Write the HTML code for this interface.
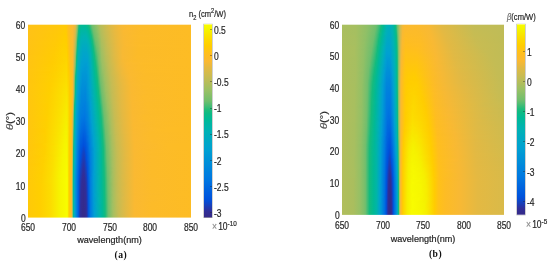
<!DOCTYPE html>
<html><head><meta charset="utf-8"><style>
html,body{margin:0;padding:0;background:#fff;width:550px;height:266px;overflow:hidden}
body{position:relative;font-family:"Liberation Sans",Arial,sans-serif;color:#262626;-webkit-text-stroke-width:0.2px}
.hm{position:absolute;overflow:hidden;transform-origin:0 0}
.hm i{position:absolute;left:0;width:100%;height:2px;display:block}
.cb{position:absolute;box-shadow:0 0 0 0.6px rgba(60,60,60,0.4)}
.t{position:absolute;font-size:10.1px;line-height:10.1px;white-space:nowrap;transform:scaleX(0.84);transform-origin:0 0}
.t.r{transform-origin:100% 0}
.t.c{transform-origin:50% 0}
.r{text-align:right}
.c{text-align:center}
.l{position:absolute;font-size:9.1px;line-height:9.1px;white-space:nowrap}
.tk{position:absolute;width:1.6px;height:1px;background:rgba(38,38,38,0.4)}
.yl{transform:translate(-50%,-50%) rotate(-90deg) scaleY(0.77);transform-origin:center;font-size:11.2px;line-height:11.2px}
.ct{position:absolute;font-size:8.6px;line-height:8.6px;white-space:nowrap;transform:scaleX(0.88);transform-origin:0 0}
.l sub,.l sup,.t sup,.ct sub,.ct sup{font-size:0.75em;line-height:0}
.x{color:#8a8a8a}
.cap{-webkit-text-stroke-width:0;position:absolute;font-family:"Liberation Serif","Times New Roman",serif;font-weight:bold;font-size:9.6px;line-height:10px;color:#111;letter-spacing:0.5px}
</style></head><body>
<div class="hm" style="left:28px;top:24px;width:163px;height:193px;transform:translateY(0.4px) scaleY(1)"><i style="top:0px;background:linear-gradient(90deg,#ffc217 0px,#ffc80b 31.5px,#ffca06 37.5px,#ffc70b 38.5px,#ffbe20 40.5px,#fab931 44.5px,#edb93c 46.5px,#e0ba45 47.5px,#b8bd59 48.5px,#88bf68 49.5px,#41bc76 50.5px,#0fbb83 51.5px,#04b991 53.5px,#03b992 57.5px,#14bb7d 60.5px,#63be70 63.5px,#73be6d 64.5px,#a5bf60 70.5px,#bcbd58 73.5px,#e7b941 85.5px,#f9b933 94.5px,#fcbb29 111.5px,#fdbc24 163px)"></i><i style="top:1px;background:linear-gradient(90deg,#ffc217 0px,#ffc70b 30.5px,#ffca06 37.5px,#ffc215 39.5px,#fdbc24 41.5px,#fab931 44.5px,#ecb93d 46.5px,#deba46 47.5px,#b4bd5b 48.5px,#83bf69 49.5px,#39bc77 50.5px,#0dba86 51.5px,#01b995 53.5px,#00b996 57.5px,#11bb81 60.5px,#27bc7a 61.5px,#5cbd71 63.5px,#70be6d 64.5px,#9ac064 69.5px,#b6bd5a 72.5px,#e4b942 84.5px,#f9b933 94.5px,#fcbb29 111.5px,#fdbc24 163px)"></i><i style="top:2px;background:linear-gradient(90deg,#ffc217 0px,#ffc80b 30.5px,#ffca05 37.5px,#ffc80a 38.5px,#ffbe1f 40.5px,#fab931 44.5px,#ebb93d 46.5px,#dcba47 47.5px,#b1be5c 48.5px,#7fbf6a 49.5px,#32bc78 50.5px,#0bba89 51.5px,#00b998 53.5px,#00b899 57.5px,#07ba8d 59.5px,#0eba84 60.5px,#1dbb7b 61.5px,#56bd72 63.5px,#6ebe6e 64.5px,#98c065 69.5px,#b5bd5a 72.5px,#e1b944 83.5px,#f9b933 94.5px,#fcbb29 111.5px,#fdbc24 163px)"></i><i style="top:3px;background:linear-gradient(90deg,#ffc217 0px,#ffc80b 30.5px,#ffcb04 37.5px,#ffc809 38.5px,#ffbe1f 40.5px,#fab931 44.5px,#eab93e 46.5px,#daba48 47.5px,#adbe5d 48.5px,#7bbf6b 49.5px,#2abc79 50.5px,#08ba8b 51.5px,#01b995 52.5px,#00b89c 54.5px,#00b89c 57.5px,#04b991 59.5px,#14bb7d 61.5px,#4fbd73 63.5px,#68be6f 64.5px,#7dbf6b 66.5px,#96c065 69.5px,#b4be5b 72.5px,#d6ba4a 80.5px,#f2b938 90.5px,#fbba2f 98.5px,#fdbc27 123.5px,#fdbc24 163px)"></i><i style="top:4px;background:linear-gradient(90deg,#ffc216 0px,#ffc80b 29.5px,#ffcb04 37.5px,#ffc908 38.5px,#ffbe1e 40.5px,#fab931 44.5px,#e8b93f 46.5px,#d7ba49 47.5px,#a9bf5f 48.5px,#77be6c 49.5px,#23bb7b 50.5px,#06ba8e 51.5px,#00b997 52.5px,#00b79f 54.5px,#00b79f 57.5px,#01b994 59.5px,#11bb81 61.5px,#63be70 64.5px,#73be6d 65.5px,#9fc062 70.5px,#b3be5b 72.5px,#d5ba4b 80.5px,#f2b938 90.5px,#fbba2f 98.5px,#fdbc27 120.5px,#fdbc24 163px)"></i><i style="top:5px;background:linear-gradient(90deg,#ffc216 0px,#ffc80a 30.5px,#ffcb03 37.5px,#ffc412 39.5px,#febd23 41.5px,#fab931 44.5px,#e7b940 46.5px,#d5ba4b 47.5px,#a6bf60 48.5px,#73be6d 49.5px,#1bbb7c 50.5px,#04b991 51.5px,#00b79f 53.5px,#00b6a1 57.5px,#00b998 59.5px,#0eba84 61.5px,#23bc7a 62.5px,#5dbd71 64.5px,#71be6d 65.5px,#92c066 69.5px,#b1be5c 72.5px,#c9bc52 77.5px,#ebb93d 87.5px,#fab931 96.5px,#fcbb28 115.5px,#fdbc24 163px)"></i><i style="top:6px;background:linear-gradient(90deg,#ffc216 0px,#ffc80a 29.5px,#ffcc02 37.5px,#ffca07 38.5px,#ffbf1d 40.5px,#fab931 44.5px,#e6b941 46.5px,#d3bb4c 47.5px,#a2bf61 48.5px,#6fbe6e 49.5px,#14bb7d 50.5px,#02b994 51.5px,#00b6a2 53.5px,#00b6a4 57.5px,#00b89b 59.5px,#03b993 60.5px,#0cba87 61.5px,#1bbb7c 62.5px,#57bd72 64.5px,#6fbe6e 65.5px,#91c066 69.5px,#b0be5c 72.5px,#c5bc54 76.5px,#e8b940 86.5px,#fab932 95.5px,#fcbb28 115.5px,#fdbc24 163px)"></i><i style="top:7px;background:linear-gradient(90deg,#ffc216 0px,#ffc909 30.5px,#ffcc02 37.5px,#ffca06 38.5px,#ffbf1c 40.5px,#fab931 44.5px,#e5b942 46.5px,#d0bb4d 47.5px,#9fc063 48.5px,#68be6f 49.5px,#12bb80 50.5px,#00b996 51.5px,#00b6a4 53.5px,#00b5a7 57.5px,#00b79e 59.5px,#00b996 60.5px,#14bb7e 62.5px,#51bd73 64.5px,#6bbe6e 65.5px,#9ac064 70.5px,#b6bd5a 73.5px,#e2b943 84.5px,#fab932 95.5px,#fcbb28 113.5px,#fdbc24 163px)"></i><i style="top:8px;background:linear-gradient(90deg,#ffc216 0px,#ffc809 29.5px,#ffcd01 37.5px,#ffca05 38.5px,#ffbf1b 40.5px,#fab930 44.5px,#f2b938 45.5px,#e3b943 46.5px,#cebb4f 47.5px,#9bc064 48.5px,#5fbd71 49.5px,#10bb83 50.5px,#00b898 51.5px,#00b5a7 53.5px,#00b4a9 57.5px,#00b7a1 59.5px,#00b899 60.5px,#11bb81 62.5px,#66be6f 65.5px,#74be6d 66.5px,#8dbf67 69.5px,#aebe5d 72.5px,#c3bc55 76.5px,#e7b940 86.5px,#f9b932 95.5px,#fcbb28 113.5px,#fdbc24 163px)"></i><i style="top:9px;background:linear-gradient(90deg,#ffc216 0px,#ffc908 30.5px,#ffcd00 37.5px,#ffc50f 39.5px,#ffc01b 40.5px,#fab930 44.5px,#f1b939 45.5px,#e2b943 46.5px,#ccbb50 47.5px,#97c065 48.5px,#55bd72 49.5px,#0dba85 50.5px,#00b89a 51.5px,#00b5a9 53.5px,#00b4ac 57.5px,#00b6a4 59.5px,#04b992 61.5px,#0fba84 62.5px,#24bc7a 63.5px,#61be70 65.5px,#72be6d 66.5px,#8bbf68 69.5px,#adbe5d 72.5px,#c3bc55 76.5px,#e7b941 86.5px,#f9b932 95.5px,#fcbb28 113.5px,#fdbc24 163px)"></i><i style="top:10px;background:linear-gradient(90deg,#ffc216 0px,#ffc907 30.5px,#ffcd00 37.5px,#ffcb04 38.5px,#ffc01a 40.5px,#fab930 44.5px,#f1b939 45.5px,#e1b944 46.5px,#c9bb51 47.5px,#93c066 48.5px,#4cbd74 49.5px,#0bba88 50.5px,#00b89c 51.5px,#00b4ab 53.5px,#00b3af 55.5px,#00b4ad 58.5px,#01b995 61.5px,#0cba87 62.5px,#1dbb7c 63.5px,#5bbd71 65.5px,#70be6d 66.5px,#89bf68 69.5px,#abbe5e 72.5px,#c2bc55 76.5px,#e6b941 86.5px,#f8b934 94.5px,#fcbb29 110.5px,#fdbc24 163px)"></i><i style="top:11px;background:linear-gradient(90deg,#ffc216 0px,#ffca07 30.5px,#ffce00 37.5px,#ffcc03 38.5px,#ffc019 40.5px,#fbba30 44.5px,#f0b939 45.5px,#dfba45 46.5px,#c7bc53 47.5px,#8fbf67 48.5px,#43bd75 49.5px,#09ba8b 50.5px,#00b79e 51.5px,#00b3ae 53.5px,#00b3b1 57.5px,#00b5a9 59.5px,#00b998 61.5px,#16bb7d 63.5px,#56bd72 65.5px,#6ebe6e 66.5px,#93c066 70.5px,#b2be5b 73.5px,#ddba46 83.5px,#f6b935 93.5px,#fcbb2b 104.5px,#fdbc24 163px)"></i><i style="top:12px;background:linear-gradient(90deg,#ffc215 0px,#ffc809 27.5px,#ffce00 37.5px,#ffcc02 38.5px,#ffc119 40.5px,#fbba30 44.5px,#f0b93a 45.5px,#deba46 46.5px,#c4bc54 47.5px,#8cbf67 48.5px,#3bbc77 49.5px,#07ba8d 50.5px,#00b7a0 51.5px,#00b3b0 53.5px,#00b2b4 55.5px,#00b2b2 58.5px,#00b89b 61.5px,#12bb7f 63.5px,#50bd73 65.5px,#6abe6f 66.5px,#91c066 70.5px,#a9bf5f 72.5px,#c1bc56 76.5px,#e6b941 86.5px,#f9b933 95.5px,#fcbb28 111.5px,#fdbc24 163px)"></i><i style="top:13px;background:linear-gradient(90deg,#ffc215 0px,#ffc908 28.5px,#ffce00 36.5px,#ffcc01 38.5px,#ffbe20 41.5px,#fbba30 44.5px,#efb93a 45.5px,#ddba46 46.5px,#c1bc56 47.5px,#88bf68 48.5px,#32bc78 49.5px,#05b990 50.5px,#00b6a2 51.5px,#00b2b2 53.5px,#00b1b5 57.5px,#00b2b5 58.5px,#00b79d 61.5px,#05b990 62.5px,#10bb82 63.5px,#2abc79 64.5px,#4bbd74 65.5px,#66be6f 66.5px,#7bbf6b 68.5px,#b0be5c 73.5px,#d4bb4b 81.5px,#eeb93b 89.5px,#fab931 97.5px,#fcbb28 113.5px,#fdbc24 163px)"></i><i style="top:14px;background:linear-gradient(90deg,#ffc215 0px,#ffca07 29.5px,#ffce00 36.5px,#ffcd01 38.5px,#ffbe1f 41.5px,#fbba2f 44.5px,#efb93a 45.5px,#dbba47 46.5px,#bfbc57 47.5px,#84bf69 48.5px,#29bc79 49.5px,#03b993 50.5px,#00b6a4 51.5px,#00b2b4 53.5px,#00b0b7 57.5px,#00b3b2 59.5px,#00b7a0 61.5px,#03b993 62.5px,#0eba84 63.5px,#24bc7a 64.5px,#61be70 66.5px,#72be6d 67.5px,#82bf69 69.5px,#afbe5d 73.5px,#dcba47 83.5px,#f8b934 94.5px,#fcbb28 111.5px,#fdbc24 163px)"></i><i style="top:15px;background:linear-gradient(90deg,#ffc215 0px,#ffc907 28.5px,#ffce00 35.5px,#ffcd00 38.5px,#ffbe1f 41.5px,#fbba2f 44.5px,#eeb93b 45.5px,#daba48 46.5px,#bcbd58 47.5px,#80bf6a 48.5px,#21bb7b 49.5px,#01b995 50.5px,#00b5a6 51.5px,#00b1b6 53.5px,#00b0b8 58.5px,#00b4ac 60.5px,#00b996 62.5px,#1dbb7b 64.5px,#5cbd71 66.5px,#70be6e 67.5px,#8cbf67 70.5px,#aebe5d 73.5px,#cbbb50 79.5px,#e7b940 87.5px,#f9b933 95.5px,#fcbb28 111.5px,#fdbc24 163px)"></i><i style="top:16px;background:linear-gradient(90deg,#ffc315 0px,#ffca06 29.5px,#ffcf00 35.5px,#ffcd00 38.5px,#ffbe1e 41.5px,#fbba2f 44.5px,#eeb93b 45.5px,#d8ba49 46.5px,#b9bd59 47.5px,#7dbf6b 48.5px,#18bb7c 49.5px,#00b997 50.5px,#00b5a8 51.5px,#00b0b7 53.5px,#00aeba 57.5px,#00b1b6 59.5px,#00b6a5 61.5px,#00b898 62.5px,#17bb7d 64.5px,#3abc77 65.5px,#57bd72 66.5px,#6ebe6e 67.5px,#8abf68 70.5px,#adbe5d 73.5px,#d3bb4c 81.5px,#f4b936 92.5px,#fbba2e 100.5px,#fdbc27 119.5px,#fdbc24 163px)"></i><i style="top:17px;background:linear-gradient(90deg,#ffc315 0px,#ffca06 28.5px,#ffcf00 36.5px,#ffce00 38.5px,#ffbe1e 41.5px,#fbba2f 44.5px,#edb93c 45.5px,#d7ba4a 46.5px,#b6bd5a 47.5px,#79be6c 48.5px,#13bb7e 49.5px,#00b899 50.5px,#00b4aa 51.5px,#00b2b4 52.5px,#00adbc 55.5px,#00aebb 58.5px,#00b3b1 60.5px,#00b89b 62.5px,#13bb7e 64.5px,#52bd73 66.5px,#6abe6f 67.5px,#89bf68 70.5px,#abbe5e 73.5px,#c6bc53 78.5px,#eab93e 88.5px,#fab932 96.5px,#fcbb28 112.5px,#fdbc24 163px)"></i><i style="top:18px;background:linear-gradient(90deg,#ffc315 0px,#ffcb05 29.5px,#ffcf00 35.5px,#ffce00 38.5px,#ffbe1d 41.5px,#fbba2f 44.5px,#edb93c 45.5px,#d5ba4b 46.5px,#b3be5b 47.5px,#75be6c 48.5px,#11bb81 49.5px,#00b89b 50.5px,#00b4ac 51.5px,#00afb9 53.5px,#00adbd 57.5px,#00b2b4 60.5px,#00b79d 62.5px,#11bb81 64.5px,#4ebd73 66.5px,#65be6f 67.5px,#7cbf6b 69.5px,#aabe5e 73.5px,#c5bc54 78.5px,#e3b942 86.5px,#f7b934 94.5px,#fcbb29 107.5px,#fdbc24 163px)"></i><i style="top:19px;background:linear-gradient(90deg,#ffc315 0px,#ffca06 27.5px,#fed000 35.5px,#ffcf00 38.5px,#ffc907 39.5px,#ffbf1d 41.5px,#fbba2e 44.5px,#ecb93c 45.5px,#d4bb4c 46.5px,#b0be5c 47.5px,#72be6d 48.5px,#0eba84 49.5px,#00b79d 50.5px,#00b3ae 51.5px,#00aebb 53.5px,#00acbe 58.5px,#00b1b5 60.5px,#00b79f 62.5px,#04b991 63.5px,#0fbb83 64.5px,#29bc7a 65.5px,#49bd74 66.5px,#61be70 67.5px,#71be6d 68.5px,#92c066 71.5px,#a9bf5f 73.5px,#c9bb52 79.5px,#ecb93c 89.5px,#fab932 96.5px,#fcbb28 112.5px,#fdbc24 163px)"></i><i style="top:20px;background:linear-gradient(90deg,#ffc314 0px,#ffca06 27.5px,#fed000 35.5px,#ffcf00 38.5px,#ffbf1c 41.5px,#fbba2e 44.5px,#ecb93d 45.5px,#d2bb4c 46.5px,#adbe5d 47.5px,#6ebe6e 48.5px,#0cba87 49.5px,#00b79f 50.5px,#00b3b0 51.5px,#00abbf 54.5px,#00abbf 58.5px,#00b0b7 60.5px,#00b3af 61.5px,#02b993 63.5px,#0eba85 64.5px,#23bc7a 65.5px,#44bd75 66.5px,#5dbd71 67.5px,#70be6e 68.5px,#83bf69 70.5px,#a8bf5f 73.5px,#cdbb50 80.5px,#efb93b 90.5px,#fbba30 98.5px,#fdbc28 114.5px,#fdbc24 163px)"></i><i style="top:21px;background:linear-gradient(90deg,#ffc314 0px,#ffc907 25.5px,#fed000 35.5px,#ffcf00 38.5px,#ffca06 39.5px,#ffbf1c 41.5px,#fbba2e 44.5px,#ebb93d 45.5px,#d0bb4d 46.5px,#aabe5e 47.5px,#67be6f 48.5px,#0aba89 49.5px,#00b6a1 50.5px,#00b3b2 51.5px,#00abc0 54.5px,#00abc0 58.5px,#00b3b1 61.5px,#00b996 63.5px,#0cba87 64.5px,#1ebb7b 65.5px,#3fbc76 66.5px,#6ebe6e 68.5px,#8fbf67 71.5px,#a7bf60 73.5px,#c8bc52 79.5px,#ecb93d 89.5px,#fab931 97.5px,#fdbc28 113.5px,#fdbc24 163px)"></i><i style="top:22px;background:linear-gradient(90deg,#ffc314 0px,#ffca05 27.5px,#fed100 35.5px,#fed000 38.5px,#ffca05 39.5px,#ffbf1b 41.5px,#fbba2e 44.5px,#ebb93e 45.5px,#cfbb4e 46.5px,#a7bf5f 47.5px,#5ebd71 48.5px,#08ba8c 49.5px,#00b6a3 50.5px,#00b2b3 51.5px,#00aac1 54.5px,#00aac2 58.5px,#00b2b3 61.5px,#00b998 63.5px,#18bb7c 65.5px,#3abc77 66.5px,#6abe6f 68.5px,#a6bf60 73.5px,#c7bc53 79.5px,#e5b942 87.5px,#f8b933 95.5px,#fcbb28 111.5px,#fdbc24 163px)"></i><i style="top:23px;background:linear-gradient(90deg,#ffc314 0px,#ffcb05 27.5px,#fed100 35.5px,#fed000 38.5px,#ffcb04 39.5px,#ffc01b 41.5px,#fbba2e 44.5px,#eab93e 45.5px,#cdbb4f 46.5px,#a4bf60 47.5px,#57bd72 48.5px,#06ba8e 49.5px,#00b5a5 50.5px,#00b2b5 51.5px,#00a9c3 54.5px,#00a9c3 58.5px,#00b1b5 61.5px,#00b89a 63.5px,#14bb7e 65.5px,#36bc77 66.5px,#66be6f 68.5px,#a4bf60 73.5px,#bdbd57 77.5px,#e5b942 87.5px,#f8b933 95.5px,#fcbb28 111.5px,#fdbc24 163px)"></i><i style="top:24px;background:linear-gradient(90deg,#ffc314 0px,#ffcb04 27.5px,#fed200 37.5px,#ffcb03 39.5px,#ffc01a 41.5px,#fbba2d 44.5px,#e9b93e 45.5px,#cbbb50 46.5px,#a2bf62 47.5px,#4fbd73 48.5px,#04b991 49.5px,#00b5a7 50.5px,#00b1b6 51.5px,#00a8c4 54.5px,#00a8c4 58.5px,#00b1b6 61.5px,#00b89c 63.5px,#12bb7f 65.5px,#4cbd74 67.5px,#62be70 68.5px,#7dbf6b 70.5px,#a3bf61 73.5px,#bcbd58 77.5px,#deba45 85.5px,#f7b934 94.5px,#fcbb28 110.5px,#fdbc24 163px)"></i><i style="top:25px;background:linear-gradient(90deg,#ffc314 0px,#ffcb04 27.5px,#fed200 35.5px,#fed100 38.5px,#ffcc03 39.5px,#ffc01a 41.5px,#fbba2d 44.5px,#e9b93f 45.5px,#cabb51 46.5px,#9fc063 47.5px,#47bd74 48.5px,#02b993 49.5px,#00b5a9 50.5px,#00b0b7 51.5px,#00a8c5 54.5px,#00a7c6 58.5px,#00b0b8 61.5px,#00b79e 63.5px,#05b990 64.5px,#11bb81 65.5px,#48bd74 67.5px,#71be6d 69.5px,#a2bf61 73.5px,#bbbd58 77.5px,#deba46 85.5px,#f7b934 94.5px,#fcbb28 110.5px,#fdbc24 163px)"></i><i style="top:26px;background:linear-gradient(90deg,#ffc314 0px,#ffcb04 26.5px,#fed200 36.5px,#fed100 38.5px,#ffcc02 39.5px,#ffc019 41.5px,#fbba2d 44.5px,#e8b93f 45.5px,#c8bc52 46.5px,#9cc064 47.5px,#40bc76 48.5px,#00b996 49.5px,#00b4ab 50.5px,#00b0b8 51.5px,#00a7c6 54.5px,#00a7c7 58.5px,#00afb9 61.5px,#03b992 64.5px,#0fbb83 65.5px,#44bd75 67.5px,#6fbe6e 69.5px,#a1bf62 73.5px,#bbbd58 77.5px,#e1b944 86.5px,#f7b934 94.5px,#fcbb28 110.5px,#fdbc24 163px)"></i><i style="top:27px;background:linear-gradient(90deg,#ffc313 0px,#ffcb05 25.5px,#fed200 35.5px,#fed200 38.5px,#ffcc01 39.5px,#ffc119 41.5px,#fbba2d 44.5px,#e8b940 45.5px,#c6bc53 46.5px,#99c064 47.5px,#39bc77 48.5px,#00b998 49.5px,#00b4ac 50.5px,#00afb9 51.5px,#00a6c7 54.5px,#00a6c8 58.5px,#00aeba 61.5px,#00b6a1 63.5px,#02b994 64.5px,#0eba85 65.5px,#23bb7b 66.5px,#40bc76 67.5px,#6dbe6e 69.5px,#a0bf62 73.5px,#babd58 77.5px,#ddba46 85.5px,#f7b934 94.5px,#fcbb28 110.5px,#fdbc24 163px)"></i><i style="top:28px;background:linear-gradient(90deg,#ffc313 0px,#ffca06 23.5px,#fed100 33.5px,#fed200 38.5px,#ffcd00 39.5px,#ffc118 41.5px,#fbba2d 44.5px,#e7b940 45.5px,#c5bc54 46.5px,#96c065 47.5px,#32bc78 48.5px,#00b89a 49.5px,#00b3ae 50.5px,#00aeba 51.5px,#00a6c9 54.5px,#00a5ca 58.5px,#00aebb 61.5px,#00b2b2 62.5px,#00b996 64.5px,#0cba87 65.5px,#1ebb7b 66.5px,#3cbc76 67.5px,#6abe6f 69.5px,#9fc063 73.5px,#bfbc57 78.5px,#e3b943 87.5px,#f7b934 94.5px,#fcbb28 110.5px,#fdbc24 163px)"></i><i style="top:29px;background:linear-gradient(90deg,#ffc313 0px,#ffcb04 25.5px,#fed300 35.5px,#fed300 38.5px,#ffcd00 39.5px,#ffc118 41.5px,#fbba2c 44.5px,#e6b941 45.5px,#c3bc55 46.5px,#93c066 47.5px,#2bbc79 48.5px,#00b89b 49.5px,#00b3b0 50.5px,#00aac1 52.5px,#00a4cb 55.5px,#00a6c8 59.5px,#00b2b4 62.5px,#00b997 64.5px,#1abb7c 66.5px,#38bc77 67.5px,#66be6f 69.5px,#9ec063 73.5px,#bebd57 78.5px,#e0ba45 86.5px,#f7b934 94.5px,#fcbb28 110.5px,#fdbc24 163px)"></i><i style="top:30px;background:linear-gradient(90deg,#ffc313 0px,#ffcc03 26.5px,#fed300 38.5px,#ffce00 39.5px,#ffc117 41.5px,#fbba2c 44.5px,#e6b941 45.5px,#c1bc56 46.5px,#91c066 47.5px,#24bc7a 48.5px,#00b79d 49.5px,#00b3b1 50.5px,#00aac2 52.5px,#00a4cc 55.5px,#00a5c9 59.5px,#00b1b5 62.5px,#00b899 64.5px,#16bb7d 66.5px,#34bc78 67.5px,#63be70 69.5px,#82bf6a 71.5px,#9dc063 73.5px,#b8bd59 77.5px,#dcba47 85.5px,#f7b934 94.5px,#fcbb28 110.5px,#fdbc24 163px)"></i><i style="top:31px;background:linear-gradient(90deg,#ffc413 0px,#ffcb04 24.5px,#fed300 34.5px,#fed300 38.5px,#ffce00 39.5px,#ffc217 41.5px,#fbba2c 44.5px,#e5b941 45.5px,#bfbc56 46.5px,#8ebf67 47.5px,#1ebb7b 48.5px,#00b79f 49.5px,#00b2b3 50.5px,#00a9c3 52.5px,#00a3cd 55.5px,#00a5ca 59.5px,#00b1b6 62.5px,#00b89a 64.5px,#13bb7e 66.5px,#48bd74 68.5px,#73be6d 70.5px,#9cc064 73.5px,#b7bd59 77.5px,#dcba47 85.5px,#f7b935 94.5px,#fcbb29 108.5px,#fdbc24 163px)"></i><i style="top:32px;background:linear-gradient(90deg,#ffc413 0px,#ffcc02 26.5px,#fed400 38.5px,#ffce00 39.5px,#ffbe1e 42.5px,#fcbb2c 44.5px,#e5b942 45.5px,#bebd57 46.5px,#8bbf68 47.5px,#17bb7c 48.5px,#00b7a0 49.5px,#00b2b4 50.5px,#00a8c4 52.5px,#00a2ce 55.5px,#00a4cb 59.5px,#00b0b7 62.5px,#00b89c 64.5px,#12bb7f 66.5px,#5cbd71 69.5px,#72be6d 70.5px,#9bc064 73.5px,#b6bd5a 77.5px,#dbba47 85.5px,#f7b935 94.5px,#fcbb29 108.5px,#fdbc24 163px)"></i><i style="top:33px;background:linear-gradient(90deg,#ffc413 0px,#ffcc03 25.5px,#fdd500 37.5px,#ffcf00 39.5px,#ffbe1d 42.5px,#fcbb2c 44.5px,#e4b942 45.5px,#bcbd58 46.5px,#88bf68 47.5px,#13bb7e 48.5px,#00b6a2 49.5px,#00b1b5 50.5px,#00a8c5 52.5px,#00a2cf 55.5px,#00a4cc 59.5px,#00b0b8 62.5px,#00b79d 64.5px,#11bb81 66.5px,#71be6d 70.5px,#9ac064 73.5px,#b6bd5a 77.5px,#dbba47 85.5px,#f7b935 94.5px,#fcbb29 108.5px,#fdbc24 163px)"></i><i style="top:34px;background:linear-gradient(90deg,#ffc413 0px,#ffcb03 24.5px,#fdd500 38.5px,#ffcf00 39.5px,#ffbf1d 42.5px,#fcbb2c 44.5px,#e4b942 45.5px,#babd59 46.5px,#85bf69 47.5px,#11bb80 48.5px,#00b6a4 49.5px,#00b1b6 50.5px,#00a4cb 53.5px,#00a1d0 56.5px,#00a3cd 59.5px,#00afb9 62.5px,#00b79e 64.5px,#05b990 65.5px,#10bb82 66.5px,#3ebc76 68.5px,#70be6e 70.5px,#99c064 73.5px,#bbbd58 78.5px,#e2b944 87.5px,#f8b933 95.5px,#fcbb28 111.5px,#fdbc24 163px)"></i><i style="top:35px;background:linear-gradient(90deg,#ffc412 0px,#ffcc03 24.5px,#fdd500 38.5px,#fed000 39.5px,#ffbf1c 42.5px,#fcbb2b 44.5px,#e3b943 45.5px,#b7bd59 46.5px,#82bf69 47.5px,#0fbb83 48.5px,#00b5a5 49.5px,#00b0b7 50.5px,#00a4cc 53.5px,#00a0d1 56.5px,#00a2ce 59.5px,#00afba 62.5px,#03b992 65.5px,#0fba83 66.5px,#21bb7b 67.5px,#6fbe6e 70.5px,#98c065 73.5px,#b4bd5b 77.5px,#d6ba4a 84.5px,#f4b936 93.5px,#fbba2d 101.5px,#fdbc27 122.5px,#fdbc24 163px)"></i><i style="top:36px;background:linear-gradient(90deg,#ffc412 0px,#ffcb04 22.5px,#fed200 32.5px,#fdd500 38.5px,#fed000 39.5px,#ffbf1c 42.5px,#fcbb2b 44.5px,#e2b943 45.5px,#b5bd5a 46.5px,#7fbf6a 47.5px,#0eba85 48.5px,#00b5a7 49.5px,#00afb8 50.5px,#00a3cd 53.5px,#00a0d2 56.5px,#00a2cf 59.5px,#00aeba 62.5px,#02b993 65.5px,#1dbb7b 67.5px,#6cbe6e 70.5px,#97c065 73.5px,#b4be5b 77.5px,#daba48 85.5px,#f6b935 94.5px,#fcbb2a 105.5px,#fdbc24 163px)"></i><i style="top:37px;background:linear-gradient(90deg,#ffc412 0px,#ffcc02 24.5px,#fdd600 38.5px,#fed100 39.5px,#ffbf1b 42.5px,#fcbb2b 44.5px,#e1b944 45.5px,#b3be5b 46.5px,#7cbf6b 47.5px,#0cba87 48.5px,#00b5a9 49.5px,#00afb9 50.5px,#00a2ce 53.5px,#009fd2 55.5px,#00a1d0 59.5px,#00aebb 62.5px,#01b995 65.5px,#1abb7c 67.5px,#6abe6f 70.5px,#95c065 73.5px,#b3be5b 77.5px,#d5ba4a 84.5px,#f6b935 94.5px,#fcbb2b 105.5px,#fdbc24 158.5px,#fdbc24 163px)"></i><i style="top:38px;background:linear-gradient(90deg,#ffc412 0px,#ffcc02 24.5px,#fdd600 38.5px,#fed100 39.5px,#ffca06 40.5px,#ffc01b 42.5px,#fcbb2b 44.5px,#e1b944 45.5px,#b0be5c 46.5px,#79be6c 47.5px,#0aba8a 48.5px,#00b4aa 49.5px,#00aeba 50.5px,#00a2cf 53.5px,#009ed3 58.5px,#00a4cb 60.5px,#00adbc 62.5px,#00b996 65.5px,#16bb7d 67.5px,#67be6f 70.5px,#87bf68 72.5px,#9ec063 74.5px,#c8bc52 81.5px,#f1b939 92.5px,#fbba30 99.5px,#fdbc28 115.5px,#fdbc24 163px)"></i><i style="top:39px;background:linear-gradient(90deg,#ffc412 0px,#ffcc02 23.5px,#fdd700 38.5px,#ffca05 40.5px,#ffc01a 42.5px,#fcbb2a 44.5px,#e0ba44 45.5px,#aebe5d 46.5px,#75be6c 47.5px,#08ba8c 48.5px,#00b4ac 49.5px,#00aebb 50.5px,#00a1d0 53.5px,#009dd3 58.5px,#00a4cc 60.5px,#00b2b2 63.5px,#00b997 65.5px,#14bb7e 67.5px,#64be70 70.5px,#78be6c 71.5px,#9dc063 74.5px,#c7bc53 81.5px,#f0b939 92.5px,#fbba30 99.5px,#fdbc28 115.5px,#fdbc24 163px)"></i><i style="top:40px;background:linear-gradient(90deg,#ffc412 0px,#ffcd01 24.5px,#fdd700 38.5px,#ffcb04 40.5px,#ffc01a 42.5px,#fcbb2a 44.5px,#dfba45 45.5px,#abbe5e 46.5px,#72be6d 47.5px,#06ba8f 48.5px,#00b3ae 49.5px,#00a8c5 51.5px,#00a1d1 53.5px,#009cd3 57.5px,#00a0d2 59.5px,#00adbd 62.5px,#00b998 65.5px,#13bb7f 67.5px,#44bd75 69.5px,#61be70 70.5px,#77be6c 71.5px,#9cc064 74.5px,#c7bc53 81.5px,#f0b93a 92.5px,#fab931 98.5px,#fcbb28 114.5px,#fdbc24 163px)"></i><i style="top:41px;background:linear-gradient(90deg,#ffc411 0px,#ffcc03 22.5px,#fdd600 34.5px,#fdd800 38.5px,#ffcb04 40.5px,#ffc019 42.5px,#fcbb2a 44.5px,#deba45 45.5px,#a9bf5f 46.5px,#6ebe6e 47.5px,#04b991 48.5px,#00b3af 49.5px,#00a7c6 51.5px,#00a0d2 53.5px,#009cd4 58.5px,#00a7c7 61.5px,#00b2b4 63.5px,#00b899 65.5px,#12bb80 67.5px,#26bc7a 68.5px,#5ebd71 70.5px,#75be6c 71.5px,#9ac064 74.5px,#c1bc56 80.5px,#e9b93f 90.5px,#f9b933 97.5px,#fcbb29 110.5px,#fdbc24 163px)"></i><i style="top:42px;background:linear-gradient(90deg,#ffc411 0px,#ffcc02 22.5px,#fdd800 38.5px,#ffcc03 40.5px,#ffc119 42.5px,#fcbb2a 44.5px,#deba46 45.5px,#a6bf60 46.5px,#66be6f 47.5px,#02b994 48.5px,#00b3b1 49.5px,#00a7c7 51.5px,#009cd4 54.5px,#009bd4 58.5px,#00a2ce 60.5px,#00b2b5 63.5px,#00b89a 65.5px,#11bb81 67.5px,#23bb7b 68.5px,#74be6d 71.5px,#99c064 74.5px,#c0bc56 80.5px,#deba46 87.5px,#f4b937 94.5px,#fbba2e 102.5px,#fdbc27 121.5px,#fdbc24 163px)"></i><i style="top:43px;background:linear-gradient(90deg,#ffc411 0px,#fed000 28.5px,#fdd800 38.5px,#ffcc02 40.5px,#ffc118 42.5px,#fcbb29 44.5px,#ddba46 45.5px,#a3bf61 46.5px,#5dbd71 47.5px,#00b996 48.5px,#00b2b3 49.5px,#00a6c8 51.5px,#009fd3 53.5px,#009ad4 56.5px,#009ad4 58.5px,#00a2cf 60.5px,#00b1b5 63.5px,#00b89b 65.5px,#10bb83 67.5px,#20bb7b 68.5px,#73be6d 71.5px,#98c065 74.5px,#c0bc56 80.5px,#e8b940 90.5px,#fab932 98.5px,#fcbb28 113.5px,#fdbc24 163px)"></i><i style="top:44px;background:linear-gradient(90deg,#ffc511 0px,#ffcc03 21.5px,#fdd500 33.5px,#fdd900 38.5px,#ffcd01 40.5px,#ffc118 42.5px,#fcbb29 44.5px,#dcba47 45.5px,#a0bf62 46.5px,#55bd72 47.5px,#00b998 48.5px,#00b2b4 49.5px,#00a6c8 51.5px,#009ed3 53.5px,#0099d5 56.5px,#009dd3 59.5px,#00a6c8 61.5px,#00b1b6 63.5px,#00b89c 65.5px,#0fba84 67.5px,#1cbb7c 68.5px,#72be6d 71.5px,#96c065 74.5px,#bfbc56 80.5px,#e0b944 88.5px,#f2b938 94.5px,#fbba2f 101.5px,#fdbc28 117.5px,#fdbc24 163px)"></i><i style="top:45px;background:linear-gradient(90deg,#ffc511 0px,#ffcf00 26.5px,#fdd900 38.5px,#ffcd00 40.5px,#ffc117 42.5px,#fcbb29 44.5px,#dbba47 45.5px,#9ec063 46.5px,#4cbd74 47.5px,#00b89a 48.5px,#00b1b5 49.5px,#00a5c9 51.5px,#009dd3 53.5px,#0098d5 57.5px,#00a1d0 60.5px,#00b4aa 64.5px,#04b990 66.5px,#19bb7c 68.5px,#71be6d 71.5px,#95c065 74.5px,#bebc57 80.5px,#e0ba45 88.5px,#f6b935 96.5px,#fcbb2a 107.5px,#fdbc24 163px)"></i><i style="top:46px;background:linear-gradient(90deg,#ffc511 0px,#ffcf00 26.5px,#fcda00 38.5px,#ffce00 40.5px,#ffc217 42.5px,#fcbb29 44.5px,#daba48 45.5px,#9bc064 46.5px,#44bd75 47.5px,#00b89c 48.5px,#00b1b6 49.5px,#00a5ca 51.5px,#009cd3 53.5px,#0098d5 58.5px,#00a1d0 60.5px,#00b0b7 63.5px,#03b992 66.5px,#16bb7d 68.5px,#6fbe6e 71.5px,#94c066 74.5px,#bebd57 80.5px,#e6b941 90.5px,#fab932 99.5px,#fcbb28 114.5px,#fdbc24 163px)"></i><i style="top:47px;background:linear-gradient(90deg,#ffc510 0px,#ffcc02 21.5px,#fcda00 38.5px,#ffce00 40.5px,#ffc216 42.5px,#fcbb28 44.5px,#d9ba48 45.5px,#98c065 46.5px,#3cbc76 47.5px,#00b79e 48.5px,#00b0b7 49.5px,#00a0d2 52.5px,#0097d5 55.5px,#0098d5 58.5px,#00a1d1 60.5px,#00b4ac 64.5px,#02b993 66.5px,#14bb7e 68.5px,#4dbd73 70.5px,#6ebe6e 71.5px,#92c066 74.5px,#b1be5c 78.5px,#d4bb4b 85.5px,#f3b938 95.5px,#fbba2f 102.5px,#fdbc28 118.5px,#fdbc24 163px)"></i><i style="top:48px;background:linear-gradient(90deg,#ffc510 0px,#ffcc01 21.5px,#fcdb00 38.5px,#ffcf00 40.5px,#ffbe1e 43.5px,#fcbb28 44.5px,#d8ba49 45.5px,#95c065 46.5px,#33bc78 47.5px,#00b7a0 48.5px,#00b0b8 49.5px,#00a4cc 51.5px,#009ad4 53.5px,#0096d6 57.5px,#00a0d2 60.5px,#00b4ac 64.5px,#01b994 66.5px,#13bb7f 68.5px,#4abd74 70.5px,#6bbe6e 71.5px,#87bf69 73.5px,#a2bf61 76.5px,#c7bc53 82.5px,#eeb93b 93.5px,#fab930 101.5px,#fcbb28 117.5px,#fdbc24 163px)"></i><i style="top:49px;background:linear-gradient(90deg,#ffc510 0px,#fed000 26.5px,#fcdb00 38.5px,#ffcf00 40.5px,#ffbe1e 43.5px,#fdbc28 44.5px,#d8ba49 45.5px,#92c066 46.5px,#2bbc79 47.5px,#00b6a2 48.5px,#00afb9 49.5px,#00a3cd 51.5px,#0096d6 54.5px,#0096d6 58.5px,#00a0d2 60.5px,#00b4ad 64.5px,#00b995 66.5px,#12bb80 68.5px,#29bc7a 69.5px,#68be6f 71.5px,#85bf69 73.5px,#a9bf5f 77.5px,#cfbb4e 84.5px,#efb93a 94.5px,#fbba2f 102.5px,#fcbb28 118.5px,#fdbc24 163px)"></i><i style="top:50px;background:linear-gradient(90deg,#ffc510 0px,#ffcc02 20.5px,#fcdb00 38.5px,#fed000 40.5px,#ffbe1d 43.5px,#fdbc28 44.5px,#d7ba4a 45.5px,#8fbf67 46.5px,#23bc7a 47.5px,#00b6a4 48.5px,#00aeba 49.5px,#00a3ce 51.5px,#0096d6 54.5px,#0096d6 58.5px,#009fd2 60.5px,#00b3ae 64.5px,#00b997 66.5px,#11bb81 68.5px,#26bc7a 69.5px,#65be6f 71.5px,#84bf69 73.5px,#a8bf5f 77.5px,#cabb51 83.5px,#efb93a 94.5px,#fbba30 102.5px,#fcbb28 118.5px,#fdbc24 163px)"></i><i style="top:51px;background:linear-gradient(90deg,#ffc510 0px,#ffcf00 24.5px,#fcdc00 38.5px,#fed000 40.5px,#ffbf1d 43.5px,#fdbc27 44.5px,#d6ba4a 45.5px,#8cbf67 46.5px,#1bbb7c 47.5px,#00b5a5 48.5px,#00aebb 49.5px,#00a2cf 51.5px,#0095d6 54.5px,#0095d6 58.5px,#009fd2 60.5px,#00b3af 64.5px,#00b998 66.5px,#10bb82 68.5px,#23bb7b 69.5px,#62be70 71.5px,#76be6c 72.5px,#9fc062 76.5px,#c5bc54 82.5px,#ecb93d 93.5px,#fbba30 102.5px,#fcbb28 118.5px,#fdbc24 163px)"></i><i style="top:52px;background:linear-gradient(90deg,#ffc510 0px,#ffcf00 24.5px,#fcdc00 38.5px,#fed100 40.5px,#ffbf1d 43.5px,#fdbc27 44.5px,#d5ba4b 45.5px,#89bf68 46.5px,#14bb7d 47.5px,#00b5a7 48.5px,#00adbc 49.5px,#00a1d0 51.5px,#0094d6 54.5px,#0095d6 58.5px,#009fd3 60.5px,#00b3b0 64.5px,#00b899 66.5px,#0fbb83 68.5px,#20bb7b 69.5px,#5fbd71 71.5px,#75be6d 72.5px,#9ec063 76.5px,#c4bc54 82.5px,#e5b941 91.5px,#f9b933 100.5px,#fcbb2a 111.5px,#fdbc24 163px)"></i><i style="top:53px;background:linear-gradient(90deg,#ffc510 0px,#ffcf00 24.5px,#fcdc00 38.5px,#fed100 40.5px,#ffbf1c 43.5px,#fdbc27 44.5px,#d4bb4b 45.5px,#86bf69 46.5px,#12bb80 47.5px,#00b5a9 48.5px,#00adbd 49.5px,#00a1d0 51.5px,#0093d7 54.5px,#0094d6 58.5px,#009ed3 60.5px,#00b3b1 64.5px,#00b899 66.5px,#0eba84 68.5px,#1dbb7c 69.5px,#5cbd71 71.5px,#73be6d 72.5px,#9dc063 76.5px,#c3bc55 82.5px,#e8b940 92.5px,#fab932 101.5px,#fcbb29 113.5px,#fdbc24 163px)"></i><i style="top:54px;background:linear-gradient(90deg,#ffc50f 0px,#ffcc02 19.5px,#fcdd00 38.5px,#fed200 40.5px,#ffc413 42.5px,#fdbc27 44.5px,#d4bb4c 45.5px,#84bf69 46.5px,#10bb82 47.5px,#00b4ab 48.5px,#00acbe 49.5px,#00a0d1 51.5px,#0093d7 54.5px,#0094d7 58.5px,#009ed3 60.5px,#00b3b2 64.5px,#00b89a 66.5px,#0dba85 68.5px,#1abb7c 69.5px,#59bd72 71.5px,#72be6d 72.5px,#9cc063 76.5px,#c3bc55 82.5px,#e7b940 92.5px,#fab932 101.5px,#fcbb29 113.5px,#fdbc24 163px)"></i><i style="top:55px;background:linear-gradient(90deg,#ffc50f 0px,#fed000 24.5px,#fcdd00 38.5px,#fed200 40.5px,#ffbf1b 43.5px,#fdbc27 44.5px,#d3bb4c 45.5px,#81bf6a 46.5px,#0eba84 47.5px,#00b4ac 48.5px,#00acbe 49.5px,#00a0d2 51.5px,#0092d7 54.5px,#0093d7 58.5px,#009dd3 60.5px,#00b2b2 64.5px,#00b89b 66.5px,#0cba86 68.5px,#17bb7d 69.5px,#56bd72 71.5px,#71be6d 72.5px,#9bc064 76.5px,#c2bc55 82.5px,#e4b942 91.5px,#fab931 102.5px,#fcbb29 115.5px,#fdbc24 163px)"></i><i style="top:56px;background:linear-gradient(90deg,#ffc50f 0px,#fed000 24.5px,#fbde00 38.5px,#fed300 40.5px,#ffca06 41.5px,#fdbc26 44.5px,#d2bb4c 45.5px,#7fbf6a 46.5px,#0cba87 47.5px,#00b3ae 48.5px,#00a4cb 50.5px,#0099d5 52.5px,#0091d8 54.5px,#0093d7 58.5px,#009dd3 60.5px,#00b2b3 64.5px,#03b992 67.5px,#14bb7d 69.5px,#6fbe6e 72.5px,#9ac064 76.5px,#c2bc56 82.5px,#e6b941 92.5px,#fab931 102.5px,#fcbb29 115.5px,#fdbc24 163px)"></i><i style="top:57px;background:linear-gradient(90deg,#ffc50f 0px,#fed000 24.5px,#fbde00 38.5px,#fed300 40.5px,#ffca05 41.5px,#fdbc26 44.5px,#d1bb4d 45.5px,#7cbf6b 46.5px,#0aba89 47.5px,#00b3af 48.5px,#00abc0 49.5px,#009ed3 51.5px,#0091d8 54.5px,#008fd8 57.5px,#00a3ce 61.5px,#00b5a8 65.5px,#02b993 67.5px,#13bb7e 69.5px,#6ebe6e 72.5px,#a2bf62 77.5px,#cabb51 84.5px,#ebb93e 94.5px,#fab930 103.5px,#fcbb29 117.5px,#fdbc24 163px)"></i><i style="top:58px;background:linear-gradient(90deg,#ffc50f 0px,#ffcf00 22.5px,#fbdf00 38.5px,#fed400 40.5px,#ffcb05 41.5px,#fdbc26 44.5px,#d1bb4d 45.5px,#7abf6b 46.5px,#09ba8b 47.5px,#00b3b1 48.5px,#00a3cc 50.5px,#0097d5 52.5px,#008fd8 55.5px,#0092d7 58.5px,#009cd4 60.5px,#00b2b5 64.5px,#01b995 67.5px,#12bb7f 69.5px,#6abe6f 72.5px,#98c065 76.5px,#bbbd58 81.5px,#dcba47 89.5px,#f9b933 101.5px,#fcbb2a 113.5px,#fdbc24 163px)"></i><i style="top:59px;background:linear-gradient(90deg,#ffc60f 0px,#ffcf00 22.5px,#fbdf00 38.5px,#fed400 40.5px,#ffcb04 41.5px,#fdbc26 44.5px,#d0bb4d 45.5px,#78be6c 46.5px,#07ba8d 47.5px,#00b2b2 48.5px,#00a3cd 50.5px,#0097d6 52.5px,#008fd8 54.5px,#0091d8 58.5px,#00a2cf 61.5px,#00b4aa 65.5px,#00b996 67.5px,#11bb80 69.5px,#2abc79 70.5px,#67be6f 72.5px,#82bf6a 74.5px,#a7bf5f 78.5px,#c9bb52 84.5px,#eab93e 94.5px,#fab932 102.5px,#fcbb2a 113.5px,#fdbc24 163px)"></i><i style="top:60px;background:linear-gradient(90deg,#ffc60f 0px,#ffcf00 22.5px,#fbe000 38.5px,#fed400 40.5px,#ffcb03 41.5px,#fdbc26 44.5px,#d0bb4e 45.5px,#76be6c 46.5px,#06ba8f 47.5px,#00b2b4 48.5px,#00a2ce 50.5px,#008ed9 54.5px,#0090d8 58.5px,#00a2cf 61.5px,#00b4ab 65.5px,#00b997 67.5px,#11bb81 69.5px,#27bc7a 70.5px,#64be70 72.5px,#76be6c 73.5px,#9fc063 77.5px,#c9bc52 84.5px,#ecb93d 95.5px,#fbba2f 104.5px,#fdbc27 129.5px,#fdbc24 163px)"></i><i style="top:61px;background:linear-gradient(90deg,#ffc60f 0px,#ffcf00 22.5px,#fbe000 38.5px,#fdd500 40.5px,#ffcc03 41.5px,#fdbc26 44.5px,#cfbb4e 45.5px,#75be6c 46.5px,#04b990 47.5px,#00b2b5 48.5px,#00a2cf 50.5px,#0090d8 53.5px,#008dd9 57.5px,#00a1d0 61.5px,#00b4ac 65.5px,#00b998 67.5px,#10bb82 69.5px,#24bc7a 70.5px,#61be70 72.5px,#74be6d 73.5px,#9ec063 77.5px,#c4bc55 83.5px,#e4b942 92.5px,#fab931 103.5px,#fcbb29 116.5px,#fdbc24 163px)"></i><i style="top:62px;background:linear-gradient(90deg,#ffc60f 0px,#ffcf00 22.5px,#fae100 38.5px,#fdd500 40.5px,#ffcc02 41.5px,#fdbc26 44.5px,#cfbb4e 45.5px,#73be6d 46.5px,#03b992 47.5px,#00b1b6 48.5px,#00a1d0 50.5px,#008fd8 53.5px,#008cd9 57.5px,#00a1d0 61.5px,#00b4ad 65.5px,#00b899 67.5px,#0fba83 69.5px,#21bb7b 70.5px,#5ebd71 72.5px,#73be6d 73.5px,#9dc063 77.5px,#c3bc55 83.5px,#e6b941 93.5px,#fab931 103.5px,#fcbb29 116.5px,#fdbc24 163px)"></i><i style="top:63px;background:linear-gradient(90deg,#ffc60f 0px,#ffcf00 21.5px,#fae100 38.5px,#fbde00 39.5px,#ffcc02 41.5px,#fdbc26 44.5px,#cebb4f 45.5px,#72be6d 46.5px,#02b993 47.5px,#00b1b6 48.5px,#00a1d0 50.5px,#008ed9 53.5px,#008bda 57.5px,#00a1d1 61.5px,#00b3ae 65.5px,#00b89a 67.5px,#0eba84 69.5px,#1ebb7b 70.5px,#5abd71 72.5px,#72be6d 73.5px,#9cc063 77.5px,#c3bc55 83.5px,#e6b941 93.5px,#fab931 103.5px,#fcbb29 116.5px,#fdbc24 163px)"></i><i style="top:64px;background:linear-gradient(90deg,#ffc60f 0px,#ffcf00 21.5px,#fae200 38.5px,#fdd600 40.5px,#ffcc02 41.5px,#fdbc26 44.5px,#cebb4f 45.5px,#71be6d 46.5px,#01b995 47.5px,#00b0b7 48.5px,#00a0d1 50.5px,#008dd9 53.5px,#008bda 57.5px,#00a0d1 61.5px,#00b3af 65.5px,#00b89a 67.5px,#0dba86 69.5px,#1bbb7c 70.5px,#57bd72 72.5px,#70be6d 73.5px,#9cc064 77.5px,#c2bc55 83.5px,#e0b944 91.5px,#fab932 102.5px,#fcbb2a 115.5px,#fdbc24 163px)"></i><i style="top:65px;background:linear-gradient(90deg,#ffc60f 0px,#ffcf00 21.5px,#fbdf00 35.5px,#fae200 38.5px,#fbdf00 39.5px,#ffcc01 41.5px,#fdbc26 44.5px,#cebb4f 45.5px,#70be6d 46.5px,#00b996 47.5px,#00b0b8 48.5px,#00a0d2 50.5px,#008dd9 53.5px,#008ada 57.5px,#0098d5 60.5px,#00a0d2 61.5px,#00b5a5 66.5px,#04b992 68.5px,#18bb7c 70.5px,#6fbe6e 73.5px,#9bc064 77.5px,#c7bc53 84.5px,#e8b940 94.5px,#fab931 103.5px,#fcbb29 119.5px,#fdbc24 163px)"></i><i style="top:66px;background:linear-gradient(90deg,#ffc60f 0px,#ffcf00 21.5px,#fbde00 34.5px,#fae300 38.5px,#fdd600 40.5px,#ffcd01 41.5px,#fdbc26 44.5px,#cdbb4f 45.5px,#6fbe6e 46.5px,#00b997 47.5px,#00afb9 48.5px,#009fd2 50.5px,#008cda 53.5px,#0089da 57.5px,#00a0d2 61.5px,#00b5a6 66.5px,#03b993 68.5px,#14bb7d 70.5px,#6ebe6e 73.5px,#9ac064 77.5px,#c1bc56 83.5px,#e0ba44 91.5px,#fab931 103.5px,#fcbb29 119.5px,#fdbc24 163px)"></i><i style="top:67px;background:linear-gradient(90deg,#ffc60f 0px,#ffcf00 21.5px,#fbe000 35.5px,#fae300 38.5px,#fdd600 40.5px,#ffcd00 41.5px,#fdbc26 44.5px,#ccbb50 45.5px,#6dbe6e 46.5px,#00b898 47.5px,#00afb9 48.5px,#009fd3 50.5px,#008bda 53.5px,#0089db 57.5px,#0097d5 60.5px,#00a5ca 62.5px,#00b5a7 66.5px,#02b994 68.5px,#13bb7e 70.5px,#6bbe6f 73.5px,#99c064 77.5px,#c1bc56 83.5px,#e3b943 92.5px,#fab931 103.5px,#fcbb29 119.5px,#fdbc24 163px)"></i><i style="top:68px;background:linear-gradient(90deg,#ffc60f 0px,#fed000 21.5px,#fcdc00 33.5px,#fae400 38.5px,#fbe000 39.5px,#ffcd00 41.5px,#fdbc26 44.5px,#cbbb50 45.5px,#68be6f 46.5px,#00b899 47.5px,#00aeba 48.5px,#009ed3 50.5px,#008ada 53.5px,#0088db 57.5px,#009fd3 61.5px,#00b5a8 66.5px,#01b995 68.5px,#12bb7f 70.5px,#68be6f 73.5px,#8ebf67 76.5px,#b5bd5a 81.5px,#d2bb4d 87.5px,#efb93b 97.5px,#fbba2f 105.5px,#fdbc27 130.5px,#fdbc24 163px)"></i><i style="top:69px;background:linear-gradient(90deg,#ffc60f 0px,#fed000 21.5px,#fbdf00 34.5px,#f9e400 38.5px,#fdd700 40.5px,#ffcd00 41.5px,#fdbc26 44.5px,#cabb51 45.5px,#63be70 46.5px,#00b89b 47.5px,#00aebb 48.5px,#00a5ca 49.5px,#009dd3 50.5px,#008ada 53.5px,#0087db 57.5px,#009ed3 61.5px,#00b5a9 66.5px,#00b996 68.5px,#11bb80 70.5px,#48bd74 72.5px,#64be70 73.5px,#76be6c 74.5px,#9fc062 78.5px,#c5bc54 84.5px,#e5b942 93.5px,#fab931 103.5px,#fcbb29 119.5px,#fdbc24 163px)"></i><i style="top:70px;background:linear-gradient(90deg,#ffc60f 0px,#ffcf00 20.5px,#fbdf00 34.5px,#f9e400 38.5px,#fae100 39.5px,#ffcd00 41.5px,#fdbc27 44.5px,#c8bc52 45.5px,#5ebd71 46.5px,#00b89c 47.5px,#00adbc 48.5px,#00a4cb 49.5px,#0095d6 51.5px,#0089db 53.5px,#0087db 57.5px,#0095d6 60.5px,#00a4cc 62.5px,#00b4aa 66.5px,#00b997 68.5px,#11bb81 70.5px,#26bc7a 71.5px,#61be70 73.5px,#74be6d 74.5px,#9ec063 78.5px,#c5bc54 84.5px,#e5b942 93.5px,#fab931 103.5px,#fcbb29 119.5px,#fdbc24 163px)"></i><i style="top:71px;background:linear-gradient(90deg,#ffc60f 0px,#ffcf00 20.5px,#fbe000 34.5px,#f9e500 38.5px,#fae100 39.5px,#ffcd00 41.5px,#fdbc27 44.5px,#c6bc53 45.5px,#58bd72 46.5px,#00b79e 47.5px,#00adbd 48.5px,#00a4cc 49.5px,#009cd4 50.5px,#0088db 53.5px,#0086dc 57.5px,#009dd3 61.5px,#00b2b5 65.5px,#00b998 68.5px,#10bb82 70.5px,#23bc7a 71.5px,#5ebd71 73.5px,#73be6d 74.5px,#9dc063 78.5px,#c4bc54 84.5px,#e5b942 93.5px,#fab932 103.5px,#fcbb2a 114.5px,#fdbc24 163px)"></i><i style="top:72px;background:linear-gradient(90deg,#ffc60f 0px,#ffcf00 20.5px,#fbe000 34.5px,#f9e500 38.5px,#fae200 39.5px,#ffce00 41.5px,#ffc118 43.5px,#fdbc28 44.5px,#c5bc54 45.5px,#52bd73 46.5px,#00b7a0 47.5px,#00acbe 48.5px,#00a3cc 49.5px,#0093d7 51.5px,#0087db 53.5px,#0085dc 57.5px,#009cd3 61.5px,#00b1b5 65.5px,#00b899 68.5px,#0fba83 70.5px,#20bb7b 71.5px,#5bbd71 73.5px,#72be6d 74.5px,#9cc063 78.5px,#c4bc54 84.5px,#e2b943 92.5px,#fab932 103.5px,#fcbb2a 115.5px,#fdbc24 163px)"></i><i style="top:73px;background:linear-gradient(90deg,#ffc60f 0px,#ffcf00 20.5px,#fbde00 33.5px,#f9e600 38.5px,#fae200 39.5px,#ffce00 41.5px,#ffc118 43.5px,#fcbb28 44.5px,#c2bc55 45.5px,#4bbd74 46.5px,#00b6a1 47.5px,#00acbf 48.5px,#00a3cd 49.5px,#0093d7 51.5px,#0087dc 53.5px,#0085dc 57.5px,#009cd4 61.5px,#00b4ac 66.5px,#00b89a 68.5px,#0eba85 70.5px,#1dbb7c 71.5px,#58bd72 73.5px,#70be6d 74.5px,#9bc064 78.5px,#c4bc55 84.5px,#e7b941 94.5px,#fab932 103.5px,#fcbb2a 115.5px,#fdbc24 163px)"></i><i style="top:74px;background:linear-gradient(90deg,#ffc60f 0px,#ffcf00 20.5px,#fbdf00 33.5px,#f9e600 38.5px,#fae200 39.5px,#ffce00 41.5px,#ffc118 43.5px,#fcbb29 44.5px,#c0bc56 45.5px,#44bd75 46.5px,#00b6a3 47.5px,#00abc0 48.5px,#00a2ce 49.5px,#0086dc 53.5px,#0084dc 57.5px,#009bd4 61.5px,#00b4ad 66.5px,#00b89a 68.5px,#0dba86 70.5px,#1abb7c 71.5px,#6fbe6e 74.5px,#9ac064 78.5px,#c3bc55 84.5px,#e1b944 92.5px,#fab932 103.5px,#fcbb2a 115.5px,#fdbc24 163px)"></i><i style="top:75px;background:linear-gradient(90deg,#ffc60f 0px,#fed000 20.5px,#fbdf00 33.5px,#f9e700 38.5px,#fae300 39.5px,#ffce00 41.5px,#ffc118 43.5px,#fcbb2a 44.5px,#bdbd57 45.5px,#3dbc76 46.5px,#00b6a5 47.5px,#00abc0 48.5px,#00a2cf 49.5px,#008ada 52.5px,#0084dd 54.5px,#0087db 58.5px,#00a2cf 62.5px,#00b6a4 67.5px,#03b992 69.5px,#16bb7d 71.5px,#6ebe6e 74.5px,#99c064 78.5px,#c3bc55 84.5px,#e1b944 92.5px,#fab932 103.5px,#fcbb2a 115.5px,#fdbc24 163px)"></i><i style="top:76px;background:linear-gradient(90deg,#ffc60f 0px,#fed000 20.5px,#fcdd00 32.5px,#f8e700 38.5px,#fae300 39.5px,#ffce00 41.5px,#ffc118 43.5px,#fcbb2a 44.5px,#babd58 45.5px,#35bc77 46.5px,#00b5a6 47.5px,#00aac1 48.5px,#00a1d0 49.5px,#0084dc 53.5px,#0083dd 57.5px,#009ad4 61.5px,#00b0b7 65.5px,#03b993 69.5px,#14bb7d 71.5px,#6abe6f 74.5px,#8fbf67 77.5px,#bcbd58 83.5px,#d7ba49 89.5px,#f4b936 100.5px,#fbba2e 106.5px,#fdbc25 149.5px,#fdbc24 163px)"></i><i style="top:77px;background:linear-gradient(90deg,#ffc60f 0px,#fed000 20.5px,#fbe000 33.5px,#f8e700 38.5px,#fae300 39.5px,#ffce00 41.5px,#ffc119 43.5px,#fcbb2b 44.5px,#b7bd59 45.5px,#2ebc79 46.5px,#00b5a8 47.5px,#00aac2 48.5px,#00a1d0 49.5px,#0084dd 53.5px,#0082dd 57.5px,#0091d7 60.5px,#00a1d0 62.5px,#00b3b0 66.5px,#02b994 69.5px,#13bb7e 71.5px,#67be6f 74.5px,#82bf69 76.5px,#a7bf60 80.5px,#c7bc53 85.5px,#e4b942 93.5px,#fab931 104.5px,#fcbb29 120.5px,#fdbc24 163px)"></i><i style="top:78px;background:linear-gradient(90deg,#ffc60f 0px,#fed000 20.5px,#fbe000 33.5px,#f8e800 38.5px,#fae400 39.5px,#ffce00 41.5px,#ffc119 43.5px,#fbba2c 44.5px,#b4bd5b 45.5px,#26bc7a 46.5px,#00b4aa 47.5px,#00a9c3 48.5px,#00a0d1 49.5px,#0083dd 53.5px,#0082dd 57.5px,#0091d8 60.5px,#00a1d1 62.5px,#00b5a7 67.5px,#01b995 69.5px,#12bb7f 71.5px,#64be70 74.5px,#76be6c 75.5px,#9ec063 79.5px,#c7bc53 85.5px,#e6b941 94.5px,#fab931 104.5px,#fcbb29 120.5px,#fdbc24 163px)"></i><i style="top:79px;background:linear-gradient(90deg,#ffc60f 0px,#ffcf00 19.5px,#fbde00 32.5px,#f8e800 38.5px,#f9e400 39.5px,#ffce00 41.5px,#ffc119 43.5px,#fbba2d 44.5px,#b1be5c 45.5px,#1fbb7b 46.5px,#00b4ac 47.5px,#00a8c4 48.5px,#00a0d2 49.5px,#0087db 52.5px,#0081de 54.5px,#0081de 57.5px,#0090d8 60.5px,#00a0d1 62.5px,#00b5a8 67.5px,#00b996 69.5px,#11bb81 71.5px,#27bc7a 72.5px,#61be70 74.5px,#74be6d 75.5px,#9dc063 79.5px,#c1bc56 84.5px,#ddba46 91.5px,#fab932 103.5px,#fcbb2a 116.5px,#fdbc24 163px)"></i><i style="top:80px;background:linear-gradient(90deg,#ffc60f 0px,#ffcf00 19.5px,#fbdf00 32.5px,#f8e900 38.5px,#f9e500 39.5px,#ffce00 41.5px,#ffc019 43.5px,#fbba2e 44.5px,#aebe5d 45.5px,#17bb7c 46.5px,#00b3ae 47.5px,#00a8c5 48.5px,#009fd2 49.5px,#0086dc 52.5px,#007fde 56.5px,#0089db 59.5px,#00a0d2 62.5px,#00b5a9 67.5px,#00b997 69.5px,#10bb82 71.5px,#24bc7a 72.5px,#5ebd71 74.5px,#73be6d 75.5px,#9cc063 79.5px,#c6bc53 85.5px,#e3b943 93.5px,#fab931 104.5px,#fcbb29 120.5px,#fdbc24 163px)"></i><i style="top:81px;background:linear-gradient(90deg,#ffc60f 0px,#ffcf00 19.5px,#fae100 33.5px,#f8e900 38.5px,#f9e500 39.5px,#ffce00 41.5px,#ffc019 43.5px,#fbba2f 44.5px,#aabe5e 45.5px,#13bb7e 46.5px,#00b3b0 47.5px,#00a7c6 48.5px,#009fd3 49.5px,#0085dc 52.5px,#007edf 56.5px,#0088db 59.5px,#009fd2 62.5px,#00b2b3 66.5px,#00b998 69.5px,#0fbb83 71.5px,#21bb7b 72.5px,#5bbd71 74.5px,#72be6d 75.5px,#9bc064 79.5px,#c5bc54 85.5px,#e3b943 93.5px,#fab931 104.5px,#fcbb29 120.5px,#fdbc24 163px)"></i><i style="top:82px;background:linear-gradient(90deg,#ffc60f 0px,#ffcf00 19.5px,#fbdf00 32.5px,#f8ea00 38.5px,#f9e500 39.5px,#ffce00 41.5px,#ffc01a 43.5px,#fab931 44.5px,#a7bf60 45.5px,#11bb81 46.5px,#00b3b1 47.5px,#00a7c6 48.5px,#009ed3 49.5px,#0085dc 52.5px,#007fde 54.5px,#007fde 57.5px,#008fd9 60.5px,#00a4cb 63.5px,#00b4aa 67.5px,#00b899 69.5px,#0fba84 71.5px,#1ebb7b 72.5px,#58bd72 74.5px,#70be6d 75.5px,#9ac064 79.5px,#c5bc54 85.5px,#e3b943 93.5px,#fab931 104.5px,#fcbb29 120.5px,#fdbc24 163px)"></i><i style="top:83px;background:linear-gradient(90deg,#ffc60f 0px,#ffcf00 19.5px,#fbe000 32.5px,#f8ea00 38.5px,#f9e600 39.5px,#ffce00 41.5px,#ffc01a 43.5px,#fab932 44.5px,#a3bf61 45.5px,#0fba83 46.5px,#00b2b3 47.5px,#00a6c7 48.5px,#009dd3 49.5px,#0084dd 52.5px,#007edf 54.5px,#007fdf 57.5px,#008ed9 60.5px,#009ed3 62.5px,#00b2b5 66.5px,#00b89a 69.5px,#0eba85 71.5px,#1bbb7c 72.5px,#6fbe6e 75.5px,#99c064 79.5px,#c5bc54 85.5px,#e3b943 93.5px,#fab931 104.5px,#fcbb29 120.5px,#fdbc24 163px)"></i><i style="top:84px;background:linear-gradient(90deg,#ffc60f 0px,#ffcf00 19.5px,#fbe000 32.5px,#f7ea00 38.5px,#f9e600 39.5px,#ffcf00 41.5px,#ffc01a 43.5px,#f8b933 44.5px,#a0c062 45.5px,#0dba86 46.5px,#00b2b4 47.5px,#00a6c8 48.5px,#009dd3 49.5px,#0083dd 52.5px,#007cdf 56.5px,#0086dc 59.5px,#009ed3 62.5px,#00b4ac 67.5px,#00b89a 69.5px,#0dba86 71.5px,#18bb7c 72.5px,#6ebe6e 75.5px,#98c065 79.5px,#bebc57 84.5px,#d9ba48 90.5px,#f9b932 103.5px,#fcbb2a 116.5px,#fdbc24 163px)"></i><i style="top:85px;background:linear-gradient(90deg,#ffc60f 0px,#fed000 19.5px,#fbe100 32.5px,#f7eb00 38.5px,#f9e600 39.5px,#ffcf00 41.5px,#ffc01a 43.5px,#f6b935 44.5px,#9cc064 45.5px,#0bba88 46.5px,#00b1b5 47.5px,#00a6c9 48.5px,#009cd4 49.5px,#0082dd 52.5px,#007ce0 56.5px,#0086dc 59.5px,#009dd3 62.5px,#00b1b6 66.5px,#00b89b 69.5px,#0cba87 71.5px,#15bb7d 72.5px,#6bbe6f 75.5px,#97c065 79.5px,#c4bc54 85.5px,#e2b943 93.5px,#fbba30 105.5px,#fdbc28 126.5px,#fdbc24 163px)"></i><i style="top:86px;background:linear-gradient(90deg,#ffc60f 0px,#fed000 19.5px,#fae100 32.5px,#f7eb00 38.5px,#f9e700 39.5px,#ffcf00 41.5px,#ffc01b 43.5px,#f4b936 44.5px,#98c065 45.5px,#09ba8b 46.5px,#00b1b6 47.5px,#00a5ca 48.5px,#009bd4 49.5px,#0082dd 52.5px,#007cdf 54.5px,#007ddf 57.5px,#008cd9 60.5px,#00a3cd 63.5px,#00b3ae 67.5px,#03b993 70.5px,#13bb7e 72.5px,#68be6f 75.5px,#82bf6a 77.5px,#afbe5d 82.5px,#c9bc52 86.5px,#e5b942 94.5px,#fab931 104.5px,#fcbb29 122.5px,#fdbc24 163px)"></i><i style="top:87px;background:linear-gradient(90deg,#ffc60f 0px,#fed000 19.5px,#fae100 32.5px,#f7ec00 38.5px,#f9e700 39.5px,#ffcf00 41.5px,#ffbf1b 43.5px,#f2b938 44.5px,#94c066 45.5px,#07ba8d 46.5px,#00b0b7 47.5px,#00a5ca 48.5px,#009bd4 49.5px,#0081de 52.5px,#007ae0 56.5px,#0084dc 59.5px,#00a3ce 63.5px,#00b5a6 68.5px,#02b994 70.5px,#13bb7f 72.5px,#65be6f 75.5px,#76be6c 76.5px,#a6bf60 81.5px,#c3bc55 85.5px,#e2b943 93.5px,#fab931 104.5px,#fcbb29 122.5px,#fdbc24 163px)"></i><i style="top:88px;background:linear-gradient(90deg,#ffc60f 0px,#fed000 19.5px,#fbdf00 31.5px,#f7eb00 37.5px,#f7ec00 38.5px,#f8e700 39.5px,#ffcf00 41.5px,#ffbf1b 43.5px,#f1b939 44.5px,#90c066 45.5px,#05ba8f 46.5px,#00afb8 47.5px,#00a4cb 48.5px,#0090d8 50.5px,#0080de 52.5px,#007ae0 56.5px,#0084dd 59.5px,#00a2ce 63.5px,#00b3b0 67.5px,#01b995 70.5px,#12bb80 72.5px,#29bc79 73.5px,#62be70 75.5px,#75be6d 76.5px,#a5bf60 81.5px,#c8bc52 86.5px,#e4b942 94.5px,#fab931 104.5px,#fcbb28 125.5px,#fdbc24 163px)"></i><i style="top:89px;background:linear-gradient(90deg,#ffc60f 0px,#fed000 19.5px,#fae200 32.5px,#f7ec00 38.5px,#f8e800 39.5px,#ffcf00 41.5px,#ffbf1c 43.5px,#efb93b 44.5px,#8dbf67 45.5px,#03b992 46.5px,#00afb9 47.5px,#00a4cc 48.5px,#0099d5 49.5px,#007fde 52.5px,#0079e1 56.5px,#0083dd 59.5px,#00a2cf 63.5px,#00b3b0 67.5px,#00b996 70.5px,#11bb81 72.5px,#27bc7a 73.5px,#60be70 75.5px,#74be6d 76.5px,#adbe5d 82.5px,#c7bc52 86.5px,#e4b942 94.5px,#fab931 104.5px,#fcbb28 125.5px,#fdbc24 163px)"></i><i style="top:90px;background:linear-gradient(90deg,#ffc60f 0px,#fed000 19.5px,#fae200 32.5px,#f7ed00 38.5px,#f8e800 39.5px,#ffcf00 41.5px,#ffbf1c 43.5px,#edb93c 44.5px,#89bf68 45.5px,#02b994 46.5px,#00aeba 47.5px,#00a3cd 48.5px,#008fd8 50.5px,#007ae0 53.5px,#007ae0 57.5px,#0082dd 59.5px,#00a1d0 63.5px,#00b5a8 68.5px,#00b996 70.5px,#10bb82 72.5px,#24bc7a 73.5px,#5dbd71 75.5px,#72be6d 76.5px,#a4bf61 81.5px,#c7bc53 86.5px,#e4b942 94.5px,#fab932 104.5px,#fcbb2a 116.5px,#fdbc24 163px)"></i><i style="top:91px;background:linear-gradient(90deg,#ffc60f 0px,#ffcf00 18.5px,#fbe000 31.5px,#f7ed00 37.5px,#f8e800 39.5px,#ffcf00 41.5px,#ffbf1d 43.5px,#ebb93d 44.5px,#86bf69 45.5px,#00b996 46.5px,#00aebb 47.5px,#00a3cd 48.5px,#008ed9 50.5px,#007edf 52.5px,#0077e1 56.5px,#0082dd 59.5px,#00a1d0 63.5px,#00b5a9 68.5px,#00b997 70.5px,#10bb82 72.5px,#21bb7b 73.5px,#5abd71 75.5px,#71be6d 76.5px,#a3bf61 81.5px,#c7bc53 86.5px,#e4b942 94.5px,#fab932 104.5px,#fcbb2a 116.5px,#fdbc24 163px)"></i><i style="top:92px;background:linear-gradient(90deg,#ffc60f 0px,#ffcf00 18.5px,#fbe100 31.5px,#f6ee00 38.5px,#f8e900 39.5px,#ffce00 41.5px,#ffbf1d 43.5px,#e9b93f 44.5px,#82bf69 45.5px,#00b997 46.5px,#00adbc 47.5px,#00a2ce 48.5px,#0085dc 51.5px,#0079e1 53.5px,#0076e1 56.5px,#0081de 59.5px,#00a1d1 63.5px,#00b2b3 67.5px,#00b998 70.5px,#0fba83 72.5px,#1fbb7b 73.5px,#58bd72 75.5px,#70be6d 76.5px,#a2bf61 81.5px,#c1bc56 85.5px,#e1b944 93.5px,#fab932 104.5px,#fcbb2a 116.5px,#fdbc24 163px)"></i><i style="top:93px;background:linear-gradient(90deg,#ffc60f 0px,#ffcf00 18.5px,#fae300 32.5px,#f6ee00 38.5px,#f8e900 39.5px,#ffce00 41.5px,#ffbe1d 43.5px,#e7b940 44.5px,#7fbf6a 45.5px,#00b899 46.5px,#00adbc 47.5px,#00a2cf 48.5px,#0084dd 51.5px,#0078e1 53.5px,#0075e1 56.5px,#0080de 59.5px,#00a0d2 63.5px,#00b4ab 68.5px,#00b899 70.5px,#0eba84 72.5px,#1cbb7c 73.5px,#6fbe6e 76.5px,#a2bf62 81.5px,#c6bc53 86.5px,#e3b943 94.5px,#fab932 104.5px,#fcbb2a 116.5px,#fdbc24 163px)"></i><i style="top:94px;background:linear-gradient(90deg,#ffc60f 0px,#ffcf00 18.5px,#fae100 31.5px,#f6ee00 37.5px,#f8e900 39.5px,#ffce00 41.5px,#ffbe1d 43.5px,#e6b941 44.5px,#7cbf6b 45.5px,#00b89a 46.5px,#00acbd 47.5px,#00a2cf 48.5px,#0083dd 51.5px,#0077e1 53.5px,#0074e0 56.5px,#0087db 60.5px,#00a0d2 63.5px,#00b4ab 68.5px,#00b899 70.5px,#0eba85 72.5px,#1abb7c 73.5px,#6ebe6e 76.5px,#a1bf62 81.5px,#c6bc53 86.5px,#e3b943 94.5px,#fab932 104.5px,#fcbb2a 117.5px,#fdbc24 163px)"></i><i style="top:95px;background:linear-gradient(90deg,#ffc60f 0px,#ffcf00 18.5px,#f9e400 32.5px,#f6ef00 38.5px,#f8e900 39.5px,#ffce00 41.5px,#ffbe1e 43.5px,#e4b942 44.5px,#7abf6b 45.5px,#00b89c 46.5px,#00acbe 47.5px,#00a1d0 48.5px,#0082dd 51.5px,#0076e1 53.5px,#0073e0 56.5px,#0086dc 60.5px,#009fd2 63.5px,#00b1b5 67.5px,#00b89a 70.5px,#0dba86 72.5px,#18bb7c 73.5px,#6cbe6e 76.5px,#97c065 80.5px,#bfbc56 85.5px,#daba48 91.5px,#fab932 104.5px,#fcbb2a 117.5px,#fdbc24 163px)"></i><i style="top:96px;background:linear-gradient(90deg,#ffc60f 0px,#ffcf00 18.5px,#fae200 31.5px,#f6ef00 37.5px,#f8ea00 39.5px,#ffce00 41.5px,#ffbe1e 43.5px,#e3b943 44.5px,#78be6c 45.5px,#00b79d 46.5px,#00acbf 47.5px,#00a1d1 48.5px,#007ae0 52.5px,#0072e0 55.5px,#0079e0 58.5px,#0096d6 62.5px,#00a4cb 64.5px,#00b6a4 69.5px,#04b991 71.5px,#15bb7d 73.5px,#6abe6f 76.5px,#82bf69 78.5px,#b0be5c 83.5px,#cabb51 87.5px,#e5b941 95.5px,#fab931 105.5px,#fcbb2a 119.5px,#fdbc24 163px)"></i><i style="top:97px;background:linear-gradient(90deg,#ffc60f 0px,#fed000 18.5px,#fae200 31.5px,#f6f000 38.5px,#f8ea00 39.5px,#ffce00 41.5px,#ffbe1e 43.5px,#e2b943 44.5px,#75be6c 45.5px,#00b79e 46.5px,#00abbf 47.5px,#00a0d1 48.5px,#0079e1 52.5px,#0071e0 55.5px,#0074e0 57.5px,#0085dc 60.5px,#009ed3 63.5px,#00b1b6 67.5px,#03b992 71.5px,#14bb7d 73.5px,#68be6f 76.5px,#81bf6a 78.5px,#b0be5c 83.5px,#c9bb51 87.5px,#e5b942 95.5px,#fab931 105.5px,#fcbb28 126.5px,#fdbc24 163px)"></i><i style="top:98px;background:linear-gradient(90deg,#ffc60f 0px,#fed000 18.5px,#fbe000 30.5px,#f6f000 38.5px,#f7ea00 39.5px,#ffce00 41.5px,#ffbe1e 43.5px,#e1b944 44.5px,#73be6d 45.5px,#00b79f 46.5px,#00abc0 47.5px,#00a0d2 48.5px,#0080de 51.5px,#0073e0 53.5px,#006fe0 56.5px,#007ddf 59.5px,#009dd3 63.5px,#00b0b7 67.5px,#03b993 71.5px,#13bb7e 73.5px,#66be6f 76.5px,#81bf6a 78.5px,#b7bd5a 84.5px,#d2bb4d 89.5px,#efb93a 99.5px,#fbba30 106.5px,#fdbc26 137.5px,#fdbc24 163px)"></i><i style="top:99px;background:linear-gradient(90deg,#ffc60f 0px,#fed000 18.5px,#fae300 31.5px,#f6f000 37.5px,#f7eb00 39.5px,#ffce00 41.5px,#ffbe1e 43.5px,#e0ba44 44.5px,#71be6d 45.5px,#00b7a0 46.5px,#00abc0 47.5px,#00a0d2 48.5px,#007fde 51.5px,#0072e0 53.5px,#006ee0 56.5px,#0083dd 60.5px,#00a3cd 64.5px,#00b5a6 69.5px,#02b994 71.5px,#13bb7f 73.5px,#64be70 76.5px,#75be6c 77.5px,#a6bf60 82.5px,#c9bc52 87.5px,#e5b942 95.5px,#fab931 105.5px,#fcbb28 126.5px,#fdbc24 163px)"></i><i style="top:100px;background:linear-gradient(90deg,#ffc60f 0px,#fed000 18.5px,#fae300 31.5px,#f5f100 38.5px,#f7eb00 39.5px,#ffce00 41.5px,#ffbe1f 43.5px,#dfba45 44.5px,#6fbe6e 45.5px,#00b6a1 46.5px,#00aac1 47.5px,#009fd2 48.5px,#007edf 51.5px,#0071e0 53.5px,#006de0 56.5px,#0082dd 60.5px,#00a3ce 64.5px,#00b5a7 69.5px,#01b995 71.5px,#12bb80 73.5px,#29bc79 74.5px,#62be70 76.5px,#74be6d 77.5px,#aebe5d 83.5px,#c8bc52 87.5px,#e2b943 94.5px,#fab932 104.5px,#fcbb29 122.5px,#fdbc24 163px)"></i><i style="top:101px;background:linear-gradient(90deg,#ffc60f 0px,#fed000 18.5px,#fae400 31.5px,#f5f100 37.5px,#f5f100 38.5px,#f7eb00 39.5px,#ffce00 41.5px,#ffbe1f 43.5px,#deba46 44.5px,#6cbe6e 45.5px,#00b6a2 46.5px,#00aac1 47.5px,#009ed3 48.5px,#007ddf 51.5px,#006fe0 53.5px,#006cdf 56.5px,#007ae0 59.5px,#00a2ce 64.5px,#00b5a8 69.5px,#00b996 71.5px,#11bb80 73.5px,#27bc7a 74.5px,#60be70 76.5px,#73be6d 77.5px,#adbe5d 83.5px,#c8bc52 87.5px,#e4b942 95.5px,#fab931 105.5px,#fcbb28 126.5px,#fdbc24 163px)"></i><i style="top:102px;background:linear-gradient(90deg,#ffc60f 0px,#fed000 18.5px,#f9e400 31.5px,#f5f200 38.5px,#f7ec00 39.5px,#fcda00 40.5px,#ffce00 41.5px,#ffbe1f 43.5px,#ddba46 44.5px,#68be6f 45.5px,#00b6a3 46.5px,#00aac2 47.5px,#009ed3 48.5px,#0073e0 52.5px,#006adf 55.5px,#006ee0 57.5px,#0081de 60.5px,#00a2cf 64.5px,#00b5a9 69.5px,#00b997 71.5px,#11bb81 73.5px,#25bc7a 74.5px,#5ebd71 76.5px,#72be6d 77.5px,#adbe5d 83.5px,#c8bc52 87.5px,#e4b942 95.5px,#fab931 105.5px,#fcbb28 126.5px,#fdbc24 163px)"></i><i style="top:103px;background:linear-gradient(90deg,#ffc60f 0px,#fed000 18.5px,#fae200 30.5px,#f5f200 38.5px,#f7ec00 39.5px,#fcda00 40.5px,#ffce00 41.5px,#ffbe1f 43.5px,#dcba47 44.5px,#63be70 45.5px,#00b6a4 46.5px,#00a9c2 47.5px,#009dd3 48.5px,#007be0 51.5px,#006de0 53.5px,#0069df 56.5px,#0079e1 59.5px,#00a1d0 64.5px,#00b2b4 68.5px,#00b997 71.5px,#10bb82 73.5px,#23bb7b 74.5px,#5cbd71 76.5px,#72be6d 77.5px,#acbe5e 83.5px,#c7bc53 87.5px,#e4b942 95.5px,#fbba30 106.5px,#fdbc26 138.5px,#fdbc24 163px)"></i><i style="top:104px;background:linear-gradient(90deg,#ffc60f 0px,#ffce00 16.5px,#fae200 30.5px,#f5f200 37.5px,#f5f200 38.5px,#f7ec00 39.5px,#fcda00 40.5px,#ffce00 41.5px,#ffbe1f 43.5px,#dbba47 44.5px,#5fbd71 45.5px,#00b6a5 46.5px,#00a9c3 47.5px,#009dd3 48.5px,#0084dc 50.5px,#0071e0 52.5px,#0067df 55.5px,#006bdf 57.5px,#0078e1 59.5px,#00a1d1 64.5px,#00b4ab 69.5px,#00b898 71.5px,#0fbb83 73.5px,#20bb7b 74.5px,#59bd71 76.5px,#71be6d 77.5px,#abbe5e 83.5px,#c7bc53 87.5px,#e3b942 95.5px,#fab931 105.5px,#fdbc27 131.5px,#fdbc24 163px)"></i><i style="top:105px;background:linear-gradient(90deg,#ffc60f 0px,#ffce00 16.5px,#f9e500 31.5px,#f5f200 37.5px,#f7ed00 39.5px,#ffce00 41.5px,#ffbe1f 43.5px,#daba48 44.5px,#5abd71 45.5px,#00b5a6 46.5px,#00a9c3 47.5px,#009cd3 48.5px,#0083dd 50.5px,#006adf 53.5px,#0066df 56.5px,#0076e1 59.5px,#00a0d1 64.5px,#00b4ac 69.5px,#00b899 71.5px,#0fba84 73.5px,#1ebb7b 74.5px,#70be6e 77.5px,#abbe5e 83.5px,#c6bc53 87.5px,#e1b944 94.5px,#fab931 105.5px,#fdbc27 131.5px,#fdbc24 163px)"></i><i style="top:106px;background:linear-gradient(90deg,#ffc60f 0px,#ffce00 16.5px,#fae300 30.5px,#f5f200 37.5px,#f5f300 38.5px,#f7ed00 39.5px,#ffce00 41.5px,#ffbe1f 43.5px,#d9ba48 44.5px,#56bd72 45.5px,#00b5a7 46.5px,#00a9c4 47.5px,#009cd4 48.5px,#0082dd 50.5px,#006ee0 52.5px,#0064df 55.5px,#0068df 57.5px,#007edf 60.5px,#00a0d2 64.5px,#00b4ad 69.5px,#00b89a 71.5px,#0eba85 73.5px,#1cbb7c 74.5px,#6fbe6e 77.5px,#aabe5e 83.5px,#c6bc53 87.5px,#e3b943 95.5px,#fab931 105.5px,#fdbc27 133.5px,#fdbc24 163px)"></i><i style="top:107px;background:linear-gradient(90deg,#ffc60f 0px,#ffce00 16.5px,#fae300 30.5px,#f5f300 37.5px,#f5f300 38.5px,#f7ed00 39.5px,#ffce00 41.5px,#ffbe1f 43.5px,#d8ba49 44.5px,#52bd73 45.5px,#00b5a8 46.5px,#00a8c4 47.5px,#009bd4 48.5px,#0077e1 51.5px,#0068df 53.5px,#0063de 56.5px,#0074e1 59.5px,#009fd2 64.5px,#00b3ae 69.5px,#00b89b 71.5px,#0dba86 73.5px,#1abb7c 74.5px,#6ebe6e 77.5px,#aabf5f 83.5px,#c6bc53 87.5px,#e3b943 95.5px,#fab932 105.5px,#fcbb29 122.5px,#fdbc24 163px)"></i><i style="top:108px;background:linear-gradient(90deg,#ffc60e 0px,#ffcf00 17.5px,#f9e600 31.5px,#f5f300 37.5px,#f5f300 38.5px,#f6ed00 39.5px,#ffce00 41.5px,#ffbe20 43.5px,#d7ba49 44.5px,#4ebd73 45.5px,#00b5a9 46.5px,#00a8c5 47.5px,#009bd4 48.5px,#0080de 50.5px,#006cdf 52.5px,#0061de 55.5px,#0065df 57.5px,#0085dc 61.5px,#009ed3 64.5px,#00b3af 69.5px,#00b89c 71.5px,#0cba86 73.5px,#17bb7c 74.5px,#6cbe6e 77.5px,#a0bf62 82.5px,#c0bc56 86.5px,#e0ba45 94.5px,#fab932 105.5px,#fcbb29 122.5px,#fdbc24 163px)"></i><i style="top:109px;background:linear-gradient(90deg,#ffc60e 0px,#ffcf00 17.5px,#f9e400 30.5px,#f5f300 37.5px,#f6ee00 39.5px,#fcdb00 40.5px,#ffce00 41.5px,#ffbe20 43.5px,#d7ba4a 44.5px,#4abd74 45.5px,#00b4a9 46.5px,#00a8c5 47.5px,#009ad4 48.5px,#0080de 50.5px,#006adf 52.5px,#0060de 55.5px,#0064df 57.5px,#007be0 60.5px,#009ed3 64.5px,#00b3b0 69.5px,#03b993 72.5px,#15bb7d 74.5px,#6abe6f 77.5px,#a0c062 82.5px,#c5bc54 87.5px,#e2b943 95.5px,#fab932 105.5px,#fcbb29 122.5px,#fdbc24 163px)"></i><i style="top:110px;background:linear-gradient(90deg,#ffc60e 0px,#fed000 17.5px,#fae200 29.5px,#f5f300 37.5px,#f5f400 38.5px,#f6ee00 39.5px,#fcdb00 40.5px,#ffce00 41.5px,#ffbe20 43.5px,#d6ba4a 44.5px,#46bd75 45.5px,#00b4aa 46.5px,#00a7c6 47.5px,#009ad4 48.5px,#007fdf 50.5px,#0069df 52.5px,#005ede 55.5px,#0063de 57.5px,#007be0 60.5px,#00a3cd 65.5px,#00b5a7 70.5px,#02b993 72.5px,#14bb7d 74.5px,#68be6f 77.5px,#81bf6a 79.5px,#b8bd59 85.5px,#d5ba4a 91.5px,#f8b933 104.5px,#fcbb2b 116.5px,#fdbc24 163px)"></i><i style="top:111px;background:linear-gradient(90deg,#ffc60e 0px,#fed000 17.5px,#fae300 29.5px,#f5f400 37.5px,#f6f400 38.5px,#f6ee00 39.5px,#ffcd00 41.5px,#ffbe20 43.5px,#d5ba4b 44.5px,#42bd75 45.5px,#00b4ab 46.5px,#00a7c6 47.5px,#0099d5 48.5px,#007edf 50.5px,#0068df 52.5px,#005dde 55.5px,#0061de 57.5px,#006fe0 59.5px,#0094d7 63.5px,#00a7c6 66.5px,#00b5a8 70.5px,#01b994 72.5px,#13bb7e 74.5px,#66be6f 77.5px,#76be6c 78.5px,#afbe5c 84.5px,#c9bc52 88.5px,#e4b942 96.5px,#fab932 105.5px,#fcbb29 123.5px,#fdbc24 163px)"></i><i style="top:112px;background:linear-gradient(90deg,#ffc60e 0px,#fed000 17.5px,#f9e500 30.5px,#f6f400 37.5px,#f6ef00 39.5px,#fcdb00 40.5px,#ffcd00 41.5px,#ffbe20 43.5px,#d4bb4b 44.5px,#3ebc76 45.5px,#00b4ac 46.5px,#00a7c6 47.5px,#0098d5 48.5px,#007ddf 50.5px,#0066df 52.5px,#005bdd 55.5px,#0060de 57.5px,#006ee0 59.5px,#0082dd 61.5px,#00a2ce 65.5px,#00b2b3 69.5px,#00b995 72.5px,#12bb7f 74.5px,#64be70 77.5px,#75be6c 78.5px,#afbe5d 84.5px,#c8bc52 88.5px,#e4b942 96.5px,#fab932 105.5px,#fcbb29 123.5px,#fdbc24 163px)"></i><i style="top:113px;background:linear-gradient(90deg,#ffc60e 0px,#fed000 17.5px,#fae300 29.5px,#f6f400 37.5px,#f6ef00 39.5px,#fcdb00 40.5px,#ffcd00 41.5px,#febd20 43.5px,#d3bb4c 44.5px,#3bbc77 45.5px,#00b4ad 46.5px,#00a7c7 47.5px,#0098d5 48.5px,#007ce0 50.5px,#0065df 52.5px,#005add 55.5px,#005fde 57.5px,#006de0 59.5px,#0081de 61.5px,#00a2cf 65.5px,#00b2b4 69.5px,#00b996 72.5px,#12bb80 74.5px,#47bd75 76.5px,#63be70 77.5px,#74be6d 78.5px,#aebe5d 84.5px,#c8bc52 88.5px,#e4b942 96.5px,#fab932 105.5px,#fcbb2a 121.5px,#fdbc24 163px)"></i><i style="top:114px;background:linear-gradient(90deg,#ffc60e 0px,#fed000 17.5px,#fae400 29.5px,#f6f400 37.5px,#f6f500 38.5px,#f6ef00 39.5px,#fcdb00 40.5px,#ffcd00 41.5px,#febd20 43.5px,#d2bb4c 44.5px,#37bc77 45.5px,#00b4ad 46.5px,#00a6c7 47.5px,#0097d5 48.5px,#007be0 50.5px,#0064de 52.5px,#0058dd 55.5px,#005dde 57.5px,#0077e1 60.5px,#00a1d0 65.5px,#00b2b5 69.5px,#00b997 72.5px,#11bb81 74.5px,#28bc7a 75.5px,#61be70 77.5px,#74be6d 78.5px,#aebe5d 84.5px,#c8bc52 88.5px,#e3b942 96.5px,#fab932 105.5px,#fcbb2a 121.5px,#fdbc24 163px)"></i><i style="top:115px;background:linear-gradient(90deg,#ffc60e 0px,#fed000 17.5px,#f9e400 29.5px,#f6f400 36.5px,#f6f500 38.5px,#f6f000 39.5px,#fcdb00 40.5px,#ffcd00 41.5px,#febd20 43.5px,#d1bb4d 44.5px,#33bc78 45.5px,#00b3ae 46.5px,#00a6c8 47.5px,#0097d5 48.5px,#007ae0 50.5px,#0062de 52.5px,#0057dd 55.5px,#005cdd 57.5px,#0076e1 60.5px,#00a1d0 65.5px,#00b4ac 70.5px,#00b998 72.5px,#11bb81 74.5px,#26bc7a 75.5px,#5fbd71 77.5px,#73be6d 78.5px,#adbe5d 84.5px,#c7bc53 88.5px,#e3b943 96.5px,#fab932 105.5px,#fcbb2a 121.5px,#fdbc24 163px)"></i><i style="top:116px;background:linear-gradient(90deg,#ffc60e 0px,#fed000 17.5px,#f9e400 29.5px,#f6f500 37.5px,#f6f000 39.5px,#fcdb00 40.5px,#ffcd00 41.5px,#febd20 43.5px,#d0bb4d 44.5px,#30bc78 45.5px,#00b3af 46.5px,#00a6c8 47.5px,#0096d6 48.5px,#0079e1 50.5px,#0061de 52.5px,#0055dd 55.5px,#005bdd 57.5px,#006adf 59.5px,#007fde 61.5px,#00a1d1 65.5px,#00b1b6 69.5px,#00b898 72.5px,#10bb82 74.5px,#24bc7a 75.5px,#5dbd71 77.5px,#72be6d 78.5px,#adbe5d 84.5px,#c7bc53 88.5px,#e3b943 96.5px,#fab931 106.5px,#fdbc27 134.5px,#fdbc24 163px)"></i><i style="top:117px;background:linear-gradient(90deg,#ffc60e 0px,#fed000 17.5px,#f9e500 29.5px,#f6f500 37.5px,#f6f000 39.5px,#fcdb00 40.5px,#ffcd00 41.5px,#febd21 43.5px,#cfbb4e 44.5px,#2cbc79 45.5px,#00b3b0 46.5px,#00a6c9 47.5px,#0096d6 48.5px,#0078e1 50.5px,#0060de 52.5px,#0054dd 55.5px,#0059dd 57.5px,#007edf 61.5px,#00a0d2 65.5px,#00b4ad 70.5px,#00b899 72.5px,#0fbb83 74.5px,#22bb7b 75.5px,#5bbd71 77.5px,#71be6d 78.5px,#a4bf61 83.5px,#c1bc56 87.5px,#ddba46 94.5px,#f9b932 105.5px,#fcbb29 125.5px,#fdbc24 163px)"></i><i style="top:118px;background:linear-gradient(90deg,#ffc60e 0px,#fed000 17.5px,#f8e700 30.5px,#f6f400 36.5px,#f6f500 38.5px,#f6f000 39.5px,#fcdb00 40.5px,#ffcd00 41.5px,#febd21 43.5px,#cebb4e 44.5px,#29bc7a 45.5px,#00b3b0 46.5px,#00a5c9 47.5px,#0095d6 48.5px,#0077e1 50.5px,#005fde 52.5px,#0053dc 55.5px,#0058dd 57.5px,#0067df 59.5px,#0086dc 62.5px,#00a0d2 65.5px,#00b3ae 70.5px,#00b89a 72.5px,#0fba83 74.5px,#20bb7b 75.5px,#5abd71 77.5px,#71be6d 78.5px,#abbe5e 84.5px,#c6bc53 88.5px,#e3b943 96.5px,#fab931 106.5px,#fdbc27 134.5px,#fdbc24 163px)"></i><i style="top:119px;background:linear-gradient(90deg,#ffc60e 0px,#ffcc02 12.5px,#fcdc00 25.5px,#f6f500 36.5px,#f6f600 38.5px,#f5f100 39.5px,#fcdb00 40.5px,#ffcd00 41.5px,#febd21 43.5px,#cebb4f 44.5px,#25bc7a 45.5px,#00b3b1 46.5px,#00a5ca 47.5px,#0083dd 49.5px,#0076e1 50.5px,#005dde 52.5px,#0051dc 55.5px,#0057dd 57.5px,#0066df 59.5px,#0086dc 62.5px,#009fd2 65.5px,#00b3af 70.5px,#00b89a 72.5px,#0eba84 74.5px,#1ebb7b 75.5px,#58bd72 77.5px,#70be6e 78.5px,#a3bf61 83.5px,#c6bc53 88.5px,#e2b943 96.5px,#fab931 106.5px,#fdbc26 140.5px,#fdbc24 163px)"></i><i style="top:120px;background:linear-gradient(90deg,#ffc60e 0px,#ffcc02 12.5px,#fcdc00 25.5px,#f6f500 36.5px,#f6f600 38.5px,#f5f100 39.5px,#fcdb00 40.5px,#ffcd00 41.5px,#febd21 43.5px,#cdbb50 44.5px,#22bb7b 45.5px,#00b3b2 46.5px,#00a5ca 47.5px,#0094d7 48.5px,#0075e1 50.5px,#005cde 52.5px,#0050dc 55.5px,#0056dd 57.5px,#0065df 59.5px,#0085dc 62.5px,#009fd3 65.5px,#00b3af 70.5px,#00b89b 72.5px,#0eba85 74.5px,#1dbb7c 75.5px,#6fbe6e 78.5px,#a2bf61 83.5px,#c0bc56 87.5px,#ddba46 94.5px,#fab931 106.5px,#fdbc26 140.5px,#fdbc24 163px)"></i><i style="top:121px;background:linear-gradient(90deg,#ffc60d 0px,#ffcb05 10.5px,#ffcf00 16.5px,#fae400 28.5px,#f6f500 36.5px,#f6f600 38.5px,#f5f100 39.5px,#fcdb00 40.5px,#ffcd00 41.5px,#febd21 43.5px,#ccbb50 44.5px,#1fbb7b 45.5px,#00b2b2 46.5px,#00a5ca 47.5px,#0093d7 48.5px,#0074e0 50.5px,#005bdd 52.5px,#034ed8 55.5px,#0055dd 57.5px,#0064df 59.5px,#007ce0 61.5px,#009ed3 65.5px,#00b3b0 70.5px,#00b89b 72.5px,#0dba85 74.5px,#1bbb7c 75.5px,#6fbe6e 78.5px,#aabf5e 84.5px,#c5bc54 88.5px,#e2b943 96.5px,#fab931 106.5px,#fdbc26 140.5px,#fdbc24 163px)"></i><i style="top:122px;background:linear-gradient(90deg,#ffc60d 0px,#ffcb05 10.5px,#ffcf00 16.5px,#f9e400 28.5px,#f6f500 36.5px,#f6f600 38.5px,#f5f100 39.5px,#fcdb00 40.5px,#ffcd00 41.5px,#febd21 43.5px,#cbbb51 44.5px,#1bbb7c 45.5px,#00b2b3 46.5px,#00a4cb 47.5px,#0081de 49.5px,#005add 52.5px,#0050dc 54.5px,#064cd4 55.5px,#0053dc 57.5px,#0063de 59.5px,#007be0 61.5px,#009ed3 65.5px,#00b3b0 70.5px,#00b89c 72.5px,#0dba86 74.5px,#19bb7c 75.5px,#6ebe6e 78.5px,#a1bf62 83.5px,#c5bc54 88.5px,#e2b943 96.5px,#fab931 106.5px,#fdbc26 140.5px,#fdbc24 163px)"></i><i style="top:123px;background:linear-gradient(90deg,#ffc60d 0px,#ffcb05 10.5px,#ffcf00 16.5px,#f9e400 28.5px,#f6f500 36.5px,#f6f700 38.5px,#f5f200 39.5px,#fcdb00 40.5px,#ffcd00 41.5px,#febd21 43.5px,#cabb51 44.5px,#18bb7c 45.5px,#00b2b4 46.5px,#00a4cb 47.5px,#0081de 49.5px,#0059dd 52.5px,#034ed8 54.5px,#084ad0 55.5px,#064cd3 56.5px,#0052dc 57.5px,#0062de 59.5px,#007be0 61.5px,#00a3cd 66.5px,#00b3b1 70.5px,#03b992 73.5px,#18bb7c 75.5px,#6dbe6e 78.5px,#a9bf5f 84.5px,#c4bc54 88.5px,#e2b944 96.5px,#fab931 106.5px,#fdbc26 140.5px,#fdbc24 163px)"></i><i style="top:124px;background:linear-gradient(90deg,#ffc60d 0px,#fed000 16.5px,#fbe000 26.5px,#f6f600 36.5px,#f6f700 38.5px,#f5f200 39.5px,#fcdb00 40.5px,#ffcd00 41.5px,#febd21 43.5px,#c9bc52 44.5px,#15bb7d 45.5px,#00b2b4 46.5px,#00a4cc 47.5px,#0080de 49.5px,#0058dd 52.5px,#0052dc 53.5px,#0b48cd 55.5px,#094ad0 56.5px,#0051dc 57.5px,#0061de 59.5px,#007ae0 61.5px,#00a3ce 66.5px,#00b5a7 71.5px,#03b992 73.5px,#17bb7d 75.5px,#6cbe6e 78.5px,#a9bf5f 84.5px,#c9bc52 89.5px,#e4b942 97.5px,#fab931 106.5px,#fdbc26 140.5px,#fdbc24 163px)"></i><i style="top:125px;background:linear-gradient(90deg,#ffc60d 0px,#fed000 16.5px,#fbe000 26.5px,#f6f500 35.5px,#f6f700 38.5px,#f5f200 39.5px,#fcdb00 40.5px,#ffcd00 41.5px,#febd22 43.5px,#c8bc52 44.5px,#13bb7e 45.5px,#00b2b5 46.5px,#00a3cc 47.5px,#0091d8 48.5px,#0070e0 50.5px,#0057dd 52.5px,#0051dc 53.5px,#0d47ca 55.5px,#0b48cc 56.5px,#0050dc 57.5px,#0060de 59.5px,#007ae0 61.5px,#00a2ce 66.5px,#00b3b2 70.5px,#03b993 73.5px,#15bb7d 75.5px,#6abe6f 78.5px,#a0c062 83.5px,#c4bc55 88.5px,#e1b944 96.5px,#fab932 106.5px,#fcbb29 123.5px,#fdbc24 163px)"></i><i style="top:126px;background:linear-gradient(90deg,#ffc60d 0px,#fed000 16.5px,#fbe000 26.5px,#f6f500 35.5px,#f7f700 38.5px,#f5f200 39.5px,#fcdb00 40.5px,#ffcd00 41.5px,#febd22 43.5px,#c7bc53 44.5px,#13bb7f 45.5px,#00b1b5 46.5px,#00a3cd 47.5px,#007fde 49.5px,#0061de 51.5px,#0050dc 53.5px,#0a49ce 54.5px,#0f45c7 55.5px,#0d47ca 56.5px,#014fda 57.5px,#006cdf 60.5px,#0079e1 61.5px,#00a2ce 66.5px,#00b2b2 70.5px,#02b993 73.5px,#14bb7d 75.5px,#69be6f 78.5px,#8cbf67 81.5px,#b7bd59 86.5px,#d5ba4b 92.5px,#f9b933 105.5px,#fcbb2b 117.5px,#fdbc24 163px)"></i><i style="top:127px;background:linear-gradient(90deg,#ffc70d 0px,#fed000 16.5px,#fbe100 26.5px,#f6f600 36.5px,#f7f700 38.5px,#f5f200 39.5px,#fcdb00 40.5px,#ffcd01 41.5px,#febd22 43.5px,#c5bc54 44.5px,#12bb80 45.5px,#00b1b6 46.5px,#00a3cd 47.5px,#007edf 49.5px,#0060de 51.5px,#024fda 53.5px,#0c48cc 54.5px,#1144c4 55.5px,#0f45c7 56.5px,#034ed7 57.5px,#005fde 59.5px,#0078e1 61.5px,#009cd4 65.5px,#00b2b2 70.5px,#02b994 73.5px,#14bb7d 75.5px,#68be6f 78.5px,#8bbf68 81.5px,#b7bd5a 86.5px,#d4bb4b 92.5px,#f9b933 105.5px,#fcbb2b 117.5px,#fdbc24 163px)"></i><i style="top:128px;background:linear-gradient(90deg,#ffc70d 0px,#fed000 16.5px,#fae300 27.5px,#f6f600 36.5px,#f7f700 38.5px,#f5f200 39.5px,#fcdb00 40.5px,#ffcd01 41.5px,#febd22 43.5px,#c4bc54 44.5px,#11bb81 45.5px,#00b1b6 46.5px,#00a3ce 47.5px,#007edf 49.5px,#005fde 51.5px,#034ed7 53.5px,#0e46c9 54.5px,#1343c1 55.5px,#1144c4 56.5px,#054cd5 57.5px,#0055dd 58.5px,#006adf 60.5px,#0081de 62.5px,#00a2cf 66.5px,#00b5a8 71.5px,#02b994 73.5px,#13bb7e 75.5px,#67be6f 78.5px,#80bf6a 80.5px,#a7bf5f 84.5px,#c8bc52 89.5px,#e4b942 97.5px,#fab932 106.5px,#fcbb29 123.5px,#fdbc24 163px)"></i><i style="top:129px;background:linear-gradient(90deg,#ffc70d 0px,#fed000 16.5px,#fae100 26.5px,#f6f700 36.5px,#f7f800 38.5px,#f5f300 39.5px,#fcdb00 40.5px,#ffcd01 41.5px,#febd22 43.5px,#c3bc55 44.5px,#10bb82 45.5px,#00b0b7 46.5px,#00a2ce 47.5px,#007ddf 49.5px,#005ede 51.5px,#054cd5 53.5px,#0f45c6 54.5px,#1541bf 55.5px,#1343c2 56.5px,#0054dd 58.5px,#006adf 60.5px,#0081de 62.5px,#00a2cf 66.5px,#00b5a8 71.5px,#02b994 73.5px,#13bb7e 75.5px,#66be6f 78.5px,#80bf6a 80.5px,#afbe5d 85.5px,#c7bc52 89.5px,#e4b942 97.5px,#fab932 106.5px,#fcbb29 123.5px,#fdbc24 163px)"></i><i style="top:130px;background:linear-gradient(90deg,#ffc70d 0px,#fed000 16.5px,#fae100 26.5px,#f6f600 35.5px,#f7f800 38.5px,#f5f300 39.5px,#fcdb00 40.5px,#ffcc01 41.5px,#febd22 43.5px,#c2bc55 44.5px,#0fbb83 45.5px,#00b0b7 46.5px,#00a2cf 47.5px,#007ddf 49.5px,#005ede 51.5px,#0053dc 52.5px,#1144c4 54.5px,#1740bc 55.5px,#1442c0 56.5px,#0053dc 58.5px,#0069df 60.5px,#0080de 62.5px,#00a2cf 66.5px,#00b5a8 71.5px,#01b994 73.5px,#13bb7e 75.5px,#65be70 78.5px,#75be6c 79.5px,#a6bf60 84.5px,#c2bc55 88.5px,#deba46 95.5px,#fab932 106.5px,#fcbb29 123.5px,#fdbc24 163px)"></i><i style="top:131px;background:linear-gradient(90deg,#ffc70d 0px,#ffcc02 11.5px,#fcda00 23.5px,#f6f600 35.5px,#f7f800 38.5px,#f5f300 39.5px,#fcdb00 40.5px,#ffcc01 41.5px,#febd23 43.5px,#c0bc56 44.5px,#0eba84 45.5px,#00b0b8 46.5px,#00a1d0 47.5px,#007cdf 49.5px,#005dde 51.5px,#0052dc 52.5px,#1343c2 54.5px,#183fba 55.5px,#1641be 56.5px,#0052dc 58.5px,#0068df 60.5px,#0080de 62.5px,#00a2cf 66.5px,#00b5a8 71.5px,#01b995 73.5px,#13bb7f 75.5px,#64be70 78.5px,#75be6d 79.5px,#a6bf60 84.5px,#c2bc55 88.5px,#deba46 95.5px,#fab932 106.5px,#fcbb29 123.5px,#fdbc24 163px)"></i><i style="top:132px;background:linear-gradient(90deg,#ffc70c 0px,#ffcb05 9.5px,#ffcf00 15.5px,#fbdf00 25.5px,#f6f600 35.5px,#f7f800 38.5px,#f5f300 39.5px,#fcdb00 40.5px,#ffcc01 41.5px,#febd23 43.5px,#bfbc57 44.5px,#0dba85 45.5px,#00b0b8 46.5px,#00a1d0 47.5px,#007be0 49.5px,#005cde 51.5px,#0051dc 52.5px,#1542bf 54.5px,#1a3eb8 55.5px,#1740bb 56.5px,#0052dc 58.5px,#0068df 60.5px,#0080de 62.5px,#00a2cf 66.5px,#00b5a8 71.5px,#01b995 73.5px,#12bb7f 75.5px,#63be70 78.5px,#74be6d 79.5px,#aebe5d 85.5px,#ccbb50 90.5px,#f2b938 102.5px,#fbba2f 108.5px,#fdbc25 149.5px,#fdbc24 163px)"></i><i style="top:133px;background:linear-gradient(90deg,#ffc70c 0px,#ffcb03 10.5px,#fdd900 22.5px,#f6f500 34.5px,#f7f800 38.5px,#f5f300 39.5px,#fcdb00 40.5px,#ffcc02 41.5px,#febd23 43.5px,#bdbd57 44.5px,#0cba87 45.5px,#00afb9 46.5px,#00a1d1 47.5px,#007be0 49.5px,#005bdd 51.5px,#0051dc 52.5px,#1640bd 54.5px,#1c3db5 55.5px,#193fb9 56.5px,#0051dc 58.5px,#0067df 60.5px,#007fde 62.5px,#00a2cf 66.5px,#00b5a8 71.5px,#01b995 73.5px,#12bb7f 75.5px,#47bd75 77.5px,#62be70 78.5px,#74be6d 79.5px,#aebe5d 85.5px,#c7bc53 89.5px,#e3b942 97.5px,#fab932 106.5px,#fcbb29 123.5px,#fdbc24 163px)"></i><i style="top:134px;background:linear-gradient(90deg,#ffc70c 0px,#fed000 15.5px,#fcdd00 24.5px,#f6f500 34.5px,#f7f900 38.5px,#f5f400 39.5px,#fcdb00 40.5px,#ffcc02 41.5px,#febd23 43.5px,#bbbd58 44.5px,#0bba88 45.5px,#00afb9 46.5px,#00a0d1 47.5px,#007ae0 49.5px,#005add 51.5px,#0050db 52.5px,#183fba 54.5px,#1d3cb3 55.5px,#1a3eb7 56.5px,#0050dc 58.5px,#0066df 60.5px,#007fde 62.5px,#00a2cf 66.5px,#00b5a8 71.5px,#01b995 73.5px,#12bb80 75.5px,#61be70 78.5px,#73be6d 79.5px,#a5bf60 84.5px,#c2bc56 88.5px,#e1b944 96.5px,#fab932 106.5px,#fcbb29 123.5px,#fdbc24 163px)"></i><i style="top:135px;background:linear-gradient(90deg,#ffc70c 0px,#fed000 15.5px,#fcdd00 24.5px,#f6f500 34.5px,#f7f900 38.5px,#f6f400 39.5px,#fcdb00 40.5px,#ffcc02 41.5px,#febd24 43.5px,#b9bd59 44.5px,#0aba89 45.5px,#00afba 46.5px,#00a0d2 47.5px,#007ae0 49.5px,#005add 51.5px,#024ed9 52.5px,#1a3eb8 54.5px,#1f3ab1 55.5px,#1c3cb5 56.5px,#024fda 58.5px,#0066df 60.5px,#007fde 62.5px,#00a2cf 66.5px,#00b5a8 71.5px,#00b995 73.5px,#12bb80 75.5px,#45bd75 77.5px,#60be70 78.5px,#73be6d 79.5px,#adbe5d 85.5px,#c7bc53 89.5px,#e3b943 97.5px,#fab932 106.5px,#fcbb29 123.5px,#fdbc24 163px)"></i><i style="top:136px;background:linear-gradient(90deg,#ffc70c 0px,#fed000 15.5px,#fbe000 25.5px,#f6f700 35.5px,#f7f900 38.5px,#f6f400 39.5px,#fcdb00 40.5px,#ffcc02 41.5px,#fdbc24 43.5px,#b8bd59 44.5px,#09ba8a 45.5px,#00aeba 46.5px,#009fd2 47.5px,#0079e1 49.5px,#0059dd 51.5px,#044dd6 52.5px,#1b3db6 54.5px,#2039af 55.5px,#1d3bb3 56.5px,#1243c2 57.5px,#034ed7 58.5px,#0065df 60.5px,#007fdf 62.5px,#00a2cf 66.5px,#00b5a8 71.5px,#00b996 73.5px,#11bb80 75.5px,#44bd75 77.5px,#5fbd71 78.5px,#72be6d 79.5px,#a5bf60 84.5px,#c1bc56 88.5px,#e1b944 96.5px,#fab932 106.5px,#fcbb29 123.5px,#fdbc24 163px)"></i><i style="top:137px;background:linear-gradient(90deg,#ffc70c 0px,#fed000 15.5px,#fbde00 24.5px,#f6f700 35.5px,#f7f900 38.5px,#f6f400 39.5px,#fcdb00 40.5px,#ffcc02 41.5px,#fdbc24 43.5px,#b6bd5a 44.5px,#08ba8b 45.5px,#00aebb 46.5px,#009fd3 47.5px,#0079e1 49.5px,#0058dd 51.5px,#064cd4 52.5px,#1d3cb3 54.5px,#2238ad 55.5px,#1f3ab1 56.5px,#1442c0 57.5px,#054dd5 58.5px,#0057dd 59.5px,#007edf 62.5px,#00a2cf 66.5px,#00b5a8 71.5px,#00b996 73.5px,#11bb81 75.5px,#27bc7a 76.5px,#5ebd71 78.5px,#72be6d 79.5px,#a5bf60 84.5px,#c6bc53 89.5px,#e0b944 96.5px,#fab932 106.5px,#fcbb29 123.5px,#fdbc24 163px)"></i><i style="top:138px;background:linear-gradient(90deg,#ffc70c 0px,#fed000 15.5px,#fae100 25.5px,#f6f600 34.5px,#f7f900 38.5px,#f6f400 39.5px,#fcdb00 40.5px,#ffcc03 41.5px,#fdbc25 43.5px,#b4be5b 44.5px,#07ba8d 45.5px,#00adbc 46.5px,#009ed3 47.5px,#0078e1 49.5px,#0057dd 51.5px,#084bd1 52.5px,#1f3bb1 54.5px,#2337aa 55.5px,#2039af 56.5px,#1541be 57.5px,#074bd3 58.5px,#0056dd 59.5px,#007edf 62.5px,#00a2cf 66.5px,#00b5a8 71.5px,#00b996 73.5px,#11bb81 75.5px,#26bc7a 76.5px,#5dbd71 78.5px,#72be6d 79.5px,#a4bf60 84.5px,#c1bc56 88.5px,#deba46 95.5px,#fab932 106.5px,#fcbb29 123.5px,#fdbc24 163px)"></i><i style="top:139px;background:linear-gradient(90deg,#ffc70b 0px,#ffcc02 10.5px,#fcda00 22.5px,#f6f600 34.5px,#f7f900 38.5px,#f6f500 39.5px,#fcdb00 40.5px,#ffcc03 41.5px,#fdbc25 43.5px,#b2be5b 44.5px,#07ba8e 45.5px,#00adbc 46.5px,#009dd3 47.5px,#0077e1 49.5px,#0056dd 51.5px,#1640bd 53.5px,#2039af 54.5px,#2536a8 55.5px,#2238ad 56.5px,#084ad0 58.5px,#0055dd 59.5px,#0073e0 61.5px,#009bd4 65.5px,#00b2b2 70.5px,#00b996 73.5px,#11bb81 75.5px,#25bc7a 76.5px,#5bbd71 78.5px,#71be6d 79.5px,#a4bf61 84.5px,#c1bc56 88.5px,#deba46 95.5px,#fab932 106.5px,#fcbb29 123.5px,#fdbc24 163px)"></i><i style="top:140px;background:linear-gradient(90deg,#ffc70b 0px,#ffcf00 14.5px,#fbdf00 24.5px,#f6f600 34.5px,#f7fa00 38.5px,#f6f500 39.5px,#fcdb00 40.5px,#ffcb03 41.5px,#fdbc25 43.5px,#b0be5c 44.5px,#06ba8f 45.5px,#00adbd 46.5px,#009dd3 47.5px,#0077e1 49.5px,#0055dd 51.5px,#183fba 53.5px,#2238ad 54.5px,#2635a6 55.5px,#2338ab 56.5px,#0a49ce 58.5px,#0055dd 59.5px,#007edf 62.5px,#00a2cf 66.5px,#00b5a8 71.5px,#00b996 73.5px,#10bb81 75.5px,#24bc7a 76.5px,#5abd71 78.5px,#71be6d 79.5px,#a4bf61 84.5px,#c1bc56 88.5px,#ddba46 95.5px,#fab932 106.5px,#fcbb29 123.5px,#fdbc24 163px)"></i><i style="top:141px;background:linear-gradient(90deg,#ffc70b 0px,#fed000 14.5px,#fbdf00 24.5px,#f6f600 34.5px,#f7fa00 38.5px,#f6f500 39.5px,#fcdb00 40.5px,#ffcb03 41.5px,#fdbc26 43.5px,#aebe5d 44.5px,#05b990 45.5px,#00acbe 46.5px,#009cd3 47.5px,#0076e1 49.5px,#0055dd 51.5px,#1a3eb8 53.5px,#2337ab 54.5px,#2834a5 55.5px,#2437a9 56.5px,#0c48cc 58.5px,#0054dd 59.5px,#007edf 62.5px,#00a2cf 66.5px,#00b5a8 71.5px,#00b996 73.5px,#10bb82 75.5px,#23bc7a 76.5px,#59bd71 78.5px,#70be6e 79.5px,#a4bf61 84.5px,#c1bc56 88.5px,#ddba46 95.5px,#fab932 106.5px,#fcbb29 123.5px,#fdbc24 163px)"></i><i style="top:142px;background:linear-gradient(90deg,#ffc80b 0px,#fed000 14.5px,#fbdf00 24.5px,#f6f600 34.5px,#f7fa00 38.5px,#f6f600 39.5px,#fcdb00 40.5px,#ffcb03 41.5px,#fdbc26 43.5px,#acbe5e 44.5px,#04b991 45.5px,#00acbe 46.5px,#009bd4 47.5px,#0075e1 49.5px,#0054dc 51.5px,#1b3db6 53.5px,#2536a9 54.5px,#2933a3 55.5px,#2636a7 56.5px,#0d47ca 58.5px,#0053dc 59.5px,#007edf 62.5px,#00a2cf 66.5px,#00b5a8 71.5px,#00b997 73.5px,#10bb82 75.5px,#22bb7b 76.5px,#70be6e 79.5px,#a4bf61 84.5px,#c1bc56 88.5px,#ddba46 95.5px,#fab932 106.5px,#fcbb29 123.5px,#fdbc24 163px)"></i><i style="top:143px;background:linear-gradient(90deg,#ffc80b 0px,#fed000 14.5px,#fcdd00 23.5px,#f6f500 33.5px,#f7fa00 38.5px,#f6f600 39.5px,#fcdb00 40.5px,#ffcb04 41.5px,#fdbc27 43.5px,#aabf5e 44.5px,#03b993 45.5px,#00abbf 46.5px,#009bd4 47.5px,#0075e1 49.5px,#0053dc 51.5px,#1045c5 52.5px,#2635a7 54.5px,#2a32a1 55.5px,#2735a6 56.5px,#0f46c7 58.5px,#0053dc 59.5px,#007edf 62.5px,#00a2cf 66.5px,#00b5a9 71.5px,#00b997 73.5px,#10bb82 75.5px,#21bb7b 76.5px,#6fbe6e 79.5px,#acbe5e 85.5px,#c6bc53 89.5px,#e3b943 97.5px,#fab932 106.5px,#fcbb29 123.5px,#fdbc24 163px)"></i><i style="top:144px;background:linear-gradient(90deg,#ffc80b 0px,#fed000 14.5px,#fcdd00 23.5px,#f6f500 33.5px,#f8fa00 38.5px,#f6f600 39.5px,#fcdb00 40.5px,#ffcb04 41.5px,#fdbc27 43.5px,#a8bf5f 44.5px,#02b994 45.5px,#00abc0 46.5px,#009ad4 47.5px,#0074e1 49.5px,#0052dc 51.5px,#1244c3 52.5px,#2834a5 54.5px,#2b329f 55.5px,#2834a4 56.5px,#1045c5 58.5px,#0052dc 59.5px,#007ddf 62.5px,#00a2cf 66.5px,#00b5a9 71.5px,#00b997 73.5px,#10bb83 75.5px,#20bb7b 76.5px,#6fbe6e 79.5px,#acbe5e 85.5px,#c6bc53 89.5px,#e3b943 97.5px,#fab932 106.5px,#fcbb29 123.5px,#fdbc24 163px)"></i><i style="top:145px;background:linear-gradient(90deg,#ffc80a 0px,#fed000 14.5px,#fcdd00 23.5px,#f6f500 33.5px,#f8fb00 38.5px,#f6f600 39.5px,#fcdb00 40.5px,#ffcb04 41.5px,#ffc313 42.5px,#fdbc28 43.5px,#a6bf60 44.5px,#01b995 45.5px,#00abc0 46.5px,#0099d4 47.5px,#0073e0 49.5px,#0051dc 51.5px,#1342c1 52.5px,#203aaf 53.5px,#2933a3 54.5px,#2d319d 55.5px,#2933a2 56.5px,#1244c3 58.5px,#0052dc 59.5px,#007ddf 62.5px,#00a2cf 66.5px,#00b7a0 72.5px,#00b997 73.5px,#0fbb83 75.5px,#20bb7b 76.5px,#6ebe6e 79.5px,#a3bf61 84.5px,#c0bc56 88.5px,#daba48 94.5px,#fab932 106.5px,#fcbb29 123.5px,#fdbc24 163px)"></i><i style="top:146px;background:linear-gradient(90deg,#ffc80a 0px,#fed000 14.5px,#fcdd00 23.5px,#f6f500 33.5px,#f8fb00 38.5px,#f6f700 39.5px,#fcdb00 40.5px,#ffcb04 41.5px,#fcbb28 43.5px,#a4bf61 44.5px,#00b996 45.5px,#00aac1 46.5px,#0099d5 47.5px,#0073e0 49.5px,#0051dc 51.5px,#1541bf 52.5px,#2139ad 53.5px,#2a32a1 54.5px,#2e309c 55.5px,#2a32a1 56.5px,#2139ae 57.5px,#1343c1 58.5px,#0051dc 59.5px,#0071e0 61.5px,#009bd4 65.5px,#00afb9 69.5px,#00b997 73.5px,#0fbb83 75.5px,#1fbb7b 76.5px,#6ebe6e 79.5px,#a3bf61 84.5px,#c0bc56 88.5px,#daba48 94.5px,#fab932 106.5px,#fcbb29 123.5px,#fdbc24 163px)"></i><i style="top:147px;background:linear-gradient(90deg,#ffc80a 0px,#ffcf00 13.5px,#fbde00 23.5px,#f6f600 33.5px,#f8fb00 38.5px,#f7f700 39.5px,#fcdb00 40.5px,#ffcb05 41.5px,#ffc314 42.5px,#fcbb29 43.5px,#a2bf61 44.5px,#00b997 45.5px,#00aac1 46.5px,#0098d5 47.5px,#0072e0 49.5px,#0050dc 51.5px,#1640bd 52.5px,#2c329f 54.5px,#2f2f9a 55.5px,#2b329f 56.5px,#1442bf 58.5px,#0051dc 59.5px,#0071e0 61.5px,#009bd4 65.5px,#00afb9 69.5px,#00b997 73.5px,#0fba83 75.5px,#1ebb7b 76.5px,#6dbe6e 79.5px,#acbe5e 85.5px,#cabb51 90.5px,#e6b941 98.5px,#fab932 106.5px,#fcbb29 123.5px,#fdbc24 163px)"></i><i style="top:148px;background:linear-gradient(90deg,#ffc80a 0px,#ffcf00 13.5px,#fbde00 23.5px,#f6f600 33.5px,#f8fb00 38.5px,#f7f700 39.5px,#fcdb00 40.5px,#ffcb05 41.5px,#ffc314 42.5px,#fcbb2a 43.5px,#a0bf62 44.5px,#00b998 45.5px,#00aac2 46.5px,#0098d5 47.5px,#0072e0 49.5px,#024fd9 51.5px,#183fbb 52.5px,#2d319d 54.5px,#302e99 55.5px,#2d319e 56.5px,#1641bd 58.5px,#0050dc 59.5px,#007ddf 62.5px,#009bd4 65.5px,#00afb9 69.5px,#00b997 73.5px,#0fba84 75.5px,#1dbb7b 76.5px,#6cbe6e 79.5px,#acbe5e 85.5px,#cabb51 90.5px,#e6b941 98.5px,#fab932 106.5px,#fcbb29 123.5px,#fdbc24 163px)"></i><i style="top:149px;background:linear-gradient(90deg,#ffc80a 0px,#fed000 13.5px,#fcdb00 22.5px,#f6f400 32.5px,#f8fb00 38.5px,#f7f800 39.5px,#fcdb00 40.5px,#ffca05 41.5px,#ffc314 42.5px,#fcbb2a 43.5px,#9ec063 44.5px,#00b899 45.5px,#00a9c2 46.5px,#0097d5 47.5px,#0071e0 49.5px,#044dd7 51.5px,#193eb9 52.5px,#2e309c 54.5px,#312e97 55.5px,#2e309c 56.5px,#2437a9 57.5px,#1740bc 58.5px,#014fda 59.5px,#0070e0 61.5px,#0093d7 64.5px,#00a2cf 66.5px,#00b7a0 72.5px,#00b998 73.5px,#0fba84 75.5px,#1cbb7c 76.5px,#6bbe6e 79.5px,#a3bf61 84.5px,#c6bc54 89.5px,#e3b943 97.5px,#fab932 106.5px,#fcbb29 123.5px,#fdbc24 163px)"></i><i style="top:150px;background:linear-gradient(90deg,#ffc80a 0px,#fed000 13.5px,#fcdc00 22.5px,#f6f400 32.5px,#f8fb00 38.5px,#f7f800 39.5px,#fcdb00 40.5px,#ffca05 41.5px,#ffc315 42.5px,#fcbb2b 43.5px,#9dc063 44.5px,#00b899 45.5px,#00a9c3 46.5px,#0097d5 47.5px,#0071e0 49.5px,#005ede 50.5px,#054cd5 51.5px,#1a3eb7 52.5px,#2f2f9a 54.5px,#322d96 55.5px,#2f2f9b 56.5px,#183fba 58.5px,#024ed9 59.5px,#0070e0 61.5px,#0093d7 64.5px,#00a2cf 66.5px,#00b7a0 72.5px,#00b998 73.5px,#0eba84 75.5px,#1bbb7c 76.5px,#6abe6f 79.5px,#a3bf61 84.5px,#c0bc56 88.5px,#daba48 94.5px,#fab932 106.5px,#fcbb29 123.5px,#fdbc24 163px)"></i><i style="top:151px;background:linear-gradient(90deg,#ffc809 0px,#fed000 13.5px,#fbde00 23.5px,#f6f500 32.5px,#f8fb00 38.5px,#f7f800 39.5px,#fcdb00 40.5px,#ffca05 41.5px,#ffc315 42.5px,#fcbb2b 43.5px,#9bc064 44.5px,#00b89a 45.5px,#00a9c3 46.5px,#0096d6 47.5px,#0070e0 49.5px,#005dde 50.5px,#074bd3 51.5px,#1c3db5 52.5px,#2834a4 53.5px,#302e99 54.5px,#322d95 55.5px,#302f99 56.5px,#1a3eb8 58.5px,#034ed7 59.5px,#0070e0 61.5px,#009cd4 65.5px,#00b2b2 70.5px,#00b998 73.5px,#0eba84 75.5px,#1bbb7c 76.5px,#6abe6f 79.5px,#a2bf61 84.5px,#c0bc56 88.5px,#daba48 94.5px,#fab932 106.5px,#fcbb29 123.5px,#fdbc24 163px)"></i><i style="top:152px;background:linear-gradient(90deg,#ffc809 0px,#fed000 13.5px,#fcdc00 22.5px,#f6f500 32.5px,#f8fb00 38.5px,#f7f800 39.5px,#fcdb00 40.5px,#ffca06 41.5px,#ffc315 42.5px,#fbba2c 43.5px,#9ac064 44.5px,#00b89b 45.5px,#00a8c4 46.5px,#0096d6 47.5px,#0070e0 49.5px,#005dde 50.5px,#084ad1 51.5px,#1d3cb4 52.5px,#312e97 54.5px,#312e98 56.5px,#1b3db7 58.5px,#044dd6 59.5px,#005fde 60.5px,#007ddf 62.5px,#009cd4 65.5px,#00b2b2 70.5px,#00b998 73.5px,#0eba85 75.5px,#1abb7c 76.5px,#69be6f 79.5px,#98c065 83.5px,#babd58 87.5px,#daba48 94.5px,#fab932 106.5px,#fcbb29 123.5px,#fdbc24 163px)"></i><i style="top:153px;background:linear-gradient(90deg,#ffc809 0px,#fed000 13.5px,#fbdf00 23.5px,#f6f600 33.5px,#f8fc00 38.5px,#f7f900 39.5px,#fcdc00 40.5px,#ffca06 41.5px,#ffc215 42.5px,#fbba2d 43.5px,#98c065 44.5px,#00b89b 45.5px,#00a8c4 46.5px,#0095d6 47.5px,#006fe0 49.5px,#005cde 50.5px,#0949cf 51.5px,#1e3bb2 52.5px,#2a33a1 53.5px,#322d96 54.5px,#312d97 56.5px,#1c3db5 58.5px,#054cd4 59.5px,#005ede 60.5px,#007ddf 62.5px,#009cd4 65.5px,#00b2b2 70.5px,#00b898 73.5px,#0eba85 75.5px,#19bb7c 76.5px,#68be6f 79.5px,#98c065 83.5px,#babd58 87.5px,#daba48 94.5px,#fab932 106.5px,#fcbb29 123.5px,#fdbc24 163px)"></i><i style="top:154px;background:linear-gradient(90deg,#ffc809 0px,#fed000 13.5px,#fbdf00 23.5px,#f6f600 33.5px,#f8fc00 38.5px,#f7f900 39.5px,#fcdc00 40.5px,#ffca06 41.5px,#ffc215 42.5px,#fbba2d 43.5px,#97c065 44.5px,#00b89c 45.5px,#00a8c5 46.5px,#0095d6 47.5px,#006fe0 49.5px,#005cdd 50.5px,#0b49cd 51.5px,#1f3ab1 52.5px,#2b32a0 53.5px,#322d95 54.5px,#322d96 56.5px,#2933a2 57.5px,#1d3cb4 58.5px,#064cd3 59.5px,#005ede 60.5px,#007ddf 62.5px,#009cd4 65.5px,#00b2b2 70.5px,#00b898 73.5px,#18bb7c 76.5px,#67be6f 79.5px,#8dbf67 82.5px,#b3be5b 86.5px,#cebb4f 91.5px,#f4b937 103.5px,#fbba2e 109.5px,#fdbc24 157.5px,#fdbc24 163px)"></i><i style="top:155px;background:linear-gradient(90deg,#ffc809 0px,#fed000 13.5px,#fbdf00 23.5px,#f6f500 32.5px,#f8fc00 38.5px,#f7f900 39.5px,#fcdc00 40.5px,#ffca06 41.5px,#ffc216 42.5px,#fbba2e 43.5px,#95c065 44.5px,#00b79c 45.5px,#00a8c5 46.5px,#0095d6 47.5px,#006fe0 49.5px,#005bdd 50.5px,#0c48cc 51.5px,#203aaf 52.5px,#2c319f 53.5px,#322d95 54.5px,#322d95 56.5px,#1e3bb2 58.5px,#074bd2 59.5px,#005ede 60.5px,#007ddf 62.5px,#009cd4 65.5px,#00b2b2 70.5px,#00b898 73.5px,#0dba85 75.5px,#17bb7c 76.5px,#66be6f 79.5px,#81bf6a 81.5px,#abbe5e 85.5px,#c5bc54 89.5px,#e3b943 97.5px,#fab932 106.5px,#fcbb29 123.5px,#fdbc24 163px)"></i><i style="top:156px;background:linear-gradient(90deg,#ffc909 0px,#fed000 13.5px,#fbdf00 23.5px,#f6f700 33.5px,#f8fc00 38.5px,#f7f900 39.5px,#fcdc00 40.5px,#ffca06 41.5px,#ffc216 42.5px,#fbba2e 43.5px,#94c066 44.5px,#00b79d 45.5px,#00a8c5 46.5px,#0095d6 47.5px,#0081de 48.5px,#005bdd 50.5px,#0d47ca 51.5px,#2139ae 52.5px,#2d319d 53.5px,#322d94 54.5px,#322d95 56.5px,#2b32a0 57.5px,#1f3bb1 58.5px,#084ad1 59.5px,#005ede 60.5px,#007ddf 62.5px,#009cd4 65.5px,#00b2b2 70.5px,#00b899 73.5px,#0dba86 75.5px,#17bb7d 76.5px,#66be6f 79.5px,#98c065 83.5px,#babd59 87.5px,#daba48 94.5px,#fab932 106.5px,#fcbb29 123.5px,#fdbc24 163px)"></i><i style="top:157px;background:linear-gradient(90deg,#ffc909 0px,#fed000 13.5px,#fbdf00 23.5px,#f6f700 33.5px,#f8fc00 38.5px,#f7f900 39.5px,#fcdc00 40.5px,#ffca06 41.5px,#ffc216 42.5px,#fbba2f 43.5px,#93c066 44.5px,#00b79d 45.5px,#00a7c6 46.5px,#0094d6 47.5px,#0081de 48.5px,#005bdd 50.5px,#0e46c9 51.5px,#2238ad 52.5px,#2d309c 53.5px,#322d94 54.5px,#322d94 56.5px,#2c319f 57.5px,#1f3ab0 58.5px,#094ad0 59.5px,#005dde 60.5px,#007ddf 62.5px,#009cd4 65.5px,#00b2b2 70.5px,#00b899 73.5px,#16bb7d 76.5px,#65be6f 79.5px,#81bf6a 81.5px,#abbe5e 85.5px,#cabb51 90.5px,#e5b941 98.5px,#fab932 106.5px,#fcbb29 123.5px,#fdbc24 163px)"></i><i style="top:158px;background:linear-gradient(90deg,#ffc909 0px,#fed000 13.5px,#fbdf00 23.5px,#f6f700 33.5px,#f8fc00 38.5px,#f7f900 39.5px,#fcdc00 40.5px,#ffca06 41.5px,#ffc216 42.5px,#fbba2f 43.5px,#92c066 44.5px,#00b79d 45.5px,#00a7c6 46.5px,#0094d6 47.5px,#0081de 48.5px,#005bdd 50.5px,#0f46c8 51.5px,#2238ac 52.5px,#2e309b 53.5px,#332c93 54.5px,#322d94 56.5px,#2c319e 57.5px,#2039af 58.5px,#0a49cf 59.5px,#005dde 60.5px,#007ddf 62.5px,#009cd4 65.5px,#00b2b2 70.5px,#00b899 73.5px,#15bb7d 76.5px,#64be70 79.5px,#75be6c 80.5px,#abbe5e 85.5px,#cabb51 90.5px,#ebb93d 100.5px,#fab932 106.5px,#fcbb29 123.5px,#fdbc24 163px)"></i><i style="top:159px;background:linear-gradient(90deg,#ffc909 0px,#ffcf00 12.5px,#fcdc00 22.5px,#f6f500 32.5px,#f8fc00 38.5px,#f7f900 39.5px,#fcdc00 40.5px,#ffca06 41.5px,#ffc216 42.5px,#fbba30 43.5px,#92c066 44.5px,#00b79e 45.5px,#00a7c6 46.5px,#0094d6 47.5px,#0081de 48.5px,#005add 50.5px,#0f45c7 51.5px,#2337ab 52.5px,#2f2f9a 53.5px,#332c91 55.5px,#322d94 56.5px,#2d309d 57.5px,#2139ae 58.5px,#0a49ce 59.5px,#005dde 60.5px,#007cdf 62.5px,#009bd4 65.5px,#00afb9 69.5px,#00b899 73.5px,#14bb7d 76.5px,#64be70 79.5px,#75be6c 80.5px,#aabe5e 85.5px,#cabb51 90.5px,#ebb93d 100.5px,#fab932 106.5px,#fcbb29 123.5px,#fdbc24 163px)"></i><i style="top:160px;background:linear-gradient(90deg,#ffc909 0px,#ffcf00 12.5px,#fcdc00 22.5px,#f6f500 32.5px,#f8fc00 38.5px,#f7f900 39.5px,#fcdc00 40.5px,#ffca06 41.5px,#ffc216 42.5px,#fab930 43.5px,#91c066 44.5px,#00b79e 45.5px,#00a7c6 46.5px,#0094d6 47.5px,#0081de 48.5px,#005add 50.5px,#1045c6 51.5px,#2437aa 52.5px,#302f99 53.5px,#332c91 55.5px,#332c93 56.5px,#2e309c 57.5px,#2139ad 58.5px,#0b48cd 59.5px,#005dde 60.5px,#007cdf 62.5px,#009bd4 65.5px,#00afb9 69.5px,#00b899 73.5px,#0cba87 75.5px,#14bb7d 76.5px,#63be70 79.5px,#75be6d 80.5px,#aabe5e 85.5px,#cabb51 90.5px,#ebb93d 100.5px,#fab932 106.5px,#fcbb29 123.5px,#fdbc24 163px)"></i><i style="top:161px;background:linear-gradient(90deg,#ffc909 0px,#ffcf00 12.5px,#fcdc00 22.5px,#f6f500 32.5px,#f8fc00 38.5px,#f7f900 39.5px,#fcdc00 40.5px,#ffca06 41.5px,#ffc216 42.5px,#fab931 43.5px,#91c066 44.5px,#00b79e 45.5px,#00a7c6 46.5px,#0094d6 47.5px,#0081de 48.5px,#005add 50.5px,#1045c5 51.5px,#2437a9 52.5px,#302e99 53.5px,#332c92 54.5px,#332c93 56.5px,#2e309b 57.5px,#2238ac 58.5px,#0b48cc 59.5px,#005cde 60.5px,#007cdf 62.5px,#009bd4 65.5px,#00afb9 69.5px,#00b899 73.5px,#0cba87 75.5px,#14bb7d 76.5px,#63be70 79.5px,#80bf6a 81.5px,#aabe5e 85.5px,#c5bc54 89.5px,#e2b943 97.5px,#fab932 106.5px,#fcbb29 123.5px,#fdbc24 163px)"></i><i style="top:162px;background:linear-gradient(90deg,#ffc909 0px,#ffcf00 12.5px,#fcdc00 22.5px,#f6f500 32.5px,#f8fc00 38.5px,#f7f900 39.5px,#fcdc00 40.5px,#ffca06 41.5px,#ffc216 42.5px,#fab931 43.5px,#90c066 44.5px,#00b79e 45.5px,#00a7c6 46.5px,#0094d6 47.5px,#0081de 48.5px,#005add 50.5px,#1144c5 51.5px,#2536a9 52.5px,#312e98 53.5px,#332c90 55.5px,#2f2f9b 57.5px,#2338ac 58.5px,#0c48cb 59.5px,#005cde 60.5px,#007ce0 62.5px,#009bd4 65.5px,#00afb9 69.5px,#00b89a 73.5px,#0cba87 75.5px,#14bb7e 76.5px,#62be70 79.5px,#74be6d 80.5px,#a1bf62 84.5px,#bfbc57 88.5px,#d9ba48 94.5px,#fab932 106.5px,#fcbb29 123.5px,#fdbc24 163px)"></i><i style="top:163px;background:linear-gradient(90deg,#ffc909 0px,#ffcf00 12.5px,#fcdc00 22.5px,#f6f500 32.5px,#f8fc00 38.5px,#f7f900 39.5px,#fcdc00 40.5px,#ffca06 41.5px,#ffc217 42.5px,#fab931 43.5px,#90c066 44.5px,#00b79d 45.5px,#00a7c6 46.5px,#0094d6 47.5px,#0081de 48.5px,#005add 50.5px,#1144c4 51.5px,#2536a8 52.5px,#312e97 53.5px,#332c90 55.5px,#332c92 56.5px,#2f2f9a 57.5px,#2337ab 58.5px,#0d47ca 59.5px,#005cdd 60.5px,#007ce0 62.5px,#009bd4 65.5px,#00afb9 69.5px,#00b89a 73.5px,#13bb7e 76.5px,#62be70 79.5px,#74be6d 80.5px,#a1bf62 84.5px,#bfbc57 88.5px,#d9ba48 94.5px,#fab932 106.5px,#fcbb29 123.5px,#fdbc24 163px)"></i><i style="top:164px;background:linear-gradient(90deg,#ffc909 0px,#ffcf00 12.5px,#fcdc00 22.5px,#f6f500 32.5px,#f8fc00 38.5px,#f7f900 39.5px,#fcdc00 40.5px,#ffca07 41.5px,#ffc217 42.5px,#fab932 43.5px,#90c066 44.5px,#00b79d 45.5px,#00a7c6 46.5px,#0094d6 47.5px,#0081de 48.5px,#005add 50.5px,#1244c3 51.5px,#2636a7 52.5px,#322d96 53.5px,#332c90 55.5px,#302e99 57.5px,#2437aa 58.5px,#0d47ca 59.5px,#005cdd 60.5px,#007ce0 62.5px,#009bd4 65.5px,#00afb9 69.5px,#00b89a 73.5px,#13bb7e 76.5px,#61be70 79.5px,#74be6d 80.5px,#aabf5f 85.5px,#c9bb52 90.5px,#e5b942 98.5px,#fab932 106.5px,#fcbb29 123.5px,#fdbc24 163px)"></i><i style="top:165px;background:linear-gradient(90deg,#ffc909 0px,#ffcf00 12.5px,#fcdc00 22.5px,#f6f500 32.5px,#f8fc00 38.5px,#f7f900 39.5px,#fcdc00 40.5px,#ffca07 41.5px,#ffc217 42.5px,#fab932 43.5px,#90bf67 44.5px,#00b79d 45.5px,#00a7c6 46.5px,#0094d6 47.5px,#0081de 48.5px,#005add 50.5px,#1243c3 51.5px,#2635a6 52.5px,#322d96 53.5px,#332c90 55.5px,#302e98 57.5px,#2437a9 58.5px,#0e46c9 59.5px,#005bdd 60.5px,#007ce0 62.5px,#009bd4 65.5px,#00afb9 69.5px,#03b992 74.5px,#13bb7e 76.5px,#61be70 79.5px,#74be6d 80.5px,#a9bf5f 85.5px,#c4bc54 89.5px,#dcba47 95.5px,#fab932 106.5px,#fcbb29 123.5px,#fdbc24 163px)"></i><i style="top:166px;background:linear-gradient(90deg,#ffc909 0px,#ffcf00 12.5px,#fcdc00 22.5px,#f6f500 32.5px,#f8fc00 38.5px,#f7f900 39.5px,#fcdc00 40.5px,#ffca07 41.5px,#ffc217 42.5px,#fab932 43.5px,#8fbf67 44.5px,#00b79d 45.5px,#00a7c6 46.5px,#0094d6 47.5px,#0081de 48.5px,#005add 50.5px,#1243c2 51.5px,#2735a6 52.5px,#322d96 53.5px,#332c8f 55.5px,#312e98 57.5px,#2536a9 58.5px,#0e46c8 59.5px,#005bdd 60.5px,#007be0 62.5px,#009bd4 65.5px,#00afb9 69.5px,#03b992 74.5px,#13bb7f 76.5px,#61be70 79.5px,#73be6d 80.5px,#a0bf62 84.5px,#bebc57 88.5px,#d9ba48 94.5px,#fab932 106.5px,#fcbb29 123.5px,#fdbc24 163px)"></i><i style="top:167px;background:linear-gradient(90deg,#ffc909 0px,#ffcf00 12.5px,#fcdc00 22.5px,#f6f500 32.5px,#f8fc00 38.5px,#f7f900 39.5px,#fcdc00 40.5px,#ffca07 41.5px,#ffc217 42.5px,#f9b933 43.5px,#8fbf67 44.5px,#00b79d 45.5px,#00a7c6 46.5px,#0094d6 47.5px,#0081de 48.5px,#005add 50.5px,#1343c2 51.5px,#2734a5 52.5px,#322d95 53.5px,#332c8f 55.5px,#312d97 57.5px,#2536a8 58.5px,#0f46c7 59.5px,#005bdd 60.5px,#007be0 62.5px,#009bd4 65.5px,#00b2b3 70.5px,#03b992 74.5px,#13bb7f 76.5px,#45bd75 78.5px,#60be70 79.5px,#73be6d 80.5px,#a0bf62 84.5px,#bebc57 88.5px,#d9ba48 94.5px,#fab932 106.5px,#fcbb29 123.5px,#fdbc24 163px)"></i><i style="top:168px;background:linear-gradient(90deg,#ffc909 0px,#ffcf00 12.5px,#fcdc00 22.5px,#f6f500 32.5px,#f8fc00 38.5px,#f7f900 39.5px,#fcdc00 40.5px,#ffca07 41.5px,#ffc117 42.5px,#f9b933 43.5px,#8fbf67 44.5px,#00b79d 45.5px,#00a7c6 46.5px,#0094d6 47.5px,#0081de 48.5px,#005add 50.5px,#1343c1 51.5px,#2834a4 52.5px,#322d95 53.5px,#332c8f 55.5px,#322d96 57.5px,#2636a7 58.5px,#0f45c7 59.5px,#005bdd 60.5px,#007be0 62.5px,#009bd4 65.5px,#00b2b3 70.5px,#03b992 74.5px,#12bb7f 76.5px,#60be70 79.5px,#73be6d 80.5px,#a0c062 84.5px,#bebc57 88.5px,#dcba47 95.5px,#fab932 106.5px,#fcbb29 123.5px,#fdbc24 163px)"></i><i style="top:169px;background:linear-gradient(90deg,#ffc909 0px,#ffcf00 12.5px,#fcdc00 22.5px,#f6f500 32.5px,#f8fc00 38.5px,#f7f900 39.5px,#fcdc00 40.5px,#ffca07 41.5px,#ffc117 42.5px,#f8b933 43.5px,#8fbf67 44.5px,#00b79d 45.5px,#00a7c6 46.5px,#0094d6 47.5px,#0081de 48.5px,#005add 50.5px,#1442c0 51.5px,#2834a3 52.5px,#322d95 53.5px,#342b8e 55.5px,#322d96 57.5px,#2635a6 58.5px,#1045c6 59.5px,#005bdd 60.5px,#007be0 62.5px,#00a2cf 66.5px,#00b4aa 71.5px,#03b993 74.5px,#12bb7f 76.5px,#44bd75 78.5px,#5fbe70 79.5px,#73be6d 80.5px,#a9bf5f 85.5px,#c9bc52 90.5px,#ebb93d 100.5px,#fab930 107.5px,#fdbc25 146.5px,#fdbc24 163px)"></i><i style="top:170px;background:linear-gradient(90deg,#ffc909 0px,#ffcf00 12.5px,#fcdc00 22.5px,#f6f500 32.5px,#f8fc00 38.5px,#f7f900 39.5px,#fcdc00 40.5px,#ffca07 41.5px,#ffc117 42.5px,#f8b934 43.5px,#8fbf67 44.5px,#00b79d 45.5px,#00a8c5 46.5px,#0094d6 47.5px,#0081de 48.5px,#0059dd 50.5px,#1442c0 51.5px,#2933a3 52.5px,#322d94 53.5px,#342b8e 55.5px,#322d95 57.5px,#2735a6 58.5px,#1045c5 59.5px,#005add 60.5px,#007be0 62.5px,#009ad4 65.5px,#00a6c8 67.5px,#00b4ab 71.5px,#02b993 74.5px,#12bb80 76.5px,#28bc7a 77.5px,#5fbd71 79.5px,#73be6d 80.5px,#a9bf5f 85.5px,#c4bc55 89.5px,#e2b943 97.5px,#fab932 106.5px,#fcbb29 123.5px,#fdbc24 163px)"></i><i style="top:171px;background:linear-gradient(90deg,#ffc909 0px,#ffcf00 12.5px,#fcdc00 22.5px,#f6f500 32.5px,#f8fc00 38.5px,#f7f900 39.5px,#fcdc00 40.5px,#ffca07 41.5px,#ffc117 42.5px,#f7b934 43.5px,#8fbf67 44.5px,#00b79c 45.5px,#00a8c5 46.5px,#0094d6 47.5px,#0081de 48.5px,#0059dd 50.5px,#1442bf 51.5px,#2933a2 52.5px,#322d94 53.5px,#342b8e 55.5px,#322d95 57.5px,#2735a5 58.5px,#1144c5 59.5px,#005add 60.5px,#007be0 62.5px,#009ad4 65.5px,#00a6c8 67.5px,#00b4ab 71.5px,#02b993 74.5px,#12bb80 76.5px,#43bd75 78.5px,#5ebd71 79.5px,#73be6d 80.5px,#a9bf5f 85.5px,#c8bc52 90.5px,#e5b942 98.5px,#fab932 106.5px,#fcbb29 123.5px,#fdbc24 163px)"></i><i style="top:172px;background:linear-gradient(90deg,#ffc909 0px,#ffcf00 12.5px,#fcdc00 22.5px,#f6f500 32.5px,#f8fc00 38.5px,#f7f900 39.5px,#fcdc00 40.5px,#ffca07 41.5px,#ffc117 42.5px,#f7b934 43.5px,#8fbf67 44.5px,#00b89c 45.5px,#00a8c5 46.5px,#0094d6 47.5px,#0081de 48.5px,#0059dd 50.5px,#1541bf 51.5px,#2a33a1 52.5px,#322d94 53.5px,#342b8d 55.5px,#322d95 57.5px,#2834a4 58.5px,#1144c4 59.5px,#005add 60.5px,#007ae0 62.5px,#009ad4 65.5px,#00a6c8 67.5px,#00b4ab 71.5px,#02b994 74.5px,#12bb80 76.5px,#27bc7a 77.5px,#5ebd71 79.5px,#72be6d 80.5px,#9fc062 84.5px,#bebd57 88.5px,#dcba47 95.5px,#fab932 106.5px,#fcbb29 123.5px,#fdbc24 163px)"></i><i style="top:173px;background:linear-gradient(90deg,#ffc909 0px,#ffcf00 12.5px,#fcdc00 22.5px,#f6f500 32.5px,#f8fc00 38.5px,#f7f900 39.5px,#fcdc00 40.5px,#ffca07 41.5px,#ffc118 42.5px,#f7b934 43.5px,#8fbf67 44.5px,#00b89c 45.5px,#00a8c5 46.5px,#0094d6 47.5px,#0081de 48.5px,#0059dd 50.5px,#1541be 51.5px,#2a32a1 52.5px,#322d94 53.5px,#342b8d 55.5px,#322d95 57.5px,#2834a4 58.5px,#1244c3 59.5px,#005add 60.5px,#007ae0 62.5px,#009ad4 65.5px,#00b2b4 70.5px,#02b994 74.5px,#11bb80 76.5px,#42bd75 78.5px,#5ebd71 79.5px,#72be6d 80.5px,#9fc062 84.5px,#bdbd57 88.5px,#d9ba49 94.5px,#fab932 106.5px,#fcbb29 123.5px,#fdbc24 163px)"></i><i style="top:174px;background:linear-gradient(90deg,#ffc909 0px,#ffcf00 12.5px,#fcdc00 22.5px,#f6f500 32.5px,#f8fc00 38.5px,#f7f900 39.5px,#fcdc00 40.5px,#ffca07 41.5px,#ffc118 42.5px,#f6b935 43.5px,#8fbf67 44.5px,#00b89c 45.5px,#00a8c5 46.5px,#0094d6 47.5px,#0081de 48.5px,#0059dd 50.5px,#1641be 51.5px,#2b32a0 52.5px,#332c93 53.5px,#342b8d 55.5px,#322d94 57.5px,#2934a3 58.5px,#1243c3 59.5px,#0059dd 60.5px,#007ae0 62.5px,#009ad4 65.5px,#00b2b4 70.5px,#02b994 74.5px,#11bb80 76.5px,#26bc7a 77.5px,#5dbd71 79.5px,#72be6d 80.5px,#9fc062 84.5px,#bdbd57 88.5px,#d9ba49 94.5px,#fab932 106.5px,#fcbb29 123.5px,#fdbc24 163px)"></i><i style="top:175px;background:linear-gradient(90deg,#ffc909 0px,#ffcf00 12.5px,#fcdc00 22.5px,#f6f500 32.5px,#f8fc00 38.5px,#f7f900 39.5px,#fcdc00 40.5px,#ffca07 41.5px,#ffc118 42.5px,#f6b935 43.5px,#8fbf67 44.5px,#00b89c 45.5px,#00a8c5 46.5px,#0095d6 47.5px,#0081de 48.5px,#0059dd 50.5px,#1641bd 51.5px,#2b32a0 52.5px,#332c93 53.5px,#342b8d 55.5px,#322d94 57.5px,#2933a3 58.5px,#1243c2 59.5px,#0059dd 60.5px,#007ae0 62.5px,#009ad4 65.5px,#00b2b4 70.5px,#01b994 74.5px,#11bb81 76.5px,#26bc7a 77.5px,#5dbd71 79.5px,#72be6d 80.5px,#9fc063 84.5px,#bdbd57 88.5px,#d8ba49 94.5px,#fab932 106.5px,#fcbb29 123.5px,#fdbc24 163px)"></i><i style="top:176px;background:linear-gradient(90deg,#ffc909 0px,#ffcf00 12.5px,#fcdc00 22.5px,#f6f500 32.5px,#f8fc00 38.5px,#f7f900 39.5px,#fcdc00 40.5px,#ffca07 41.5px,#ffc118 42.5px,#f6b935 43.5px,#8fbf67 44.5px,#00b89b 45.5px,#00a8c5 46.5px,#0095d6 47.5px,#006ee0 49.5px,#0059dd 50.5px,#1640bd 51.5px,#2c329f 52.5px,#332c93 53.5px,#342b8c 55.5px,#322d94 57.5px,#2933a2 58.5px,#1343c2 59.5px,#0059dd 60.5px,#007ae0 62.5px,#009ad4 65.5px,#00b2b4 70.5px,#01b995 74.5px,#11bb81 76.5px,#25bc7a 77.5px,#5cbd71 79.5px,#72be6d 80.5px,#a8bf5f 85.5px,#c8bc52 90.5px,#ebb93e 100.5px,#fab930 107.5px,#fdbc25 146.5px,#fdbc24 163px)"></i><i style="top:177px;background:linear-gradient(90deg,#ffc909 0px,#ffcf00 12.5px,#fcdc00 22.5px,#f6f500 32.5px,#f8fc00 38.5px,#f7f900 39.5px,#fcdc00 40.5px,#ffca07 41.5px,#ffc118 42.5px,#f5b936 43.5px,#8fbf67 44.5px,#00b89b 45.5px,#00a8c5 46.5px,#0095d6 47.5px,#006ee0 49.5px,#0059dd 50.5px,#1740bc 51.5px,#2c319f 52.5px,#332c93 53.5px,#342b8c 55.5px,#322d94 57.5px,#2a33a2 58.5px,#1343c1 59.5px,#0059dd 60.5px,#007ae0 62.5px,#009ad4 65.5px,#00b2b4 70.5px,#01b995 74.5px,#11bb81 76.5px,#25bc7a 77.5px,#5cbd71 79.5px,#72be6d 80.5px,#a8bf5f 85.5px,#c8bc52 90.5px,#e4b942 98.5px,#fab932 106.5px,#fcbb29 123.5px,#fdbc24 163px)"></i><i style="top:178px;background:linear-gradient(90deg,#ffc909 0px,#ffcf00 12.5px,#fcdc00 22.5px,#f6f500 32.5px,#f8fc00 38.5px,#f7f900 39.5px,#fcdc00 40.5px,#ffca07 41.5px,#ffc118 42.5px,#f5b936 43.5px,#8fbf67 44.5px,#00b89b 45.5px,#00a8c4 46.5px,#0095d6 47.5px,#006ee0 49.5px,#0059dd 50.5px,#1740bc 51.5px,#2c319e 52.5px,#332c92 53.5px,#342b8c 55.5px,#332c93 57.5px,#2a32a1 58.5px,#1442c1 59.5px,#0059dd 60.5px,#007ae0 62.5px,#00a1d1 66.5px,#00b4ac 71.5px,#01b995 74.5px,#11bb81 76.5px,#24bc7a 77.5px,#5cbd71 79.5px,#72be6d 80.5px,#a8bf5f 85.5px,#c8bc52 90.5px,#e4b942 98.5px,#fab932 106.5px,#fcbb29 123.5px,#fdbc24 163px)"></i><i style="top:179px;background:linear-gradient(90deg,#ffc909 0px,#ffcf00 12.5px,#fcdc00 22.5px,#f6f500 32.5px,#f8fc00 38.5px,#f7f900 39.5px,#fcdc00 40.5px,#ffca07 41.5px,#ffc118 42.5px,#f5b936 43.5px,#8fbf67 44.5px,#00b89b 45.5px,#00a8c4 46.5px,#0095d6 47.5px,#006ee0 49.5px,#0059dd 50.5px,#1740bb 51.5px,#2d319d 52.5px,#332c92 53.5px,#342b8c 55.5px,#332c93 57.5px,#2a32a1 58.5px,#1442c0 59.5px,#0059dd 60.5px,#007ae0 62.5px,#00a1d1 66.5px,#00b4ad 71.5px,#00b995 74.5px,#10bb82 76.5px,#23bc7a 77.5px,#5bbd71 79.5px,#71be6d 80.5px,#9fc063 84.5px,#bdbd57 88.5px,#dcba47 95.5px,#fab932 106.5px,#fcbb29 123.5px,#fdbc24 163px)"></i><i style="top:180px;background:linear-gradient(90deg,#ffc909 0px,#ffcf00 12.5px,#fcdc00 22.5px,#f6f500 32.5px,#f8fc00 38.5px,#f7f900 39.5px,#fcdc00 40.5px,#ffca07 41.5px,#ffc118 42.5px,#f4b936 43.5px,#8fbf67 44.5px,#00b89a 45.5px,#00a8c4 46.5px,#0095d6 47.5px,#006ee0 49.5px,#0059dd 50.5px,#183fbb 51.5px,#2d309d 52.5px,#332c92 53.5px,#342b8c 55.5px,#332c93 57.5px,#2b32a0 58.5px,#1442c0 59.5px,#0058dd 60.5px,#0079e0 62.5px,#0099d5 65.5px,#00aac2 68.5px,#00b996 74.5px,#10bb82 76.5px,#23bb7b 77.5px,#5bbd71 79.5px,#71be6d 80.5px,#9ec063 84.5px,#c3bc55 89.5px,#dfba45 96.5px,#fab932 106.5px,#fcbb29 123.5px,#fdbc24 163px)"></i><i style="top:181px;background:linear-gradient(90deg,#ffc909 0px,#ffcf00 12.5px,#fcdc00 22.5px,#f6f500 32.5px,#f8fc00 38.5px,#f7f900 39.5px,#fcdc00 40.5px,#ffca07 41.5px,#ffc118 42.5px,#f4b936 43.5px,#8fbf67 44.5px,#00b89a 45.5px,#00a8c4 46.5px,#0095d6 47.5px,#006ee0 49.5px,#0059dd 50.5px,#183fbb 51.5px,#2d309d 52.5px,#332c92 53.5px,#342b8b 55.5px,#332c93 57.5px,#2b32a0 58.5px,#1542bf 59.5px,#0058dd 60.5px,#0079e0 62.5px,#0099d5 65.5px,#00aac2 68.5px,#00b996 74.5px,#10bb82 76.5px,#22bb7b 77.5px,#5bbd71 79.5px,#71be6d 80.5px,#9ec063 84.5px,#c3bc55 89.5px,#e1b944 97.5px,#fab932 106.5px,#fcbb29 123.5px,#fdbc24 163px)"></i><i style="top:182px;background:linear-gradient(90deg,#ffc909 0px,#ffcf00 12.5px,#fcdc00 22.5px,#f6f500 32.5px,#f8fc00 38.5px,#f7f900 39.5px,#fcdc00 40.5px,#ffca07 41.5px,#ffc118 42.5px,#f4b937 43.5px,#8fbf67 44.5px,#00b89a 45.5px,#00a9c4 46.5px,#0095d6 47.5px,#006ee0 49.5px,#0059dd 50.5px,#183fba 51.5px,#2e309c 52.5px,#332c91 53.5px,#342b8b 55.5px,#332c93 57.5px,#2b329f 58.5px,#1541bf 59.5px,#0058dd 60.5px,#0079e1 62.5px,#0099d5 65.5px,#00aac2 68.5px,#00b996 74.5px,#10bb82 76.5px,#22bb7b 77.5px,#5abd71 79.5px,#71be6d 80.5px,#9ec063 84.5px,#bcbd57 88.5px,#d8ba49 94.5px,#fab932 106.5px,#fcbb29 123.5px,#fdbc24 163px)"></i><i style="top:183px;background:linear-gradient(90deg,#ffc909 0px,#ffcf00 12.5px,#fcdc00 22.5px,#f6f500 32.5px,#f8fc00 38.5px,#f7f900 39.5px,#fcdc00 40.5px,#ffca07 41.5px,#ffc118 42.5px,#f4b937 43.5px,#8fbf67 44.5px,#00b899 45.5px,#00a9c4 46.5px,#0095d6 47.5px,#006ee0 49.5px,#0059dd 50.5px,#183fba 51.5px,#2e309c 52.5px,#332c91 53.5px,#342b8b 55.5px,#332c92 57.5px,#2c319f 58.5px,#1541be 59.5px,#0058dd 60.5px,#0079e1 62.5px,#0099d5 65.5px,#00aebb 69.5px,#00b996 74.5px,#10bb82 76.5px,#22bb7b 77.5px,#5abd71 79.5px,#71be6d 80.5px,#9ec063 84.5px,#bcbd57 88.5px,#d8ba49 94.5px,#fab932 106.5px,#fcbb29 123.5px,#fdbc24 163px)"></i><i style="top:184px;background:linear-gradient(90deg,#ffc909 0px,#ffcf00 12.5px,#fcdc00 22.5px,#f6f500 32.5px,#f8fc00 38.5px,#f7f900 39.5px,#fcdc00 40.5px,#ffca07 41.5px,#ffc118 42.5px,#f3b937 43.5px,#8fbf67 44.5px,#00b899 45.5px,#00a9c3 46.5px,#0096d6 47.5px,#006ee0 49.5px,#0059dd 50.5px,#193fb9 51.5px,#2e309b 52.5px,#342b8c 54.5px,#342b8d 56.5px,#332c92 57.5px,#2c319f 58.5px,#1541be 59.5px,#0058dd 60.5px,#0079e1 62.5px,#0099d5 65.5px,#00adbc 69.5px,#00b997 74.5px,#10bb83 76.5px,#21bb7b 77.5px,#5abd71 79.5px,#71be6d 80.5px,#9ec063 84.5px,#bcbd58 88.5px,#d8ba49 94.5px,#fab932 106.5px,#fcbb29 123.5px,#fdbc24 163px)"></i><i style="top:185px;background:linear-gradient(90deg,#ffc909 0px,#ffcf00 12.5px,#fcdc00 22.5px,#f6f500 32.5px,#f8fc00 38.5px,#f7f900 39.5px,#fcdc00 40.5px,#ffca07 41.5px,#ffc118 42.5px,#f3b937 43.5px,#8fbf67 44.5px,#00b899 45.5px,#00a9c3 46.5px,#0096d6 47.5px,#006ee0 49.5px,#0059dd 50.5px,#193fb9 51.5px,#2e309b 52.5px,#342b8c 54.5px,#342b8d 56.5px,#332c92 57.5px,#2c319e 58.5px,#1641be 59.5px,#0058dd 60.5px,#0079e1 62.5px,#0099d5 65.5px,#00a5ca 67.5px,#00b5a6 72.5px,#00b997 74.5px,#0fbb83 76.5px,#21bb7b 77.5px,#5abd71 79.5px,#71be6d 80.5px,#9ec063 84.5px,#bcbd58 88.5px,#d8ba49 94.5px,#fab932 106.5px,#fcbb29 123.5px,#fdbc24 163px)"></i><i style="top:186px;background:linear-gradient(90deg,#ffc909 0px,#ffcf00 12.5px,#fcdc00 22.5px,#f6f500 32.5px,#f8fc00 38.5px,#f7f900 39.5px,#fcdc00 40.5px,#ffca07 41.5px,#ffc119 42.5px,#f3b937 43.5px,#90bf67 44.5px,#00b898 45.5px,#00a9c3 46.5px,#0096d6 47.5px,#006ee0 49.5px,#0059dd 50.5px,#193eb9 51.5px,#2f2f9b 52.5px,#342b8c 54.5px,#342b8d 56.5px,#332c92 57.5px,#2c319e 58.5px,#1641be 59.5px,#0058dd 60.5px,#0079e1 62.5px,#00a0d2 66.5px,#00b3ae 71.5px,#00b997 74.5px,#0fbb83 76.5px,#20bb7b 77.5px,#5abd71 79.5px,#71be6d 80.5px,#a7bf60 85.5px,#c7bc53 90.5px,#e4b942 98.5px,#fab932 106.5px,#fcbb29 123.5px,#fdbc24 163px)"></i><i style="top:187px;background:linear-gradient(90deg,#ffc909 0px,#ffcf00 12.5px,#fcdc00 22.5px,#f6f500 32.5px,#f8fc00 38.5px,#f7f900 39.5px,#fcdc00 40.5px,#ffca07 41.5px,#ffc119 42.5px,#f3b937 43.5px,#90bf67 44.5px,#00b998 45.5px,#00a9c3 46.5px,#0096d6 47.5px,#006ee0 49.5px,#0058dd 50.5px,#193eb9 51.5px,#2f2f9b 52.5px,#342b8c 54.5px,#342b8d 56.5px,#332c92 57.5px,#2d319e 58.5px,#1641bd 59.5px,#0058dd 60.5px,#0079e1 62.5px,#00a0d2 66.5px,#00b3af 71.5px,#00b997 74.5px,#0fbb83 76.5px,#20bb7b 77.5px,#59bd71 79.5px,#71be6d 80.5px,#a7bf60 85.5px,#c7bc53 90.5px,#e4b942 98.5px,#fab932 106.5px,#fcbb29 123.5px,#fdbc24 163px)"></i><i style="top:188px;background:linear-gradient(90deg,#ffc909 0px,#ffcf00 12.5px,#fcdc00 22.5px,#f6f500 32.5px,#f8fc00 38.5px,#f7f900 39.5px,#fcdc00 40.5px,#ffca07 41.5px,#ffc119 42.5px,#f3b938 43.5px,#90c066 44.5px,#00b998 45.5px,#00a9c2 46.5px,#0096d6 47.5px,#006ee0 49.5px,#0058dd 50.5px,#193eb9 51.5px,#2f2f9a 52.5px,#342b8c 54.5px,#342b8d 56.5px,#332c92 57.5px,#2d319d 58.5px,#1641bd 59.5px,#0058dd 60.5px,#0079e1 62.5px,#00a0d2 66.5px,#00b3af 71.5px,#00b998 74.5px,#0fba83 76.5px,#1fbb7b 77.5px,#59bd71 79.5px,#71be6d 80.5px,#a7bf60 85.5px,#c7bc53 90.5px,#e4b942 98.5px,#fab932 106.5px,#fcbb29 123.5px,#fdbc24 163px)"></i><i style="top:189px;background:linear-gradient(90deg,#ffc909 0px,#ffcf00 12.5px,#fcdc00 22.5px,#f6f500 32.5px,#f8fc00 38.5px,#f7f900 39.5px,#fcdc00 40.5px,#ffca07 41.5px,#ffc119 42.5px,#f2b938 43.5px,#90c066 44.5px,#00b997 45.5px,#00a9c2 46.5px,#0097d6 47.5px,#006ee0 49.5px,#0058dd 50.5px,#193eb8 51.5px,#2f2f9a 52.5px,#342b8c 54.5px,#342b8d 56.5px,#332c92 57.5px,#2d319d 58.5px,#1640bd 59.5px,#0058dd 60.5px,#0079e1 62.5px,#00a0d2 66.5px,#00b5a7 72.5px,#00b998 74.5px,#0fba84 76.5px,#1fbb7b 77.5px,#59bd71 79.5px,#71be6d 80.5px,#a7bf60 85.5px,#c7bc53 90.5px,#e4b942 98.5px,#fab932 106.5px,#fcbb29 123.5px,#fdbc24 163px)"></i><i style="top:190px;background:linear-gradient(90deg,#ffc909 0px,#ffcf00 12.5px,#fcdc00 22.5px,#f6f500 32.5px,#f8fc00 38.5px,#f7f900 39.5px,#fcdc00 40.5px,#ffca07 41.5px,#ffc119 42.5px,#f2b938 43.5px,#90c066 44.5px,#00b997 45.5px,#00aac2 46.5px,#0097d5 47.5px,#006ee0 49.5px,#0058dd 50.5px,#1a3eb8 51.5px,#2f2f9a 52.5px,#342b8c 54.5px,#342b8d 56.5px,#332c92 57.5px,#2d319d 58.5px,#1640bd 59.5px,#0058dd 60.5px,#0079e1 62.5px,#00a0d2 66.5px,#00b5a8 72.5px,#00b998 74.5px,#0fba84 76.5px,#1fbb7b 77.5px,#59bd72 79.5px,#71be6d 80.5px,#a7bf60 85.5px,#c7bc53 90.5px,#e4b942 98.5px,#fab932 106.5px,#fcbb29 123.5px,#fdbc24 163px)"></i><i style="top:191px;background:linear-gradient(90deg,#ffc909 0px,#ffcf00 12.5px,#fcdc00 22.5px,#f6f500 32.5px,#f8fc00 38.5px,#f7f900 39.5px,#fcdc00 40.5px,#ffca07 41.5px,#ffc119 42.5px,#f2b938 43.5px,#91c066 44.5px,#00b997 45.5px,#00aac2 46.5px,#0097d5 47.5px,#006ee0 49.5px,#0058dd 50.5px,#1a3eb8 51.5px,#2f2f9a 52.5px,#342b8c 54.5px,#342b8c 56.5px,#2d319d 58.5px,#1640bd 59.5px,#0058dd 60.5px,#0079e1 62.5px,#00a0d2 66.5px,#00b5a8 72.5px,#00b898 74.5px,#0eba84 76.5px,#1ebb7b 77.5px,#59bd72 79.5px,#71be6d 80.5px,#a7bf60 85.5px,#c7bc53 90.5px,#e4b942 98.5px,#fab932 106.5px,#fcbb29 123.5px,#fdbc24 163px)"></i><i style="top:192px;background:linear-gradient(90deg,#ffc909 0px,#ffcf00 12.5px,#fcdc00 22.5px,#f6f500 32.5px,#f8fc00 38.5px,#f7f900 39.5px,#fcdc00 40.5px,#ffca07 41.5px,#ffc119 42.5px,#f2b938 43.5px,#91c066 44.5px,#00b996 45.5px,#00aac1 46.5px,#0097d5 47.5px,#006ee0 49.5px,#0058dd 50.5px,#1a3eb8 51.5px,#2f2f9a 52.5px,#342b8c 54.5px,#342b8c 56.5px,#2d319d 58.5px,#1640bd 59.5px,#0058dd 60.5px,#0079e1 62.5px,#0098d5 65.5px,#00a4cb 67.5px,#00b5a8 72.5px,#00b898 74.5px,#0eba84 76.5px,#1ebb7b 77.5px,#59bd72 79.5px,#71be6d 80.5px,#a7bf60 85.5px,#ccbb50 91.5px,#f6b935 104.5px,#fbba2e 110.5px,#fdbc24 156.5px,#fdbc24 163px)"></i></div>
<div class="hm" style="left:342px;top:24px;width:162px;height:190px;transform:translateY(0.4px) scaleY(1.00158)"><i style="top:0px;background:linear-gradient(90deg,#a9bf5f 0px,#a5bf60 13.5px,#92c066 24.5px,#77be6c 32.5px,#6bbe6e 34.5px,#3dbc76 37.5px,#13bb7e 39.5px,#03b992 41.5px,#00b3b1 44.5px,#00aebb 47.5px,#00b1b5 49.5px,#00b6a1 51.5px,#02b993 52.5px,#11bb81 53.5px,#3fbc76 54.5px,#75be6c 55.5px,#babd58 57.5px,#d2bb4c 58.5px,#f2b938 60.5px,#fbba2f 63.5px,#fbba2f 79.5px,#f4b936 87.5px,#e2b943 99.5px,#ccbb50 121.5px,#c3bc55 132.5px,#bebc57 162px)"></i><i style="top:1px;background:linear-gradient(90deg,#aabf5f 0px,#a6bf60 13.5px,#8fbf67 25.5px,#76be6c 32.5px,#68be6f 34.5px,#39bc77 37.5px,#12bb80 39.5px,#02b994 41.5px,#00b2b3 44.5px,#00aebb 47.5px,#00b1b6 49.5px,#00b6a2 51.5px,#01b995 52.5px,#0fbb83 53.5px,#3bbc77 54.5px,#74be6d 55.5px,#b9bd59 57.5px,#d2bb4c 58.5px,#f2b938 60.5px,#fab930 62.5px,#fbba2c 74.5px,#f7b935 86.5px,#e1b944 100.5px,#cbbb51 122.5px,#c3bc55 133.5px,#bebc57 162px)"></i><i style="top:2px;background:linear-gradient(90deg,#aabf5e 0px,#a6bf60 13.5px,#91c066 24.5px,#75be6c 32.5px,#70be6e 33.5px,#57bd72 35.5px,#20bb7b 38.5px,#10bb82 39.5px,#00b996 41.5px,#00b2b5 44.5px,#00adbc 47.5px,#00b1b6 49.5px,#00b6a3 51.5px,#00b996 52.5px,#0eba84 53.5px,#37bc77 54.5px,#72be6d 55.5px,#b9bd59 57.5px,#d3bb4c 58.5px,#f3b937 60.5px,#fbba2f 62.5px,#fcbb2c 74.5px,#f7b934 86.5px,#e2b943 100.5px,#cebb4f 120.5px,#c3bc55 133.5px,#bebc57 162px)"></i><i style="top:3px;background:linear-gradient(90deg,#aabf5e 0px,#a6bf60 13.5px,#8ebf67 25.5px,#6fbe6e 33.5px,#54bd72 35.5px,#1bbb7c 38.5px,#07ba8d 40.5px,#00b998 41.5px,#00b1b6 44.5px,#00acbd 47.5px,#00b0b7 49.5px,#00b6a4 51.5px,#00b997 52.5px,#0dba86 53.5px,#33bc78 54.5px,#71be6d 55.5px,#b9bd59 57.5px,#d3bb4c 58.5px,#f4b937 60.5px,#fbba2f 62.5px,#fcbb2a 71.5px,#f8b934 86.5px,#e2b943 100.5px,#ccbb50 122.5px,#c4bc55 133.5px,#bfbc57 162px)"></i><i style="top:4px;background:linear-gradient(90deg,#aabe5e 0px,#a6bf60 13.5px,#90c066 24.5px,#73be6d 32.5px,#6dbe6e 33.5px,#51bd73 35.5px,#16bb7d 38.5px,#00b899 41.5px,#00b0b7 44.5px,#00acbe 47.5px,#00b0b8 49.5px,#00b5a5 51.5px,#00b898 52.5px,#0cba87 53.5px,#2fbc79 54.5px,#6fbe6e 55.5px,#b8bd59 57.5px,#d3bb4c 58.5px,#f4b936 60.5px,#fbba2e 62.5px,#fcbb2a 72.5px,#f9b933 86.5px,#e4b942 99.5px,#c5bc54 131.5px,#bfbc57 162px)"></i><i style="top:5px;background:linear-gradient(90deg,#aabe5e 0px,#a6bf60 13.5px,#90c066 24.5px,#72be6d 32.5px,#6bbe6f 33.5px,#3cbc76 36.5px,#13bb7e 38.5px,#00b89b 41.5px,#00b0b8 44.5px,#00abbf 47.5px,#00afb8 49.5px,#00b3b2 50.5px,#00b899 52.5px,#0bba89 53.5px,#2bbc79 54.5px,#6dbe6e 55.5px,#b8bd59 57.5px,#d4bb4b 58.5px,#f5b936 60.5px,#fbba2d 62.5px,#fcbb29 73.5px,#f9b933 86.5px,#e3b943 100.5px,#c5bc54 131.5px,#bfbc57 162px)"></i><i style="top:6px;background:linear-gradient(90deg,#aabe5e 0px,#a6bf60 13.5px,#92c066 23.5px,#76be6c 31.5px,#68be6f 33.5px,#38bc77 36.5px,#12bb7f 38.5px,#02b993 40.5px,#00afb9 44.5px,#00abc0 47.5px,#00b2b3 50.5px,#00b89a 52.5px,#0aba8a 53.5px,#27bc7a 54.5px,#6abe6f 55.5px,#94c066 56.5px,#b8bd59 57.5px,#d4bb4b 58.5px,#f6b935 60.5px,#fbba2c 62.5px,#fcbb29 73.5px,#f8b933 87.5px,#e4b942 99.5px,#c5bc54 132.5px,#bfbc57 162px)"></i><i style="top:7px;background:linear-gradient(90deg,#abbe5e 0px,#a5bf60 14.5px,#8fbf67 24.5px,#70be6e 32.5px,#57bd72 34.5px,#11bb81 38.5px,#01b995 40.5px,#00aeba 44.5px,#00aac1 47.5px,#00b2b4 50.5px,#00b89c 52.5px,#09ba8b 53.5px,#23bb7b 54.5px,#66be6f 55.5px,#93c066 56.5px,#b8bd59 57.5px,#d4bb4b 58.5px,#f6b935 60.5px,#fcbb2b 62.5px,#fcbb28 74.5px,#f9b933 87.5px,#e4b942 100.5px,#c6bc53 131.5px,#bfbc57 162px)"></i><i style="top:8px;background:linear-gradient(90deg,#abbe5e 0px,#a6bf60 13.5px,#92c066 23.5px,#6fbe6e 32.5px,#44bd75 35.5px,#1cbb7c 37.5px,#08ba8c 39.5px,#00b997 40.5px,#00b2b5 43.5px,#00aac1 46.5px,#00abc0 48.5px,#00b2b4 50.5px,#00b79d 52.5px,#07ba8d 53.5px,#1fbb7b 54.5px,#63be70 55.5px,#92c066 56.5px,#b7bd59 57.5px,#d5ba4b 58.5px,#f7b934 60.5px,#fcbb28 63.5px,#fcbb2a 78.5px,#f6b935 89.5px,#e3b943 101.5px,#c6bc53 132.5px,#bfbc57 162px)"></i><i style="top:9px;background:linear-gradient(90deg,#abbe5e 0px,#a6bf60 13.5px,#94c066 22.5px,#73be6d 31.5px,#6ebe6e 32.5px,#41bc76 35.5px,#17bb7c 37.5px,#00b998 40.5px,#00b1b6 43.5px,#00aac2 46.5px,#00aac1 48.5px,#00b1b5 50.5px,#00b79e 52.5px,#06ba8e 53.5px,#1bbb7c 54.5px,#5fbe70 55.5px,#91c066 56.5px,#b7bd59 57.5px,#d5ba4b 58.5px,#f8b934 60.5px,#fdbc27 63.5px,#fcbb29 77.5px,#f8b933 88.5px,#e3b943 102.5px,#c7bc53 131.5px,#bfbc57 162px)"></i><i style="top:10px;background:linear-gradient(90deg,#abbe5e 0px,#a6bf60 13.5px,#8ebf67 24.5px,#72be6d 31.5px,#6bbe6e 32.5px,#4fbd73 34.5px,#14bb7d 37.5px,#00b89a 40.5px,#00b0b7 43.5px,#00a9c3 46.5px,#00aac2 48.5px,#00b1b6 50.5px,#00b79f 52.5px,#05ba8f 53.5px,#17bb7c 54.5px,#5cbd71 55.5px,#90c066 56.5px,#b7bd5a 57.5px,#d6ba4a 58.5px,#f8b933 60.5px,#fdbc26 63.5px,#fcbb29 78.5px,#f7b934 89.5px,#e3b943 102.5px,#c7bc52 131.5px,#bfbc57 162px)"></i><i style="top:11px;background:linear-gradient(90deg,#abbe5e 0px,#a8bf5f 12.5px,#90c066 23.5px,#71be6d 31.5px,#69be6f 32.5px,#3abc77 35.5px,#13bb7f 37.5px,#00b89b 40.5px,#00acbf 44.5px,#00a8c4 47.5px,#00adbd 49.5px,#00b4ad 51.5px,#04b991 53.5px,#14bb7d 54.5px,#59bd72 55.5px,#8fbf67 56.5px,#b7bd5a 57.5px,#d6ba4a 58.5px,#f9b933 60.5px,#fdbc26 63.5px,#fcbb28 78.5px,#f9b933 88.5px,#e4b942 102.5px,#c7bc53 132.5px,#bfbc56 162px)"></i><i style="top:12px;background:linear-gradient(90deg,#abbe5e 0px,#a8bf5f 12.5px,#90c066 23.5px,#70be6e 31.5px,#59bd72 33.5px,#37bc77 35.5px,#12bb80 37.5px,#02b993 39.5px,#00abc0 44.5px,#00a9c4 48.5px,#00b3ae 51.5px,#03b992 53.5px,#13bb7e 54.5px,#55bd72 55.5px,#8ebf67 56.5px,#b7bd5a 57.5px,#d6ba4a 58.5px,#fab932 60.5px,#fdbc25 63.5px,#fdbc27 77.5px,#f8b934 89.5px,#e3b943 103.5px,#c8bc52 131.5px,#bfbc56 162px)"></i><i style="top:13px;background:linear-gradient(90deg,#acbe5e 0px,#a7bf60 13.5px,#90c066 23.5px,#6fbe6e 31.5px,#56bd72 33.5px,#34bc78 35.5px,#1fbb7b 36.5px,#10bb81 37.5px,#01b995 39.5px,#00aeba 43.5px,#00a8c4 45.5px,#00a8c4 48.5px,#00b3af 51.5px,#02b993 53.5px,#12bb80 54.5px,#8ebf67 56.5px,#b6bd5a 57.5px,#d7ba4a 58.5px,#fab932 60.5px,#febd24 63.5px,#fcbb28 79.5px,#f7b935 90.5px,#e2b943 104.5px,#c7bc53 134.5px,#bfbc56 162px)"></i><i style="top:14px;background:linear-gradient(90deg,#acbe5e 0px,#a7bf60 13.5px,#93c066 22.5px,#6ebe6e 31.5px,#44bd75 34.5px,#1bbb7c 36.5px,#08ba8c 38.5px,#00b996 39.5px,#00aebb 43.5px,#00a8c5 45.5px,#00a8c5 48.5px,#00b3b0 51.5px,#01b995 53.5px,#11bb81 54.5px,#8dbf67 56.5px,#b6bd5a 57.5px,#d7ba4a 58.5px,#fab931 60.5px,#febd23 63.5px,#fdbc26 77.5px,#f9b933 89.5px,#e4b942 103.5px,#c9bb52 131.5px,#bfbc56 162px)"></i><i style="top:15px;background:linear-gradient(90deg,#acbe5e 0px,#a7bf60 13.5px,#8fbf67 23.5px,#6dbe6e 31.5px,#41bc76 34.5px,#17bb7c 36.5px,#00b998 39.5px,#00adbc 43.5px,#00a7c6 45.5px,#00a7c6 48.5px,#00b3b1 51.5px,#00b996 53.5px,#10bb82 54.5px,#8cbf67 56.5px,#b6bd5a 57.5px,#d7ba49 58.5px,#ecb93c 59.5px,#fab931 60.5px,#febd22 63.5px,#fdbc26 78.5px,#f8b934 90.5px,#e3b943 104.5px,#c7bc53 135.5px,#bfbc56 162px)"></i><i style="top:16px;background:linear-gradient(90deg,#acbe5e 0px,#a7bf60 13.5px,#8fbf67 23.5px,#71be6d 30.5px,#6abe6f 31.5px,#3ebc76 34.5px,#14bb7d 36.5px,#00b899 39.5px,#00adbd 43.5px,#00a6c7 45.5px,#00a7c7 48.5px,#00b2b2 51.5px,#00b997 53.5px,#0fbb83 54.5px,#49bd74 55.5px,#8bbf67 56.5px,#b6bd5a 57.5px,#d8ba49 58.5px,#edb93c 59.5px,#fab930 60.5px,#febd22 63.5px,#fdbc25 77.5px,#f8b933 90.5px,#e4b942 103.5px,#c8bc52 134.5px,#bfbc56 162px)"></i><i style="top:17px;background:linear-gradient(90deg,#acbe5e 0px,#a7bf60 13.5px,#92c066 22.5px,#71be6d 30.5px,#5bbd71 32.5px,#3bbc76 34.5px,#13bb7e 36.5px,#00b89a 39.5px,#00acbe 43.5px,#00a6c8 45.5px,#00a6c8 48.5px,#00b2b3 51.5px,#00b998 53.5px,#0eba84 54.5px,#47bd75 55.5px,#8bbf68 56.5px,#b6bd5a 57.5px,#d8ba49 58.5px,#edb93c 59.5px,#fbba30 60.5px,#febd21 63.5px,#fdbc25 78.5px,#f9b933 90.5px,#e4b942 104.5px,#c9bb52 133.5px,#bfbc56 162px)"></i><i style="top:18px;background:linear-gradient(90deg,#acbe5e 0px,#a7bf60 13.5px,#92c066 22.5px,#70be6e 30.5px,#58bd72 32.5px,#38bc77 34.5px,#12bb80 36.5px,#03b992 38.5px,#00abbf 43.5px,#00a5c9 45.5px,#00a6c9 48.5px,#00b2b4 51.5px,#00b899 53.5px,#0dba85 54.5px,#44bd75 55.5px,#8abf68 56.5px,#b6bd5a 57.5px,#d9ba49 58.5px,#eeb93b 59.5px,#fbba2f 60.5px,#febd20 63.5px,#fdbc25 79.5px,#f7b934 91.5px,#e1b944 107.5px,#c8bc52 135.5px,#bfbc56 162px)"></i><i style="top:19px;background:linear-gradient(90deg,#acbe5d 0px,#a7bf60 13.5px,#95c065 21.5px,#6fbe6e 30.5px,#47bd75 33.5px,#11bb81 36.5px,#02b994 38.5px,#00afb8 42.5px,#00a6c7 44.5px,#00a5ca 48.5px,#00b2b5 51.5px,#00b89a 53.5px,#0cba86 54.5px,#41bd75 55.5px,#89bf68 56.5px,#b6bd5a 57.5px,#d9ba48 58.5px,#eeb93b 59.5px,#fbba2f 60.5px,#ffbe1f 63.5px,#febd24 78.5px,#f8b934 91.5px,#e1b944 107.5px,#c8bc52 136.5px,#c0bc56 162px)"></i><i style="top:20px;background:linear-gradient(90deg,#acbe5d 0px,#a7bf60 13.5px,#91c066 22.5px,#6ebe6e 30.5px,#44bd75 33.5px,#1ebb7b 35.5px,#10bb82 36.5px,#01b995 38.5px,#00afb9 42.5px,#00a6c8 44.5px,#00a3cc 47.5px,#00a9c3 49.5px,#00b1b5 51.5px,#00b89b 53.5px,#0cba87 54.5px,#3fbc76 55.5px,#89bf68 56.5px,#b6bd5a 57.5px,#d9ba48 58.5px,#efb93a 59.5px,#fbba2e 60.5px,#ffbe1f 63.5px,#febd23 78.5px,#f8b933 91.5px,#e2b943 107.5px,#c8bc52 136.5px,#c0bc56 162px)"></i><i style="top:21px;background:linear-gradient(90deg,#adbe5d 0px,#a9bf5f 12.5px,#91c066 22.5px,#6cbe6e 30.5px,#42bd75 33.5px,#1abb7c 35.5px,#00b997 38.5px,#00b2b4 41.5px,#00a5c9 44.5px,#00a3cd 47.5px,#00a8c4 49.5px,#00b1b6 51.5px,#00b89b 53.5px,#0bba88 54.5px,#3dbc76 55.5px,#88bf68 56.5px,#b6bd5a 57.5px,#daba48 58.5px,#f0b93a 59.5px,#fbba2e 60.5px,#ffbe1e 63.5px,#febd22 77.5px,#f9b933 91.5px,#e2b943 107.5px,#c8bc52 137.5px,#c0bc56 162px)"></i><i style="top:22px;background:linear-gradient(90deg,#adbe5d 0px,#a9bf5f 12.5px,#94c066 21.5px,#71be6d 29.5px,#6abe6f 30.5px,#3fbc76 33.5px,#17bb7c 35.5px,#00b998 38.5px,#00b1b5 41.5px,#00a5ca 44.5px,#00a2ce 47.5px,#00a8c5 49.5px,#00b4ab 52.5px,#00b89c 53.5px,#0aba89 54.5px,#3abc77 55.5px,#88bf68 56.5px,#b6bd5a 57.5px,#daba48 58.5px,#f0b939 59.5px,#fbba2d 60.5px,#ffbe1d 63.5px,#febd21 77.5px,#f8b934 92.5px,#e1b944 108.5px,#c7bc52 139.5px,#c0bc56 162px)"></i><i style="top:23px;background:linear-gradient(90deg,#adbe5d 0px,#a9bf5f 12.5px,#94c066 21.5px,#70be6d 29.5px,#5bbd71 31.5px,#2abc79 34.5px,#14bb7d 35.5px,#00b899 38.5px,#00b1b6 41.5px,#00a4cc 44.5px,#00a3cd 48.5px,#00b0b7 51.5px,#00b79d 53.5px,#09ba8a 54.5px,#38bc77 55.5px,#87bf68 56.5px,#b6bd5a 57.5px,#dbba48 58.5px,#f1b939 59.5px,#fbba2d 60.5px,#ffbf1c 63.5px,#ffbe20 76.5px,#f8b933 92.5px,#e2b944 108.5px,#c8bc52 138.5px,#c0bc56 162px)"></i><i style="top:24px;background:linear-gradient(90deg,#adbe5d 0px,#a9bf5f 12.5px,#90c066 22.5px,#70be6e 29.5px,#58bd72 31.5px,#3abc77 33.5px,#13bb7e 35.5px,#00b89a 38.5px,#00b0b7 41.5px,#00a3cd 44.5px,#00a2ce 48.5px,#00b0b8 51.5px,#00b79e 53.5px,#09ba8b 54.5px,#36bc77 55.5px,#87bf69 56.5px,#b6bd5a 57.5px,#dbba47 58.5px,#f1b939 59.5px,#fbba2d 60.5px,#ffbf1b 63.5px,#ffbe1f 76.5px,#f7b935 93.5px,#e1b944 109.5px,#c9bb51 137.5px,#c0bc56 162px)"></i><i style="top:25px;background:linear-gradient(90deg,#adbe5d 0px,#a9bf5f 12.5px,#90bf67 22.5px,#6fbe6e 29.5px,#48bd74 32.5px,#12bb7f 35.5px,#03b992 37.5px,#00b0b8 41.5px,#00a3ce 44.5px,#00a2cf 48.5px,#00b3ae 52.5px,#00b79f 53.5px,#08ba8c 54.5px,#35bc78 55.5px,#86bf69 56.5px,#b6bd5a 57.5px,#dbba47 58.5px,#f2b938 59.5px,#fbba2c 60.5px,#ffc01a 63.5px,#ffbf1c 74.5px,#f9b933 92.5px,#e1b944 109.5px,#c7bc53 141.5px,#c0bc56 162px)"></i><i style="top:26px;background:linear-gradient(90deg,#adbe5d 0px,#a9bf5f 12.5px,#93c066 21.5px,#6ebe6e 29.5px,#35bc78 33.5px,#11bb80 35.5px,#02b994 37.5px,#00afb9 41.5px,#00a2cf 44.5px,#00a1d0 48.5px,#00b3af 52.5px,#00b7a0 53.5px,#07ba8d 54.5px,#33bc78 55.5px,#86bf69 56.5px,#b6bd5a 57.5px,#dcba47 58.5px,#f2b938 59.5px,#fcbb2c 60.5px,#ffc019 63.5px,#ffbf1d 75.5px,#f8b934 93.5px,#dfba45 111.5px,#c5bc54 145.5px,#c0bc56 162px)"></i><i style="top:27px;background:linear-gradient(90deg,#adbe5d 0px,#a9bf5f 12.5px,#93c066 21.5px,#6cbe6e 29.5px,#43bd75 32.5px,#10bb81 35.5px,#01b995 37.5px,#00afba 41.5px,#00a1d0 44.5px,#00a1d1 48.5px,#00b3b0 52.5px,#00b7a0 53.5px,#07ba8e 54.5px,#32bc78 55.5px,#86bf69 56.5px,#b6bd5a 57.5px,#dcba47 58.5px,#f3b937 59.5px,#fcbb2b 60.5px,#ffc119 63.5px,#ffc01b 74.5px,#f8b934 93.5px,#e0ba45 111.5px,#c7bc53 142.5px,#c0bc56 162px)"></i><i style="top:28px;background:linear-gradient(90deg,#adbe5d 0px,#a9bf5f 12.5px,#93c066 21.5px,#71be6d 28.5px,#6abe6f 29.5px,#30bc78 33.5px,#1cbb7c 34.5px,#08ba8c 36.5px,#00b996 37.5px,#00b2b4 40.5px,#00a1d1 44.5px,#00a0d2 48.5px,#00b3b1 52.5px,#00b6a1 53.5px,#06ba8e 54.5px,#30bc78 55.5px,#85bf69 56.5px,#b6bd5a 57.5px,#ddba46 58.5px,#f3b937 59.5px,#fcbb2b 60.5px,#ffc118 63.5px,#ffc01a 74.5px,#f8b933 93.5px,#e1b944 110.5px,#c6bc53 144.5px,#c0bc56 162px)"></i><i style="top:29px;background:linear-gradient(90deg,#adbe5d 0px,#a9bf5f 12.5px,#93c066 21.5px,#71be6d 28.5px,#5bbd71 30.5px,#2dbc79 33.5px,#19bb7c 34.5px,#00b997 37.5px,#00b2b5 40.5px,#00a0d2 44.5px,#00a0d2 48.5px,#00b3b2 52.5px,#00b6a2 53.5px,#06ba8f 54.5px,#2fbc79 55.5px,#85bf69 56.5px,#b6bd5a 57.5px,#ddba46 58.5px,#f4b936 59.5px,#fcbb2a 60.5px,#ffc217 63.5px,#ffc119 74.5px,#f9b933 93.5px,#e1b944 110.5px,#c5bc54 147.5px,#c0bc56 162px)"></i><i style="top:30px;background:linear-gradient(90deg,#adbe5d 0px,#a9bf5f 12.5px,#92c066 21.5px,#70be6e 28.5px,#4bbd74 31.5px,#2abc79 33.5px,#16bb7d 34.5px,#00b899 37.5px,#00b1b6 40.5px,#009fd2 44.5px,#009fd2 48.5px,#00b2b2 52.5px,#05ba90 54.5px,#2ebc79 55.5px,#85bf69 56.5px,#b6bd5a 57.5px,#ddba46 58.5px,#f5b936 59.5px,#febd22 61.5px,#ffc216 63.5px,#ffc119 75.5px,#f9b932 93.5px,#e1b944 111.5px,#c6bc53 145.5px,#c0bc56 162px)"></i><i style="top:31px;background:linear-gradient(90deg,#adbe5d 0px,#a9bf5f 12.5px,#92c066 21.5px,#6fbe6e 28.5px,#49bd74 31.5px,#14bb7d 34.5px,#00b89a 37.5px,#00adbd 41.5px,#009ed3 44.5px,#009ed3 48.5px,#00b2b3 52.5px,#05b990 54.5px,#2dbc79 55.5px,#85bf69 56.5px,#b6bd5a 57.5px,#deba46 58.5px,#f5b936 59.5px,#febd22 61.5px,#ffc215 63.5px,#ffc118 75.5px,#f8b934 94.5px,#e0ba44 112.5px,#c5bc54 148.5px,#c0bc56 162px)"></i><i style="top:32px;background:linear-gradient(90deg,#aebe5d 0px,#a7bf5f 13.5px,#92c066 21.5px,#6ebe6e 28.5px,#37bc77 32.5px,#13bb7e 34.5px,#00b89b 37.5px,#00acbe 41.5px,#009dd3 44.5px,#009dd3 48.5px,#00b2b4 52.5px,#04b991 54.5px,#2cbc79 55.5px,#85bf69 56.5px,#b6bd5a 57.5px,#deba45 58.5px,#f6b935 59.5px,#febd22 61.5px,#ffc315 63.5px,#ffc217 75.5px,#f8b933 94.5px,#e1b944 111.5px,#c5bc54 148.5px,#c1bc56 162px)"></i><i style="top:33px;background:linear-gradient(90deg,#aebe5d 0px,#a7bf5f 13.5px,#92c066 21.5px,#6dbe6e 28.5px,#34bc78 32.5px,#12bb7f 34.5px,#03b992 36.5px,#00b0b8 40.5px,#009dd3 44.5px,#009ad4 47.5px,#00a3ce 49.5px,#00b2b5 52.5px,#04b991 54.5px,#2cbc79 55.5px,#85bf69 56.5px,#b7bd5a 57.5px,#dfba45 58.5px,#f6b935 59.5px,#febd21 61.5px,#ffc314 63.5px,#ffc216 75.5px,#f9b933 94.5px,#e0b944 112.5px,#c4bc54 150.5px,#c1bc56 162px)"></i><i style="top:34px;background:linear-gradient(90deg,#aebe5d 0px,#a7bf5f 13.5px,#92c066 21.5px,#6bbe6e 28.5px,#32bc78 32.5px,#11bb80 34.5px,#02b994 36.5px,#00afb9 40.5px,#009cd4 44.5px,#0099d4 47.5px,#00a2cf 49.5px,#00b1b5 52.5px,#03b992 54.5px,#2bbc79 55.5px,#85bf69 56.5px,#b7bd5a 57.5px,#dfba45 58.5px,#f7b934 59.5px,#febd21 61.5px,#ffc313 63.5px,#ffc215 75.5px,#f9b933 94.5px,#e1b944 112.5px,#c5bc54 149.5px,#c1bc56 162px)"></i><i style="top:35px;background:linear-gradient(90deg,#aebe5d 0px,#a7bf5f 13.5px,#95c065 20.5px,#72be6d 27.5px,#5cbd71 29.5px,#1dbb7c 33.5px,#09ba8a 35.5px,#01b995 36.5px,#00aeba 40.5px,#00a1d1 43.5px,#0098d5 45.5px,#009bd4 48.5px,#00a7c7 50.5px,#00b1b6 52.5px,#03b992 54.5px,#2abc79 55.5px,#85bf69 56.5px,#b7bd59 57.5px,#e0ba45 58.5px,#f7b934 59.5px,#febd20 61.5px,#ffc412 63.5px,#ffc314 75.5px,#f8b934 95.5px,#e0ba44 113.5px,#c4bc54 151.5px,#c1bc56 162px)"></i><i style="top:36px;background:linear-gradient(90deg,#aebe5d 0px,#a7bf60 13.5px,#91c066 21.5px,#71be6d 27.5px,#4cbd74 30.5px,#1abb7c 33.5px,#08ba8c 35.5px,#00b996 36.5px,#00aebb 40.5px,#00a0d2 43.5px,#0097d5 45.5px,#009ad4 48.5px,#00a6c8 50.5px,#00b1b6 52.5px,#03b993 54.5px,#2abc79 55.5px,#85bf69 56.5px,#b7bd59 57.5px,#e0ba44 58.5px,#f8b933 59.5px,#ffbe20 61.5px,#ffc412 63.5px,#ffc412 74.5px,#fab932 94.5px,#e1b944 112.5px,#c4bc54 151.5px,#c1bc56 162px)"></i><i style="top:37px;background:linear-gradient(90deg,#aebe5d 0px,#a7bf60 13.5px,#91c066 21.5px,#70be6d 27.5px,#3abc77 31.5px,#17bb7c 33.5px,#00b997 36.5px,#00adbc 40.5px,#009fd2 43.5px,#0096d6 45.5px,#0099d5 48.5px,#00a6c8 50.5px,#00b0b7 52.5px,#02b993 54.5px,#29bc79 55.5px,#85bf69 56.5px,#b8bd59 57.5px,#e1b944 58.5px,#f9b933 59.5px,#ffbe1f 61.5px,#ffc411 63.5px,#ffc511 74.5px,#fcbb2a 89.5px,#f5b936 97.5px,#dcba47 118.5px,#c4bc54 152.5px,#c1bc56 162px)"></i><i style="top:38px;background:linear-gradient(90deg,#aebe5d 0px,#a7bf60 13.5px,#91c066 21.5px,#6fbe6e 27.5px,#38bc77 31.5px,#14bb7d 33.5px,#00b898 36.5px,#00adbd 40.5px,#009fd3 43.5px,#0096d6 45.5px,#0098d5 48.5px,#00a0d2 49.5px,#00b0b7 52.5px,#02b994 54.5px,#29bc7a 55.5px,#85bf69 56.5px,#b8bd59 57.5px,#e1b944 58.5px,#f9b932 59.5px,#ffbe1f 61.5px,#ffc510 63.5px,#ffc510 74.5px,#fab932 94.5px,#e0ba44 114.5px,#c4bc54 152.5px,#c1bc56 162px)"></i><i style="top:39px;background:linear-gradient(90deg,#aebe5d 0px,#a7bf60 13.5px,#90c066 21.5px,#6fbe6e 27.5px,#35bc77 31.5px,#13bb7e 33.5px,#00b899 36.5px,#00acbe 40.5px,#009ed3 43.5px,#0095d6 45.5px,#0097d5 48.5px,#00a5ca 50.5px,#00b0b8 52.5px,#02b994 54.5px,#28bc7a 55.5px,#85bf69 56.5px,#b9bd59 57.5px,#e2b943 58.5px,#fab932 59.5px,#ffc215 62.5px,#ffc60e 64.5px,#ffc510 75.5px,#fbba2e 92.5px,#e3b943 111.5px,#c4bc54 152.5px,#c1bc56 162px)"></i><i style="top:40px;background:linear-gradient(90deg,#aebe5d 0px,#a7bf60 13.5px,#90c066 21.5px,#6ebe6e 27.5px,#12bb7f 33.5px,#00b89b 36.5px,#00a7c6 41.5px,#0096d6 44.5px,#0096d6 48.5px,#00a4cb 50.5px,#00b0b8 52.5px,#00b5a9 53.5px,#01b994 54.5px,#28bc7a 55.5px,#86bf69 56.5px,#b9bd59 57.5px,#e2b943 58.5px,#fab931 59.5px,#ffbe1e 61.5px,#ffc50f 63.5px,#ffc70d 73.5px,#fcbb29 89.5px,#f6b935 97.5px,#e0ba45 115.5px,#c5bc54 151.5px,#c1bc56 162px)"></i><i style="top:41px;background:linear-gradient(90deg,#aebe5d 0px,#a7bf60 13.5px,#90c066 21.5px,#6cbe6e 27.5px,#12bb80 33.5px,#03b992 35.5px,#00abc0 40.5px,#009cd4 43.5px,#0093d7 45.5px,#0095d6 48.5px,#00a4cc 50.5px,#00afb9 52.5px,#01b995 54.5px,#28bc7a 55.5px,#86bf69 56.5px,#babd59 57.5px,#e3b943 58.5px,#fab931 59.5px,#ffc314 62.5px,#ffc60d 64.5px,#ffc60d 74.5px,#fab932 95.5px,#e3b943 112.5px,#c4bc54 153.5px,#c1bc56 162px)"></i><i style="top:42px;background:linear-gradient(90deg,#aebe5d 0px,#a7bf60 13.5px,#90c066 21.5px,#73be6d 26.5px,#6abe6f 27.5px,#1cbb7c 32.5px,#0aba89 34.5px,#02b993 35.5px,#00afb9 39.5px,#009bd4 43.5px,#0092d7 45.5px,#0095d6 48.5px,#00a3cd 50.5px,#00afb9 52.5px,#00b4aa 53.5px,#01b995 54.5px,#27bc7a 55.5px,#86bf69 56.5px,#babd58 57.5px,#e3b942 58.5px,#fab930 59.5px,#ffc313 62.5px,#ffc70c 64.5px,#ffc70c 74.5px,#fcbb2a 90.5px,#f5b936 98.5px,#e0ba45 116.5px,#c4bc54 153.5px,#c1bc56 162px)"></i><i style="top:43px;background:linear-gradient(90deg,#aebe5d 0px,#a7bf60 13.5px,#90bf67 21.5px,#72be6d 26.5px,#59bd72 28.5px,#19bb7c 32.5px,#01b994 35.5px,#00aeba 39.5px,#009ad4 43.5px,#0091d8 45.5px,#0094d7 48.5px,#00a3cd 50.5px,#00afb9 52.5px,#00b996 54.5px,#27bc7a 55.5px,#86bf69 56.5px,#bbbd58 57.5px,#e4b942 58.5px,#fbba30 59.5px,#ffc413 62.5px,#ffc70c 64.5px,#ffc80a 73.5px,#fcbb29 90.5px,#f4b937 99.5px,#dfba45 117.5px,#c4bc54 154.5px,#c1bc56 162px)"></i><i style="top:44px;background:linear-gradient(90deg,#aebe5d 0px,#a7bf60 13.5px,#94c066 20.5px,#71be6d 26.5px,#57bd72 28.5px,#16bb7d 32.5px,#09ba8b 34.5px,#00b996 35.5px,#00aebb 39.5px,#0099d5 43.5px,#0090d8 45.5px,#0093d7 48.5px,#00a2ce 50.5px,#00aeba 52.5px,#00b4ab 53.5px,#00b996 54.5px,#27bc7a 55.5px,#87bf69 56.5px,#bbbd58 57.5px,#e5b942 58.5px,#fbba2f 59.5px,#ffc412 62.5px,#ffc80a 65.5px,#ffc80a 74.5px,#fcbb29 90.5px,#f6b935 98.5px,#e1b944 115.5px,#c4bc54 154.5px,#c2bc56 162px)"></i><i style="top:45px;background:linear-gradient(90deg,#aebe5d 0px,#a7bf60 13.5px,#94c066 20.5px,#71be6d 26.5px,#55bd72 28.5px,#14bb7d 32.5px,#00b997 35.5px,#00adbc 39.5px,#00a0d2 42.5px,#0091d8 44.5px,#008fd8 47.5px,#009ad4 49.5px,#00a8c5 51.5px,#00b4ab 53.5px,#00b996 54.5px,#26bc7a 55.5px,#87bf68 56.5px,#bcbd58 57.5px,#e5b942 58.5px,#fbba2f 59.5px,#ffc411 62.5px,#ffc809 65.5px,#ffc809 74.5px,#fbba2c 92.5px,#f3b937 100.5px,#deba46 119.5px,#c4bc54 154.5px,#c2bc56 162px)"></i><i style="top:46px;background:linear-gradient(90deg,#aebe5d 0px,#a7bf60 13.5px,#94c066 20.5px,#70be6e 26.5px,#13bb7e 32.5px,#00b998 35.5px,#00adbd 39.5px,#009fd2 42.5px,#0090d8 44.5px,#008ed9 47.5px,#0099d5 49.5px,#00a7c6 51.5px,#00b4ac 53.5px,#00b997 54.5px,#26bc7a 55.5px,#87bf68 56.5px,#bcbd57 57.5px,#e6b941 58.5px,#fbba2e 59.5px,#ffc511 62.5px,#ffc80a 64.5px,#ffc907 73.5px,#fcbb2a 91.5px,#f5b936 99.5px,#e0ba44 117.5px,#c4bc54 154.5px,#c2bc55 162px)"></i><i style="top:47px;background:linear-gradient(90deg,#aebe5d 0px,#a7bf60 13.5px,#8fbf67 21.5px,#6fbe6e 26.5px,#12bb7f 32.5px,#00b899 35.5px,#00acbe 39.5px,#009ed3 42.5px,#008fd8 44.5px,#008dd9 47.5px,#0098d5 49.5px,#00a1d1 50.5px,#00aebb 52.5px,#00b4ac 53.5px,#00b997 54.5px,#26bc7a 55.5px,#88bf68 56.5px,#bdbd57 57.5px,#e6b941 58.5px,#fbba2e 59.5px,#ffc510 62.5px,#ffc908 65.5px,#ffca06 73.5px,#fcbb28 90.5px,#f7b935 98.5px,#e1b944 116.5px,#c4bc54 155.5px,#c2bc55 162px)"></i><i style="top:48px;background:linear-gradient(90deg,#aebe5d 0px,#a7bf60 13.5px,#8fbf67 21.5px,#6fbe6e 26.5px,#1ebb7b 31.5px,#12bb80 32.5px,#00b89a 35.5px,#00acbe 39.5px,#009dd3 42.5px,#008ed9 44.5px,#008cd9 47.5px,#0097d5 49.5px,#00a0d2 50.5px,#00adbc 52.5px,#00b4ad 53.5px,#00b997 54.5px,#26bc7a 55.5px,#88bf68 56.5px,#bebd57 57.5px,#e7b940 58.5px,#fbba2e 59.5px,#ffc118 61.5px,#ffc80a 63.5px,#ffcb04 71.5px,#ffc411 79.5px,#fab932 96.5px,#e1b944 116.5px,#c4bc54 155.5px,#c2bc55 162px)"></i><i style="top:49px;background:linear-gradient(90deg,#aebe5d 0px,#a7bf60 13.5px,#93c066 20.5px,#6ebe6e 26.5px,#1cbb7c 31.5px,#0bba88 33.5px,#00b89b 35.5px,#00abbf 39.5px,#00a2cf 41.5px,#008ed9 44.5px,#008cda 47.5px,#008ed9 48.5px,#00a0d2 50.5px,#00adbc 52.5px,#00b4ad 53.5px,#00b997 54.5px,#25bc7a 55.5px,#88bf68 56.5px,#bebc57 57.5px,#e7b940 58.5px,#fbba2d 59.5px,#ffc50f 62.5px,#ffca05 66.5px,#ffcb05 73.5px,#fdbc26 89.5px,#f6b935 99.5px,#e1b944 117.5px,#c4bc54 155.5px,#c2bc55 162px)"></i><i style="top:50px;background:linear-gradient(90deg,#aebe5d 0px,#a7bf60 13.5px,#93c066 20.5px,#6dbe6e 26.5px,#19bb7c 31.5px,#03b992 34.5px,#00abc0 39.5px,#00a1d0 41.5px,#008dd9 44.5px,#008bda 47.5px,#008dd9 48.5px,#009fd2 50.5px,#00adbd 52.5px,#00b3ae 53.5px,#00b998 54.5px,#25bc7a 55.5px,#89bf68 56.5px,#bfbc57 57.5px,#e8b93f 58.5px,#fbba2d 59.5px,#ffc60f 62.5px,#ffc907 64.5px,#ffcc03 72.5px,#fcbb29 91.5px,#f6b935 99.5px,#e1b944 117.5px,#c5bc54 154.5px,#c2bc55 162px)"></i><i style="top:51px;background:linear-gradient(90deg,#aebe5d 0px,#a7bf60 13.5px,#93c066 20.5px,#74be6d 25.5px,#6bbe6e 26.5px,#17bb7d 31.5px,#02b993 34.5px,#00afb9 38.5px,#00a1d1 41.5px,#008cda 44.5px,#008ada 47.5px,#008cd9 48.5px,#009ed3 50.5px,#00adbd 52.5px,#00b3ae 53.5px,#00b998 54.5px,#25bc7a 55.5px,#89bf68 56.5px,#bfbc56 57.5px,#e9b93f 58.5px,#fbba2c 59.5px,#ffc60e 62.5px,#ffcb04 66.5px,#ffcc03 73.5px,#fdbc25 89.5px,#f5b936 100.5px,#e1b944 118.5px,#c5bc54 154.5px,#c2bc55 162px)"></i><i style="top:52px;background:linear-gradient(90deg,#aebe5d 0px,#a7bf60 13.5px,#93c066 20.5px,#74be6d 25.5px,#6abe6f 26.5px,#14bb7d 31.5px,#02b994 34.5px,#00aeba 38.5px,#00a0d2 41.5px,#008bda 44.5px,#0089db 47.5px,#0094d6 49.5px,#009dd3 50.5px,#00acbe 52.5px,#00b3af 53.5px,#00b898 54.5px,#24bc7a 55.5px,#89bf68 56.5px,#c0bc56 57.5px,#e9b93f 58.5px,#fcbb2c 59.5px,#ffc60e 62.5px,#ffca06 64.5px,#ffcd01 72.5px,#ffc01a 84.5px,#f8b933 98.5px,#e3b943 116.5px,#c4bc54 156.5px,#c2bc55 162px)"></i><i style="top:53px;background:linear-gradient(90deg,#aebe5d 0px,#a7bf60 13.5px,#92c066 20.5px,#73be6d 25.5px,#68be6f 26.5px,#14bb7e 31.5px,#01b995 34.5px,#00aebb 38.5px,#00a0d2 41.5px,#008ada 44.5px,#0088db 47.5px,#0093d7 49.5px,#00a5ca 51.5px,#00b3af 53.5px,#00b899 54.5px,#24bc7a 55.5px,#8abf68 56.5px,#c0bc56 57.5px,#eab93e 58.5px,#fcbb2b 59.5px,#ffc60d 62.5px,#ffcc03 66.5px,#ffcd01 73.5px,#fcbb28 91.5px,#f7b934 99.5px,#e1b944 118.5px,#c4bc54 156.5px,#c2bc55 162px)"></i><i style="top:54px;background:linear-gradient(90deg,#aebe5d 0px,#a7bf60 13.5px,#92c066 20.5px,#72be6d 25.5px,#67be6f 26.5px,#13bb7e 31.5px,#00b996 34.5px,#00aebb 38.5px,#009fd2 41.5px,#0089db 44.5px,#0087db 47.5px,#008ada 48.5px,#009cd3 50.5px,#00acbe 52.5px,#00b3b0 53.5px,#00b899 54.5px,#24bc7a 55.5px,#8abf68 56.5px,#c1bc56 57.5px,#eab93e 58.5px,#fcbb2b 59.5px,#ffc70d 62.5px,#ffca05 64.5px,#ffcd00 72.5px,#ffc80a 78.5px,#fcbb28 91.5px,#f6b935 100.5px,#e2b943 117.5px,#c4bc54 157.5px,#c3bc55 162px)"></i><i style="top:55px;background:linear-gradient(90deg,#aebe5d 0px,#a7bf60 13.5px,#92c066 20.5px,#72be6d 25.5px,#53bd72 27.5px,#12bb7f 31.5px,#00b997 34.5px,#00adbc 38.5px,#009ed3 41.5px,#0088db 44.5px,#0086dc 47.5px,#0089db 48.5px,#009bd4 50.5px,#00abbf 52.5px,#00b3b0 53.5px,#00b899 54.5px,#23bc7a 55.5px,#8abf68 56.5px,#c1bc56 57.5px,#eab93e 58.5px,#fcbb2b 59.5px,#ffc70c 62.5px,#ffcc01 66.5px,#ffcc02 75.5px,#fdbc26 90.5px,#f6b935 100.5px,#e1b944 119.5px,#c4bc54 157.5px,#c3bc55 162px)"></i><i style="top:56px;background:linear-gradient(90deg,#aebe5d 0px,#a7bf60 13.5px,#92c066 20.5px,#72be6d 25.5px,#52bd73 27.5px,#1ebb7b 30.5px,#12bb80 31.5px,#00b997 34.5px,#00adbd 38.5px,#009dd3 41.5px,#0088db 44.5px,#0086dc 47.5px,#0088db 48.5px,#009bd4 50.5px,#00abbf 52.5px,#00b3b0 53.5px,#00b899 54.5px,#23bb7b 55.5px,#8abf68 56.5px,#c1bc56 57.5px,#ebb93d 58.5px,#fcbb2b 59.5px,#ffc314 61.5px,#ffca07 63.5px,#ffcd00 67.5px,#ffcc02 75.5px,#fdbc25 90.5px,#f5b936 101.5px,#e2b943 118.5px,#c4bc54 157.5px,#c3bc55 162px)"></i><i style="top:57px;background:linear-gradient(90deg,#aebe5d 0px,#a7bf60 13.5px,#92c066 20.5px,#71be6d 25.5px,#51bd73 27.5px,#1cbb7c 30.5px,#11bb80 31.5px,#00b998 34.5px,#00acbd 38.5px,#009dd3 41.5px,#0087db 44.5px,#0085dc 47.5px,#0087db 48.5px,#00a3cd 51.5px,#00b3b1 53.5px,#00b89a 54.5px,#22bb7b 55.5px,#8bbf68 56.5px,#c2bc55 57.5px,#ebb93d 58.5px,#fcbb2a 59.5px,#ffc70c 62.5px,#ffcb04 64.5px,#ffcf00 69.5px,#ffcc03 76.5px,#fcbb29 92.5px,#f6b935 100.5px,#e1b944 120.5px,#c5bc54 156.5px,#c3bc55 162px)"></i><i style="top:58px;background:linear-gradient(90deg,#aebe5d 0px,#a7bf60 13.5px,#92c066 20.5px,#71be6d 25.5px,#1abb7c 30.5px,#00b899 34.5px,#00acbe 38.5px,#009cd3 41.5px,#0086dc 44.5px,#0084dd 47.5px,#008fd8 49.5px,#00a3ce 51.5px,#00b3b1 53.5px,#00b89a 54.5px,#22bb7b 55.5px,#8bbf68 56.5px,#c2bc55 57.5px,#ecb93d 58.5px,#fcbb2a 59.5px,#ffc70b 62.5px,#ffcd00 66.5px,#ffce00 74.5px,#ffc314 83.5px,#fbba2e 95.5px,#e5b942 115.5px,#c5bc54 156.5px,#c3bc55 162px)"></i><i style="top:59px;background:linear-gradient(90deg,#aebe5d 0px,#a8bf5f 12.5px,#96c065 19.5px,#78be6c 24.5px,#70be6d 25.5px,#19bb7c 30.5px,#04b991 33.5px,#00b6a3 35.5px,#00a2cf 40.5px,#0085dc 44.5px,#0083dd 47.5px,#0086dc 48.5px,#00a2ce 51.5px,#00b2b2 53.5px,#00b89a 54.5px,#21bb7b 55.5px,#8bbf68 56.5px,#c2bc55 57.5px,#ecb93d 58.5px,#fcbb2a 59.5px,#ffc70b 62.5px,#ffcd00 65.5px,#ffcf00 73.5px,#ffcb04 77.5px,#fcbb28 92.5px,#f6b935 101.5px,#e2b943 119.5px,#c4bc54 158.5px,#c3bc55 162px)"></i><i style="top:60px;background:linear-gradient(90deg,#aebe5d 0px,#a8bf5f 12.5px,#96c065 19.5px,#78be6c 24.5px,#70be6e 25.5px,#17bb7c 30.5px,#00b89a 34.5px,#00a7c7 39.5px,#009bd4 41.5px,#0085dc 44.5px,#0082dd 47.5px,#0085dc 48.5px,#00a2cf 51.5px,#00b2b2 53.5px,#00b89b 54.5px,#21bb7b 55.5px,#8bbf68 56.5px,#c3bc55 57.5px,#ecb93d 58.5px,#fcbb2a 59.5px,#ffc80b 62.5px,#ffcd00 65.5px,#ffcf00 74.5px,#ffcc03 77.5px,#fdbc24 90.5px,#f5b936 102.5px,#e1b944 121.5px,#c5bc54 157.5px,#c3bc55 162px)"></i><i style="top:61px;background:linear-gradient(90deg,#aebe5d 0px,#a8bf5f 12.5px,#96c065 19.5px,#7fbf6a 23.5px,#6fbe6e 25.5px,#16bb7d 30.5px,#00b89a 34.5px,#00abbf 38.5px,#00a1d0 40.5px,#0084dc 44.5px,#0084dc 48.5px,#00a2cf 51.5px,#00b2b3 53.5px,#00b89b 54.5px,#20bb7b 55.5px,#8bbf68 56.5px,#c3bc55 57.5px,#ecb93c 58.5px,#fcbb2a 59.5px,#ffc413 61.5px,#ffcb05 63.5px,#ffcf00 67.5px,#ffcf00 74.5px,#ffcb05 78.5px,#febd24 90.5px,#f5b936 102.5px,#e1b944 122.5px,#c6bc53 155.5px,#c3bc55 162px)"></i><i style="top:62px;background:linear-gradient(90deg,#aebe5d 0px,#a8bf5f 12.5px,#96c065 19.5px,#7fbf6a 23.5px,#6fbe6e 25.5px,#15bb7d 30.5px,#00b89b 34.5px,#00a6c8 39.5px,#009ad4 41.5px,#0083dd 44.5px,#0081de 47.5px,#0084dd 48.5px,#00a1d0 51.5px,#00b2b3 53.5px,#00b89b 54.5px,#20bb7b 55.5px,#8bbf68 56.5px,#c3bc55 57.5px,#ecb93c 58.5px,#fcbb2a 59.5px,#ffc80a 62.5px,#ffce00 65.5px,#fed000 74.5px,#ffcb04 78.5px,#fcbb2a 93.5px,#f7b935 101.5px,#e3b943 119.5px,#c5bc54 157.5px,#c4bc55 162px)"></i><i style="top:63px;background:linear-gradient(90deg,#afbe5d 0px,#a8bf5f 12.5px,#96c065 19.5px,#77be6c 24.5px,#6fbe6e 25.5px,#14bb7d 30.5px,#00b89b 34.5px,#00abc0 38.5px,#00a1d0 40.5px,#0083dd 44.5px,#0080de 47.5px,#0083dd 48.5px,#00a1d1 51.5px,#00b2b4 53.5px,#00b89c 54.5px,#1fbb7b 55.5px,#8bbf68 56.5px,#c3bc55 57.5px,#ecb93c 58.5px,#fcbb2a 59.5px,#ffc80a 62.5px,#ffcc01 64.5px,#fed100 72.5px,#ffcb03 78.5px,#fdbc27 92.5px,#f7b934 101.5px,#e2b944 122.5px,#c7bc53 154.5px,#c4bc55 162px)"></i><i style="top:64px;background:linear-gradient(90deg,#afbe5d 0px,#a8bf5f 12.5px,#95c065 19.5px,#7ebf6a 23.5px,#6fbe6e 25.5px,#14bb7e 30.5px,#02b993 33.5px,#00abc0 38.5px,#00a1d1 40.5px,#0082dd 44.5px,#0082dd 48.5px,#00a1d1 51.5px,#00b2b4 53.5px,#00b89c 54.5px,#1ebb7b 55.5px,#8bbf68 56.5px,#c3bc55 57.5px,#ecb93c 58.5px,#fcbb2a 59.5px,#ffc412 61.5px,#ffcb04 63.5px,#fed100 68.5px,#ffce00 76.5px,#ffc119 86.5px,#fab931 98.5px,#e2b943 121.5px,#c6bc53 156.5px,#c4bc55 162px)"></i><i style="top:65px;background:linear-gradient(90deg,#afbe5d 0px,#a8bf5f 12.5px,#95c065 19.5px,#7ebf6a 23.5px,#6ebe6e 25.5px,#13bb7e 30.5px,#02b994 33.5px,#00afb9 37.5px,#00a0d1 40.5px,#0082dd 44.5px,#007fde 47.5px,#0082dd 48.5px,#00a0d2 51.5px,#00b2b5 53.5px,#00b79d 54.5px,#1dbb7b 55.5px,#8bbf68 56.5px,#c3bc55 57.5px,#ecb93c 58.5px,#fcbb2a 59.5px,#ffc412 61.5px,#ffcb04 63.5px,#fed100 68.5px,#ffcf00 76.5px,#ffc412 84.5px,#fcbb2b 94.5px,#f3b937 104.5px,#e1b944 124.5px,#c6bc53 156.5px,#c4bc54 162px)"></i><i style="top:66px;background:linear-gradient(90deg,#afbe5d 0px,#a8bf5f 12.5px,#95c065 19.5px,#7ebf6b 23.5px,#6ebe6e 25.5px,#22bb7b 29.5px,#13bb7e 30.5px,#02b994 33.5px,#00afb9 37.5px,#00a0d2 40.5px,#0081dd 44.5px,#0081de 48.5px,#00a0d2 51.5px,#00b1b5 53.5px,#00b79d 54.5px,#1cbb7c 55.5px,#8bbf68 56.5px,#c3bc55 57.5px,#ecb93c 58.5px,#fcbb2a 59.5px,#ffc412 61.5px,#ffcd00 64.5px,#fed300 72.5px,#ffcd01 78.5px,#fdbc24 91.5px,#f5b936 103.5px,#dfba45 126.5px,#c7bc53 155.5px,#c4bc54 162px)"></i><i style="top:67px;background:linear-gradient(90deg,#afbe5d 0px,#a8bf5f 12.5px,#95c065 19.5px,#7ebf6b 23.5px,#6dbe6e 25.5px,#21bb7b 29.5px,#13bb7f 30.5px,#01b994 33.5px,#00afba 37.5px,#00a0d2 40.5px,#0081de 44.5px,#007edf 47.5px,#0080de 48.5px,#009fd2 51.5px,#00b1b5 53.5px,#00b79d 54.5px,#1bbb7c 55.5px,#8abf68 56.5px,#c3bc55 57.5px,#ecb93c 58.5px,#fcbb2a 59.5px,#ffc412 61.5px,#ffcd00 64.5px,#fed300 72.5px,#ffcd00 78.5px,#febd22 90.5px,#f7b934 102.5px,#e3b943 122.5px,#c7bc53 155.5px,#c4bc54 162px)"></i><i style="top:68px;background:linear-gradient(90deg,#afbe5d 0px,#a8bf5f 12.5px,#95c065 19.5px,#7dbf6b 23.5px,#6dbe6e 25.5px,#20bb7b 29.5px,#12bb7f 30.5px,#01b995 33.5px,#00aeba 37.5px,#00a0d2 40.5px,#0080de 44.5px,#007ddf 47.5px,#0080de 48.5px,#009fd2 51.5px,#00b1b6 53.5px,#00b79e 54.5px,#1abb7c 55.5px,#8abf68 56.5px,#c3bc55 57.5px,#ecb93c 58.5px,#fcbb2a 59.5px,#ffc412 61.5px,#ffcb03 63.5px,#fed300 69.5px,#ffcf00 77.5px,#ffc60d 83.5px,#fdbc28 93.5px,#f6b935 103.5px,#e1b944 124.5px,#c6bc53 157.5px,#c5bc54 162px)"></i><i style="top:69px;background:linear-gradient(90deg,#afbe5d 0px,#a8bf5f 12.5px,#95c065 19.5px,#7dbf6b 23.5px,#6cbe6e 25.5px,#1fbb7b 29.5px,#12bb7f 30.5px,#01b995 33.5px,#00aac2 38.5px,#00a0d2 40.5px,#0080de 44.5px,#007ddf 47.5px,#007fde 48.5px,#009ed3 51.5px,#00b1b6 53.5px,#00b79e 54.5px,#19bb7c 55.5px,#8abf68 56.5px,#c3bc55 57.5px,#ecb93c 58.5px,#fcbb2a 59.5px,#ffc412 61.5px,#ffcb03 63.5px,#fed300 69.5px,#ffcf00 77.5px,#ffc50f 84.5px,#fdbc28 93.5px,#f4b937 105.5px,#daba48 133.5px,#c6bc53 158.5px,#c5bc54 162px)"></i><i style="top:70px;background:linear-gradient(90deg,#afbe5d 0px,#a8bf5f 12.5px,#95c065 19.5px,#7dbf6b 23.5px,#6bbe6e 25.5px,#1ebb7b 29.5px,#12bb80 30.5px,#00b996 33.5px,#00b5a7 35.5px,#00aebb 37.5px,#009fd2 40.5px,#007fde 44.5px,#007cdf 47.5px,#007fde 48.5px,#009ed3 51.5px,#00b1b6 53.5px,#00b79f 54.5px,#18bb7c 55.5px,#8abf68 56.5px,#c3bc55 57.5px,#ecb93c 58.5px,#fcbb2a 59.5px,#ffc809 62.5px,#ffcd00 64.5px,#fed400 71.5px,#ffcd01 79.5px,#fdbc25 92.5px,#f5b936 104.5px,#daba48 133.5px,#c6bc53 158.5px,#c5bc54 162px)"></i><i style="top:71px;background:linear-gradient(90deg,#afbe5c 0px,#a8bf5f 12.5px,#95c065 19.5px,#7dbf6b 23.5px,#6bbe6f 25.5px,#1ebb7b 29.5px,#12bb80 30.5px,#00b996 33.5px,#00aebb 37.5px,#009fd2 40.5px,#007fde 44.5px,#007ce0 47.5px,#007edf 48.5px,#009ed3 51.5px,#00b0b7 53.5px,#00b79f 54.5px,#16bb7d 55.5px,#89bf68 56.5px,#c3bc55 57.5px,#ecb93c 58.5px,#fcbb2a 59.5px,#ffc809 62.5px,#ffcd00 64.5px,#fdd500 72.5px,#ffcd00 79.5px,#fdbc25 92.5px,#f7b934 103.5px,#e1b944 125.5px,#c7bc53 157.5px,#c5bc54 162px)"></i><i style="top:72px;background:linear-gradient(90deg,#afbe5c 0px,#a8bf5f 12.5px,#95c065 19.5px,#7dbf6b 23.5px,#6abe6f 25.5px,#1dbb7c 29.5px,#11bb80 30.5px,#00b996 33.5px,#00aebb 37.5px,#009fd2 40.5px,#007fdf 44.5px,#007be0 47.5px,#007edf 48.5px,#009dd3 51.5px,#00b0b7 53.5px,#00b7a0 54.5px,#15bb7d 55.5px,#89bf68 56.5px,#c3bc55 57.5px,#ecb93c 58.5px,#fcbb2a 59.5px,#ffc809 62.5px,#ffce00 64.5px,#fdd500 72.5px,#ffcc02 80.5px,#fdbc25 92.5px,#f6b935 104.5px,#e1b944 126.5px,#c8bc52 155.5px,#c6bc54 162px)"></i><i style="top:73px;background:linear-gradient(90deg,#afbe5c 0px,#a8bf5f 12.5px,#95c065 19.5px,#7dbf6b 23.5px,#6abe6f 25.5px,#1cbb7c 29.5px,#11bb81 30.5px,#00b997 33.5px,#00b5a8 35.5px,#00aebb 37.5px,#009fd3 40.5px,#007edf 44.5px,#007be0 47.5px,#007ddf 48.5px,#009dd3 51.5px,#00b0b7 53.5px,#00b7a0 54.5px,#14bb7d 55.5px,#89bf68 56.5px,#c3bc55 57.5px,#ecb93c 58.5px,#fcbb2a 59.5px,#ffc809 62.5px,#ffce00 64.5px,#fdd500 71.5px,#ffcc01 80.5px,#fdbc24 92.5px,#f6b935 104.5px,#deba46 130.5px,#c8bc52 156.5px,#c6bc53 162px)"></i><i style="top:74px;background:linear-gradient(90deg,#afbe5c 0px,#a8bf5f 12.5px,#95c065 19.5px,#7cbf6b 23.5px,#69be6f 25.5px,#1bbb7c 29.5px,#0cba87 31.5px,#00b997 33.5px,#00aebb 37.5px,#009ed3 40.5px,#007edf 44.5px,#007ae0 47.5px,#007ddf 48.5px,#009cd3 51.5px,#00b0b7 53.5px,#00b7a1 54.5px,#13bb7e 55.5px,#88bf68 56.5px,#c2bc55 57.5px,#ecb93c 58.5px,#fcbb2a 59.5px,#ffc809 62.5px,#ffce00 64.5px,#fdd600 72.5px,#ffcb03 81.5px,#febd24 92.5px,#f5b936 105.5px,#daba48 134.5px,#c7bc52 158.5px,#c6bc53 162px)"></i><i style="top:75px;background:linear-gradient(90deg,#afbe5c 0px,#a8bf5f 12.5px,#95c065 19.5px,#7cbf6b 23.5px,#69be6f 25.5px,#1bbb7c 29.5px,#0bba88 31.5px,#00b997 33.5px,#00adbc 37.5px,#009ed3 40.5px,#007ddf 44.5px,#007ae0 47.5px,#007cdf 48.5px,#009cd4 51.5px,#00b0b8 53.5px,#00b6a1 54.5px,#13bb7e 55.5px,#88bf68 56.5px,#c2bc55 57.5px,#ecb93c 58.5px,#fcbb2a 59.5px,#ffc809 62.5px,#ffce00 64.5px,#fdd600 71.5px,#ffcd00 80.5px,#fdbc26 93.5px,#f6b935 105.5px,#dcba47 132.5px,#c8bc52 157.5px,#c6bc53 162px)"></i><i style="top:76px;background:linear-gradient(90deg,#afbe5c 0px,#a8bf5f 12.5px,#95c065 19.5px,#7cbf6b 23.5px,#68be6f 25.5px,#1abb7c 29.5px,#00b997 33.5px,#00adbc 37.5px,#009ed3 40.5px,#007ddf 44.5px,#0079e1 47.5px,#007ce0 48.5px,#009cd4 51.5px,#00b0b8 53.5px,#00b6a2 54.5px,#12bb7f 55.5px,#88bf68 56.5px,#c2bc55 57.5px,#ecb93c 58.5px,#fcbb2a 59.5px,#ffc809 62.5px,#ffce00 64.5px,#fdd700 71.5px,#ffcc02 81.5px,#febd23 92.5px,#f7b934 104.5px,#dfba45 129.5px,#c8bc52 157.5px,#c7bc53 162px)"></i><i style="top:77px;background:linear-gradient(90deg,#b0be5c 0px,#a8bf5f 12.5px,#95c065 19.5px,#74be6d 24.5px,#68be6f 25.5px,#19bb7c 29.5px,#05ba90 32.5px,#00b79f 34.5px,#00b2b5 36.5px,#009ed3 40.5px,#007ddf 44.5px,#0079e1 46.5px,#007be0 48.5px,#009bd4 51.5px,#00afb8 53.5px,#00b6a2 54.5px,#12bb80 55.5px,#87bf68 56.5px,#c2bc55 57.5px,#ecb93c 58.5px,#fcbb2a 59.5px,#ffc809 62.5px,#ffce00 64.5px,#fdd700 71.5px,#ffcc01 81.5px,#fdbc25 93.5px,#f6b935 105.5px,#ddba46 131.5px,#c8bc52 158.5px,#c7bc53 162px)"></i><i style="top:78px;background:linear-gradient(90deg,#b0be5c 0px,#a8bf5f 12.5px,#94c065 19.5px,#7cbf6b 23.5px,#67be6f 25.5px,#18bb7c 29.5px,#00b998 33.5px,#00adbc 37.5px,#009ed3 40.5px,#007cdf 44.5px,#0078e1 47.5px,#007be0 48.5px,#009bd4 51.5px,#00afb9 53.5px,#00b6a3 54.5px,#11bb80 55.5px,#87bf68 56.5px,#c2bc55 57.5px,#ecb93c 58.5px,#fcbb2a 59.5px,#ffc809 62.5px,#ffce00 64.5px,#fdd700 71.5px,#ffcd00 81.5px,#fdbc25 93.5px,#f7b935 105.5px,#d3bb4c 142.5px,#c7bc53 162px)"></i><i style="top:79px;background:linear-gradient(90deg,#b0be5c 0px,#a8bf5f 12.5px,#94c065 19.5px,#7cbf6b 23.5px,#67be6f 25.5px,#18bb7c 29.5px,#00b998 33.5px,#00adbc 37.5px,#009dd3 40.5px,#007ce0 44.5px,#0078e1 46.5px,#007ae0 48.5px,#009ad4 51.5px,#00afb9 53.5px,#00b6a3 54.5px,#11bb81 55.5px,#86bf69 56.5px,#c2bc55 57.5px,#ecb93c 58.5px,#fcbb2a 59.5px,#ffc909 62.5px,#ffce00 64.5px,#fdd800 71.5px,#ffcc02 82.5px,#fdbc25 93.5px,#f4b937 108.5px,#cfbb4e 147.5px,#c7bc52 162px)"></i><i style="top:80px;background:linear-gradient(90deg,#b0be5c 0px,#a8bf5f 12.5px,#94c065 19.5px,#7cbf6b 23.5px,#67be6f 25.5px,#17bb7c 29.5px,#00b898 33.5px,#00adbd 37.5px,#009dd3 40.5px,#007be0 44.5px,#0077e1 47.5px,#007ae0 48.5px,#009ad4 51.5px,#00afb9 53.5px,#00b6a4 54.5px,#10bb82 55.5px,#86bf69 56.5px,#c2bc55 57.5px,#ecb93c 58.5px,#fcbb2a 59.5px,#ffc909 62.5px,#ffce00 64.5px,#fdd800 71.5px,#ffcc02 82.5px,#fdbc24 93.5px,#f6b935 106.5px,#d5ba4b 140.5px,#c8bc52 162px)"></i><i style="top:81px;background:linear-gradient(90deg,#b0be5c 0px,#a8bf5f 12.5px,#90bf67 20.5px,#73be6d 24.5px,#66be6f 25.5px,#16bb7d 29.5px,#00b898 33.5px,#00adbd 37.5px,#009dd3 40.5px,#007be0 44.5px,#0076e1 47.5px,#0079e1 48.5px,#0099d4 51.5px,#00afba 53.5px,#00b6a4 54.5px,#10bb82 55.5px,#86bf69 56.5px,#c2bc55 57.5px,#ecb93c 58.5px,#fcbb2a 59.5px,#ffc909 62.5px,#ffce00 64.5px,#fdd800 70.5px,#fed100 79.5px,#ffcb03 83.5px,#fdbc24 93.5px,#f6b935 106.5px,#d2bb4d 144.5px,#c8bc52 162px)"></i><i style="top:82px;background:linear-gradient(90deg,#b0be5c 0px,#a8bf5f 12.5px,#90bf67 20.5px,#73be6d 24.5px,#66be6f 25.5px,#16bb7d 29.5px,#00b899 33.5px,#00adbd 37.5px,#009dd3 40.5px,#007be0 44.5px,#0076e1 47.5px,#0079e1 48.5px,#0099d5 51.5px,#00aeba 53.5px,#00b6a5 54.5px,#0fbb83 55.5px,#85bf69 56.5px,#c2bc56 57.5px,#ecb93c 58.5px,#fcbb2a 59.5px,#ffc909 62.5px,#ffcf00 64.5px,#fdd900 71.5px,#ffcd00 82.5px,#febd24 93.5px,#f6b935 107.5px,#d8ba49 137.5px,#c8bc52 162px)"></i><i style="top:83px;background:linear-gradient(90deg,#b0be5c 0px,#a8bf5f 12.5px,#94c066 19.5px,#7bbf6b 23.5px,#73be6d 24.5px,#65be6f 25.5px,#15bb7d 29.5px,#00b899 33.5px,#00adbd 37.5px,#009dd3 40.5px,#007ae0 44.5px,#0075e1 47.5px,#0078e1 48.5px,#0099d5 51.5px,#00aeba 53.5px,#00b5a6 54.5px,#0fba84 55.5px,#85bf69 56.5px,#c1bc56 57.5px,#ecb93c 58.5px,#fcbb2a 59.5px,#ffc909 62.5px,#ffcf00 64.5px,#fdd900 71.5px,#ffcc02 83.5px,#febd21 92.5px,#fab930 102.5px,#dfba45 130.5px,#c9bb51 159.5px,#c9bc52 162px)"></i><i style="top:84px;background:linear-gradient(90deg,#b0be5c 0px,#a8bf5f 12.5px,#94c066 19.5px,#7bbf6b 23.5px,#73be6d 24.5px,#65be70 25.5px,#15bb7d 29.5px,#00b899 33.5px,#00acbd 37.5px,#009dd3 40.5px,#007ae0 44.5px,#0074e1 47.5px,#0081de 49.5px,#0098d5 51.5px,#00a4cb 52.5px,#00b5a6 54.5px,#0eba85 55.5px,#84bf69 56.5px,#c1bc56 57.5px,#ecb93c 58.5px,#fcbb2a 59.5px,#ffc909 62.5px,#ffcf00 64.5px,#fdd900 71.5px,#ffcc01 83.5px,#febd23 93.5px,#f8b934 106.5px,#dcba47 134.5px,#cabb51 158.5px,#c9bb52 162px)"></i><i style="top:85px;background:linear-gradient(90deg,#b0be5c 0px,#a8bf5f 12.5px,#94c066 19.5px,#7bbf6b 23.5px,#73be6d 24.5px,#64be70 25.5px,#14bb7d 29.5px,#00b899 33.5px,#00acbe 37.5px,#009cd3 40.5px,#007ae0 44.5px,#0074e1 46.5px,#0077e1 48.5px,#0098d5 51.5px,#00a4cb 52.5px,#00b5a7 54.5px,#0dba85 55.5px,#84bf69 56.5px,#c1bc56 57.5px,#ecb93c 58.5px,#fcbb2a 59.5px,#ffc909 62.5px,#ffcf00 64.5px,#fcda00 71.5px,#ffcd00 83.5px,#febd23 93.5px,#f8b934 106.5px,#d4bb4c 143.5px,#c9bb51 162px)"></i><i style="top:86px;background:linear-gradient(90deg,#b0be5c 0px,#a8bf5f 12.5px,#94c066 19.5px,#7bbf6b 23.5px,#64be70 25.5px,#14bb7d 29.5px,#00b899 33.5px,#00acbe 37.5px,#009cd3 40.5px,#0079e1 44.5px,#0073e0 47.5px,#0076e1 48.5px,#0097d5 51.5px,#00adbc 53.5px,#00b5a7 54.5px,#0dba86 55.5px,#83bf69 56.5px,#c1bc56 57.5px,#ecb93c 58.5px,#fcbb2a 59.5px,#ffc909 62.5px,#ffcf00 64.5px,#fcda00 70.5px,#fed300 79.5px,#ffcc03 84.5px,#febd23 93.5px,#f7b934 107.5px,#daba48 136.5px,#cabb51 162px)"></i><i style="top:87px;background:linear-gradient(90deg,#b0be5c 0px,#a8bf5f 12.5px,#94c066 19.5px,#7abf6b 23.5px,#72be6d 24.5px,#63be70 25.5px,#25bc7a 28.5px,#14bb7e 29.5px,#00b89a 33.5px,#00acbe 37.5px,#009cd3 40.5px,#0079e1 44.5px,#0073e0 46.5px,#0076e1 48.5px,#0097d5 51.5px,#00a4cc 52.5px,#00b5a8 54.5px,#0cba87 55.5px,#83bf69 56.5px,#c1bc56 57.5px,#ecb93c 58.5px,#fcbb2a 59.5px,#ffc908 62.5px,#ffcc01 63.5px,#fcda00 70.5px,#fed200 80.5px,#ffcc02 84.5px,#febd22 93.5px,#fab930 103.5px,#deba46 132.5px,#cbbb50 158.5px,#cabb51 162px)"></i><i style="top:88px;background:linear-gradient(90deg,#b0be5c 0px,#a8bf5f 12.5px,#94c066 19.5px,#7abf6b 23.5px,#72be6d 24.5px,#63be70 25.5px,#13bb7e 29.5px,#00b89a 33.5px,#00acbe 37.5px,#009cd4 40.5px,#0079e1 44.5px,#0072e0 46.5px,#0075e1 48.5px,#0096d6 51.5px,#00a3cc 52.5px,#00b5a9 54.5px,#0bba88 55.5px,#82bf6a 56.5px,#c1bc56 57.5px,#ecb93c 58.5px,#fcbb2a 59.5px,#ffc908 62.5px,#ffcc01 63.5px,#fcdb00 70.5px,#ffce00 83.5px,#ffbf1c 91.5px,#fcbb2c 99.5px,#f3b937 111.5px,#d3bb4c 144.5px,#cabb51 162px)"></i><i style="top:89px;background:linear-gradient(90deg,#b0be5c 0px,#a8bf5f 12.5px,#94c066 19.5px,#7abf6b 23.5px,#72be6d 24.5px,#4dbd73 26.5px,#13bb7e 29.5px,#00b89a 33.5px,#00acbe 37.5px,#009cd4 40.5px,#0078e1 44.5px,#0072e0 46.5px,#0074e1 48.5px,#0096d6 51.5px,#00a3cd 52.5px,#00b4a9 54.5px,#0bba88 55.5px,#82bf6a 56.5px,#c1bc56 57.5px,#ecb93c 58.5px,#fcbb2a 59.5px,#ffc908 62.5px,#ffcc01 63.5px,#fcdb00 70.5px,#fed400 79.5px,#ffcd01 84.5px,#febd22 93.5px,#f9b933 106.5px,#d9ba49 138.5px,#cabb51 162px)"></i><i style="top:90px;background:linear-gradient(90deg,#b1be5c 0px,#a8bf5f 12.5px,#94c066 19.5px,#7abf6b 23.5px,#72be6d 24.5px,#62be70 25.5px,#23bc7a 28.5px,#13bb7e 29.5px,#00b89a 33.5px,#00acbe 37.5px,#009bd4 40.5px,#0078e1 44.5px,#0071e0 46.5px,#0074e0 48.5px,#0095d6 51.5px,#00a3cd 52.5px,#00b4aa 54.5px,#0aba89 55.5px,#81bf6a 56.5px,#c0bc56 57.5px,#ecb93c 58.5px,#fcbb2a 59.5px,#ffc908 62.5px,#ffcd01 63.5px,#fcdb00 70.5px,#fed300 80.5px,#ffcb03 85.5px,#febd21 93.5px,#fab932 105.5px,#daba48 137.5px,#cbbb51 162px)"></i><i style="top:91px;background:linear-gradient(90deg,#b1be5c 0px,#a8bf5f 12.5px,#93c066 19.5px,#7abf6b 23.5px,#71be6d 24.5px,#4cbd74 26.5px,#23bb7b 28.5px,#13bb7e 29.5px,#02b993 32.5px,#00b4ad 35.5px,#00a2cf 39.5px,#0081de 43.5px,#0072e0 45.5px,#006fe0 47.5px,#0073e0 48.5px,#0095d6 51.5px,#00a3ce 52.5px,#00b4ab 54.5px,#0aba8a 55.5px,#80bf6a 56.5px,#c0bc56 57.5px,#ecb93c 58.5px,#fcbb2a 59.5px,#ffc908 62.5px,#ffcd01 63.5px,#fcdc00 70.5px,#fdd500 79.5px,#ffcc03 85.5px,#febd21 93.5px,#fbba2f 103.5px,#deba46 133.5px,#ccbb50 158.5px,#cbbb50 162px)"></i><i style="top:92px;background:linear-gradient(90deg,#b1be5c 0px,#a8bf5f 12.5px,#93c066 19.5px,#7abf6b 23.5px,#71be6d 24.5px,#61be70 25.5px,#22bb7b 28.5px,#13bb7f 29.5px,#02b993 32.5px,#00b0b7 36.5px,#009bd4 40.5px,#0077e1 44.5px,#006fe0 46.5px,#0072e0 48.5px,#0094d6 51.5px,#00a2ce 52.5px,#00b4ac 54.5px,#09ba8b 55.5px,#80bf6a 56.5px,#c0bc56 57.5px,#ecb93c 58.5px,#fcbb2a 59.5px,#ffc908 62.5px,#ffcd00 63.5px,#fcdc00 70.5px,#fed400 80.5px,#ffcc02 85.5px,#febd23 94.5px,#f6b935 110.5px,#d8ba49 139.5px,#cbbb50 162px)"></i><i style="top:93px;background:linear-gradient(90deg,#b1be5c 0px,#a8bf5f 12.5px,#93c066 19.5px,#79bf6b 23.5px,#71be6d 24.5px,#4abd74 26.5px,#21bb7b 28.5px,#12bb7f 29.5px,#00b89b 33.5px,#00abbf 37.5px,#009bd4 40.5px,#0076e1 44.5px,#006fe0 46.5px,#0071e0 48.5px,#0087dc 50.5px,#00a2cf 52.5px,#00b4ac 54.5px,#08ba8c 55.5px,#7fbf6a 56.5px,#c0bc56 57.5px,#ecb93c 58.5px,#fcbb2a 59.5px,#ffc908 62.5px,#ffcd00 63.5px,#fcdd00 70.5px,#fed000 83.5px,#ffca05 86.5px,#febd23 94.5px,#f5b936 111.5px,#d7ba4a 141.5px,#ccbb50 162px)"></i><i style="top:94px;background:linear-gradient(90deg,#b1be5c 0px,#a8bf5f 12.5px,#93c066 19.5px,#79be6c 23.5px,#71be6d 24.5px,#20bb7b 28.5px,#12bb7f 29.5px,#00b89b 33.5px,#00abbf 37.5px,#009ad4 40.5px,#0075e1 44.5px,#006de0 47.5px,#0070e0 48.5px,#0086dc 50.5px,#00a2cf 52.5px,#00b4ad 54.5px,#08ba8c 55.5px,#7fbf6a 56.5px,#c0bc56 57.5px,#ecb93d 58.5px,#fcbb2a 59.5px,#ffc908 62.5px,#ffcd00 63.5px,#fcdd00 70.5px,#fdd600 79.5px,#ffcd01 85.5px,#febd20 93.5px,#fab931 105.5px,#dcba47 135.5px,#ccbb50 162px)"></i><i style="top:95px;background:linear-gradient(90deg,#b1be5c 0px,#a8bf5f 12.5px,#93c066 19.5px,#79be6c 23.5px,#70be6d 24.5px,#49bd74 26.5px,#20bb7b 28.5px,#12bb80 29.5px,#00b89b 33.5px,#00abbf 37.5px,#00a1d0 39.5px,#007fde 43.5px,#006fe0 45.5px,#006ce0 47.5px,#0070e0 48.5px,#0085dc 50.5px,#00a1d0 52.5px,#00b3ae 54.5px,#07ba8d 55.5px,#7ebf6a 56.5px,#c0bc56 57.5px,#ecb93d 58.5px,#fcbb2a 59.5px,#ffc907 62.5px,#ffcd00 63.5px,#fbde00 70.5px,#fed100 83.5px,#ffcd00 85.5px,#ffbe20 93.5px,#fbba2f 103.5px,#f0b93a 116.5px,#d2bb4c 148.5px,#ccbb50 162px)"></i><i style="top:96px;background:linear-gradient(90deg,#b1be5c 0px,#a8bf5f 12.5px,#93c066 19.5px,#79be6c 23.5px,#70be6e 24.5px,#1fbb7b 28.5px,#12bb80 29.5px,#01b994 32.5px,#00b3ae 35.5px,#00a1d0 39.5px,#007fde 43.5px,#006ee0 45.5px,#006bdf 47.5px,#006fe0 48.5px,#0085dc 50.5px,#00a1d0 52.5px,#00b3af 54.5px,#06ba8e 55.5px,#7ebf6b 56.5px,#bfbc56 57.5px,#ecb93d 58.5px,#fcbb2a 59.5px,#ffc907 62.5px,#ffcd00 63.5px,#fbdf00 70.5px,#fed100 83.5px,#ffcb03 86.5px,#febd22 94.5px,#f7b934 110.5px,#deba46 134.5px,#ccbb50 162px)"></i><i style="top:97px;background:linear-gradient(90deg,#b1be5c 0px,#a7bf5f 12.5px,#97c065 18.5px,#81bf6a 22.5px,#70be6e 24.5px,#1ebb7b 28.5px,#12bb80 29.5px,#01b994 32.5px,#00b0b8 36.5px,#00a1d0 39.5px,#007edf 43.5px,#006de0 45.5px,#006bdf 47.5px,#006ee0 48.5px,#0084dd 50.5px,#00a1d1 52.5px,#00b3af 54.5px,#06ba8f 55.5px,#7dbf6b 56.5px,#bfbc56 57.5px,#ecb93d 58.5px,#fcbb2a 59.5px,#ffca07 62.5px,#ffce00 63.5px,#fbdf00 70.5px,#fcda00 77.5px,#ffcc02 86.5px,#febd22 94.5px,#f7b934 110.5px,#dcba47 136.5px,#cdbb50 162px)"></i><i style="top:98px;background:linear-gradient(90deg,#b1be5c 0px,#a7bf5f 12.5px,#93c066 19.5px,#78be6c 23.5px,#70be6e 24.5px,#1dbb7b 28.5px,#11bb80 29.5px,#01b995 32.5px,#00b0b8 36.5px,#00a1d1 39.5px,#007edf 43.5px,#006de0 45.5px,#006adf 47.5px,#006de0 48.5px,#0083dd 50.5px,#00a0d2 52.5px,#00b3b0 54.5px,#05b990 55.5px,#7cbf6b 56.5px,#bfbc57 57.5px,#ecb93c 58.5px,#fcbb2a 59.5px,#ffca06 62.5px,#ffce00 63.5px,#fbe000 70.5px,#fed200 83.5px,#ffcc02 86.5px,#ffbe1f 93.5px,#fbba30 105.5px,#dcba47 136.5px,#cdbb4f 162px)"></i><i style="top:99px;background:linear-gradient(90deg,#b1be5c 0px,#a7bf5f 12.5px,#92c066 19.5px,#78be6c 23.5px,#6fbe6e 24.5px,#1cbb7c 28.5px,#11bb81 29.5px,#01b995 32.5px,#00afb8 36.5px,#00a1d1 39.5px,#007ddf 43.5px,#006cdf 45.5px,#0069df 47.5px,#006cdf 48.5px,#0078e1 49.5px,#0090d8 51.5px,#00a0d2 52.5px,#00b3b1 54.5px,#04b991 55.5px,#7bbf6b 56.5px,#bebc57 57.5px,#ecb93c 58.5px,#fcbb29 59.5px,#ffca06 62.5px,#ffce00 63.5px,#fbe100 70.5px,#fdd500 81.5px,#ffcc01 86.5px,#febd21 94.5px,#fab932 108.5px,#dcba47 136.5px,#cdbb4f 162px)"></i><i style="top:100px;background:linear-gradient(90deg,#b1be5c 0px,#a7bf5f 12.5px,#92c066 19.5px,#78be6c 23.5px,#6fbe6e 24.5px,#1bbb7c 28.5px,#0cba87 30.5px,#01b995 32.5px,#00afb8 36.5px,#00a0d1 39.5px,#007ddf 43.5px,#006bdf 45.5px,#0068df 47.5px,#006bdf 48.5px,#0077e1 49.5px,#008fd8 51.5px,#009fd2 52.5px,#00b2b2 54.5px,#03b992 55.5px,#7bbf6b 56.5px,#bebd57 57.5px,#ecb93c 58.5px,#fcbb29 59.5px,#ffca05 62.5px,#fed200 64.5px,#fae100 70.5px,#fcdc00 76.5px,#ffcd00 86.5px,#febd21 94.5px,#f8b933 110.5px,#dfba45 133.5px,#cdbb4f 162px)"></i><i style="top:101px;background:linear-gradient(90deg,#b1be5c 0px,#a7bf5f 12.5px,#92c066 19.5px,#77be6c 23.5px,#6fbe6e 24.5px,#1abb7c 28.5px,#0bba88 30.5px,#01b995 32.5px,#00b3af 35.5px,#00a0d2 39.5px,#007cdf 43.5px,#006adf 45.5px,#0067df 47.5px,#006adf 48.5px,#0081de 50.5px,#009ed3 52.5px,#00b2b3 54.5px,#03b993 55.5px,#7abf6b 56.5px,#bdbd57 57.5px,#ecb93c 58.5px,#fcbb29 59.5px,#ffcb04 62.5px,#fed200 64.5px,#fae200 70.5px,#fdd600 81.5px,#ffcd00 86.5px,#febd21 94.5px,#f6b935 112.5px,#dfba45 133.5px,#cebb4f 162px)"></i><i style="top:102px;background:linear-gradient(90deg,#b1be5c 0px,#a7bf5f 12.5px,#92c066 19.5px,#77be6c 23.5px,#6ebe6e 24.5px,#19bb7c 28.5px,#0bba88 30.5px,#00b996 32.5px,#00b6a4 34.5px,#00a5c9 38.5px,#00a0d2 39.5px,#007ce0 43.5px,#0070e0 44.5px,#0067df 46.5px,#0069df 48.5px,#0080de 50.5px,#009ed3 52.5px,#00b2b4 54.5px,#02b994 55.5px,#79be6c 56.5px,#bdbd57 57.5px,#ecb93c 58.5px,#fcbb29 59.5px,#ffcb04 62.5px,#fed300 64.5px,#fae300 70.5px,#fdd900 79.5px,#ffcd00 86.5px,#febd20 94.5px,#fbba30 106.5px,#deba46 135.5px,#cebb4f 162px)"></i><i style="top:103px;background:linear-gradient(90deg,#b1be5c 0px,#a7bf5f 12.5px,#92c066 19.5px,#77be6c 23.5px,#6dbe6e 24.5px,#18bb7c 28.5px,#00b996 32.5px,#00b3af 35.5px,#00a0d2 39.5px,#007be0 43.5px,#0069df 45.5px,#0065df 47.5px,#0068df 48.5px,#007fde 50.5px,#009dd3 52.5px,#00b2b5 54.5px,#01b995 55.5px,#78be6c 56.5px,#bcbd57 57.5px,#ecb93c 58.5px,#fcbb29 59.5px,#ffcc03 62.5px,#fbdf00 68.5px,#fae300 72.5px,#ffce00 86.5px,#ffbe20 94.5px,#fab931 108.5px,#deba46 135.5px,#cebb4f 162px)"></i><i style="top:104px;background:linear-gradient(90deg,#b1be5c 0px,#a7bf5f 12.5px,#96c065 18.5px,#7ebf6a 22.5px,#6cbe6e 24.5px,#17bb7d 28.5px,#00b996 32.5px,#00afb9 36.5px,#009fd2 39.5px,#007be0 43.5px,#0068df 45.5px,#0064de 47.5px,#0067df 48.5px,#007fdf 50.5px,#009cd3 52.5px,#00b1b5 54.5px,#00b996 55.5px,#77be6c 56.5px,#bcbd58 57.5px,#ecb93c 58.5px,#fcbb28 59.5px,#ffcc02 62.5px,#f9e400 70.5px,#fcdd00 77.5px,#ffcc02 87.5px,#ffbe20 94.5px,#f9b933 110.5px,#deba46 135.5px,#cebb4f 162px)"></i><i style="top:105px;background:linear-gradient(90deg,#b1be5c 0px,#a7bf5f 12.5px,#95c065 18.5px,#7ebf6a 22.5px,#6bbe6e 24.5px,#16bb7d 28.5px,#00b996 32.5px,#00afb9 36.5px,#009fd2 39.5px,#007ae0 43.5px,#0067df 45.5px,#0063de 47.5px,#0066df 48.5px,#007edf 50.5px,#009bd4 52.5px,#00b1b6 54.5px,#00b997 55.5px,#76be6c 56.5px,#bbbd58 57.5px,#ecb93c 58.5px,#fcbb28 59.5px,#ffcc01 62.5px,#f9e500 70.5px,#fcdc00 78.5px,#ffcc02 87.5px,#febd22 95.5px,#f6b935 113.5px,#dcba47 137.5px,#cfbb4e 162px)"></i><i style="top:106px;background:linear-gradient(90deg,#b1be5c 0px,#a7bf5f 12.5px,#95c065 18.5px,#7ebf6b 22.5px,#6abe6f 24.5px,#15bb7d 28.5px,#00b996 32.5px,#00afb9 36.5px,#009fd2 39.5px,#007ae0 43.5px,#0067df 45.5px,#0062de 47.5px,#0065df 48.5px,#007ddf 50.5px,#009bd4 52.5px,#00b0b7 54.5px,#00b998 55.5px,#74be6d 56.5px,#bbbd58 57.5px,#ecb93c 58.5px,#fdbc28 59.5px,#ffcd00 62.5px,#f9e600 70.5px,#fbe000 76.5px,#ffcc01 87.5px,#ffbe1f 94.5px,#fbba30 107.5px,#dfba45 134.5px,#cfbb4e 162px)"></i><i style="top:107px;background:linear-gradient(90deg,#b1be5c 0px,#a7bf5f 12.5px,#91c066 19.5px,#75be6c 23.5px,#69be6f 24.5px,#14bb7d 28.5px,#00b997 32.5px,#00b5a5 34.5px,#00a5ca 38.5px,#009ed3 39.5px,#0079e0 43.5px,#0066df 45.5px,#0061de 47.5px,#0064de 48.5px,#007cdf 50.5px,#009ad4 52.5px,#00b0b7 54.5px,#00b898 55.5px,#73be6d 56.5px,#babd58 57.5px,#edb93c 58.5px,#fdbc28 59.5px,#ffcd00 62.5px,#f9e500 69.5px,#f9e400 74.5px,#ffcd00 87.5px,#febd21 95.5px,#f8b934 112.5px,#dfba45 134.5px,#cfbb4e 162px)"></i><i style="top:108px;background:linear-gradient(90deg,#b1be5c 0px,#a7bf5f 12.5px,#95c065 18.5px,#7dbf6b 22.5px,#68be6f 24.5px,#14bb7e 28.5px,#00b997 32.5px,#00b5a5 34.5px,#00a4cb 38.5px,#0095d6 40.5px,#0079e1 43.5px,#006ce0 44.5px,#0061de 46.5px,#005fde 47.5px,#0063de 48.5px,#007be0 50.5px,#0099d5 52.5px,#00b0b8 54.5px,#00b899 55.5px,#72be6d 56.5px,#babd59 57.5px,#edb93c 58.5px,#fdbc27 59.5px,#ffc80a 61.5px,#ffce00 62.5px,#f8e700 70.5px,#fbe000 77.5px,#ffcd00 87.5px,#febd21 95.5px,#f7b935 113.5px,#dfba45 134.5px,#cfbb4e 162px)"></i><i style="top:109px;background:linear-gradient(90deg,#b1be5c 0px,#a7bf5f 12.5px,#90c066 19.5px,#74be6d 23.5px,#67be6f 24.5px,#13bb7e 28.5px,#00b997 32.5px,#00b5a6 34.5px,#00a4cb 38.5px,#0095d6 40.5px,#0078e1 43.5px,#0064df 45.5px,#005ede 47.5px,#0061de 48.5px,#007ae0 50.5px,#0098d5 52.5px,#00afb9 54.5px,#00b89a 55.5px,#71be6d 56.5px,#b9bd59 57.5px,#edb93c 58.5px,#fdbc27 59.5px,#ffc909 61.5px,#ffcf00 62.5px,#f8e800 70.5px,#fae200 76.5px,#ffcd00 87.5px,#febd20 95.5px,#f9b932 111.5px,#e1b944 132.5px,#cfbb4e 162px)"></i><i style="top:110px;background:linear-gradient(90deg,#b1be5c 0px,#a7bf5f 12.5px,#90c066 19.5px,#74be6d 23.5px,#66be6f 24.5px,#25bc7a 27.5px,#13bb7e 28.5px,#00b997 32.5px,#00aeba 36.5px,#009ed3 39.5px,#0078e1 43.5px,#0063de 45.5px,#005dde 47.5px,#0060de 48.5px,#007ae0 50.5px,#0097d5 52.5px,#00a5ca 53.5px,#00afb9 54.5px,#00b89b 55.5px,#70be6e 56.5px,#b8bd59 57.5px,#edb93c 58.5px,#fdbc27 59.5px,#ffc908 61.5px,#ffcf00 62.5px,#f8e700 69.5px,#f9e700 74.5px,#ffce00 87.5px,#febd20 95.5px,#f7b934 113.5px,#e0ba45 134.5px,#d0bb4e 162px)"></i><i style="top:111px;background:linear-gradient(90deg,#b1be5c 0px,#a7bf5f 12.5px,#90bf67 19.5px,#73be6d 23.5px,#65be6f 24.5px,#23bc7a 27.5px,#13bb7f 28.5px,#00b997 32.5px,#00aeba 36.5px,#009dd3 39.5px,#0077e1 43.5px,#006adf 44.5px,#005cde 47.5px,#005fde 48.5px,#0079e1 50.5px,#0097d6 52.5px,#00a4cb 53.5px,#00aeba 54.5px,#00b89c 55.5px,#6fbe6e 56.5px,#b8bd59 57.5px,#edb93c 58.5px,#fdbc26 59.5px,#ffc907 61.5px,#fed000 62.5px,#f8e800 69.5px,#f8e700 74.5px,#ffce00 87.5px,#ffbe20 95.5px,#f7b934 113.5px,#deba46 136.5px,#d0bb4e 162px)"></i><i style="top:112px;background:linear-gradient(90deg,#b1be5c 0px,#a7bf5f 12.5px,#94c066 18.5px,#7cbf6b 22.5px,#73be6d 23.5px,#64be70 24.5px,#22bb7b 27.5px,#12bb7f 28.5px,#00b998 32.5px,#00b5a6 34.5px,#00a4cc 38.5px,#0081de 42.5px,#0069df 44.5px,#005bdd 47.5px,#005ede 48.5px,#0078e1 50.5px,#0096d6 52.5px,#00a4cc 53.5px,#00aebb 54.5px,#00b79d 55.5px,#6dbe6e 56.5px,#b7bd59 57.5px,#edb93c 58.5px,#fdbc26 59.5px,#ffca06 61.5px,#fed000 62.5px,#f8e900 69.5px,#f8e800 74.5px,#ffcc02 88.5px,#ffbe20 95.5px,#f8b934 113.5px,#dfba45 135.5px,#d0bb4d 162px)"></i><i style="top:113px;background:linear-gradient(90deg,#b1be5c 0px,#a7bf5f 12.5px,#94c066 18.5px,#7bbf6b 22.5px,#73be6d 23.5px,#64be70 24.5px,#21bb7b 27.5px,#12bb7f 28.5px,#00b998 32.5px,#00b5a6 34.5px,#00a4cc 38.5px,#0081de 42.5px,#0069df 44.5px,#005dde 46.5px,#005add 47.5px,#005dde 48.5px,#0077e1 50.5px,#00a3cd 53.5px,#00adbc 54.5px,#00b79e 55.5px,#6abe6f 56.5px,#b7bd5a 57.5px,#edb93c 58.5px,#fdbc26 59.5px,#ffca05 61.5px,#fdd600 63.5px,#f7eb00 70.5px,#f9e500 76.5px,#ffcc01 88.5px,#ffbe1f 95.5px,#f7b935 114.5px,#dfba45 135.5px,#d0bb4d 162px)"></i><i style="top:114px;background:linear-gradient(90deg,#b1be5c 0px,#a7bf5f 12.5px,#93c066 18.5px,#7bbf6b 22.5px,#72be6d 23.5px,#63be70 24.5px,#20bb7b 27.5px,#12bb80 28.5px,#00b998 32.5px,#00b5a6 34.5px,#00a3cc 38.5px,#0080de 42.5px,#0068df 44.5px,#005cdd 46.5px,#0059dd 47.5px,#005cde 48.5px,#0075e1 50.5px,#0094d7 52.5px,#00a3ce 53.5px,#00adbc 54.5px,#00b79f 55.5px,#67be6f 56.5px,#b6bd5a 57.5px,#edb93c 58.5px,#fdbc25 59.5px,#ffcb04 61.5px,#fdd600 63.5px,#f7ec00 70.5px,#fae400 77.5px,#ffcd01 88.5px,#ffbe1f 95.5px,#f7b934 114.5px,#e1b944 133.5px,#d1bb4d 162px)"></i><i style="top:115px;background:linear-gradient(90deg,#b1be5c 0px,#a7bf60 12.5px,#8fbf67 19.5px,#72be6d 23.5px,#62be70 24.5px,#1fbb7b 27.5px,#12bb80 28.5px,#00b998 32.5px,#00b5a6 34.5px,#00a3cd 38.5px,#0089db 41.5px,#0074e1 43.5px,#0067df 44.5px,#0058dd 47.5px,#005bdd 48.5px,#0074e1 50.5px,#00a2cf 53.5px,#00adbd 54.5px,#00b7a0 55.5px,#64be70 56.5px,#b5bd5a 57.5px,#edb93b 58.5px,#fdbc25 59.5px,#ffcb03 61.5px,#fbde00 65.5px,#f7eb00 69.5px,#f8ea00 74.5px,#ffcd00 88.5px,#ffbe1f 95.5px,#f7b934 114.5px,#e1b944 133.5px,#d1bb4d 162px)"></i><i style="top:116px;background:linear-gradient(90deg,#b1be5c 0px,#a7bf60 12.5px,#93c066 18.5px,#7abf6b 22.5px,#72be6d 23.5px,#61be70 24.5px,#1ebb7b 27.5px,#11bb80 28.5px,#00b898 32.5px,#00b5a6 34.5px,#00a3cd 38.5px,#0088db 41.5px,#0067df 44.5px,#005add 46.5px,#0057dd 47.5px,#005add 48.5px,#0073e0 50.5px,#00a1d0 53.5px,#00acbe 54.5px,#00b6a1 55.5px,#61be70 56.5px,#b5bd5a 57.5px,#eeb93b 58.5px,#fdbc25 59.5px,#ffcc03 61.5px,#f9e600 67.5px,#f6ed00 71.5px,#fae300 78.5px,#ffcd00 88.5px,#ffbe1e 95.5px,#fbba2f 109.5px,#eeb93b 121.5px,#dbba47 141.5px,#d1bb4d 162px)"></i><i style="top:117px;background:linear-gradient(90deg,#b1be5c 0px,#a7bf60 12.5px,#93c066 18.5px,#7abf6b 22.5px,#71be6d 23.5px,#60be70 24.5px,#1dbb7b 27.5px,#11bb81 28.5px,#00b898 32.5px,#00aebb 36.5px,#009bd4 39.5px,#0073e0 43.5px,#005ede 45.5px,#0056dd 47.5px,#0059dd 48.5px,#0081de 51.5px,#00a1d0 53.5px,#00acbe 54.5px,#00b6a2 55.5px,#5fbd71 56.5px,#b4bd5b 57.5px,#eeb93b 58.5px,#fdbc24 59.5px,#ffcc02 61.5px,#fae400 66.5px,#f6ee00 71.5px,#fbe100 79.5px,#ffcd00 88.5px,#ffbe1e 95.5px,#f7b934 114.5px,#e1b944 133.5px,#d1bb4d 162px)"></i><i style="top:118px;background:linear-gradient(90deg,#b1be5c 0px,#a7bf60 12.5px,#93c066 18.5px,#7abf6b 22.5px,#71be6d 23.5px,#49bd74 25.5px,#1dbb7c 27.5px,#11bb81 28.5px,#00b898 32.5px,#00aebb 36.5px,#009bd4 39.5px,#0072e0 43.5px,#005dde 45.5px,#0055dd 47.5px,#0058dd 48.5px,#0080de 51.5px,#00a0d1 53.5px,#00abbf 54.5px,#00b6a3 55.5px,#5cbd71 56.5px,#b4be5b 57.5px,#eeb93b 58.5px,#febd24 59.5px,#ffcd01 61.5px,#f7eb00 68.5px,#f6ee00 72.5px,#ffce00 88.5px,#ffbe20 96.5px,#f8b934 114.5px,#e1b944 133.5px,#d2bb4d 162px)"></i><i style="top:119px;background:linear-gradient(90deg,#b1be5c 0px,#a7bf60 12.5px,#8ebf67 19.5px,#71be6d 23.5px,#1cbb7c 27.5px,#11bb81 28.5px,#00b899 32.5px,#00b5a7 34.5px,#00a3cd 38.5px,#007ddf 42.5px,#0065df 44.5px,#0057dd 46.5px,#0054dc 47.5px,#0057dd 48.5px,#007fde 51.5px,#00a0d2 53.5px,#00abc0 54.5px,#00b6a4 55.5px,#5abd71 56.5px,#b3be5b 57.5px,#eeb93b 58.5px,#febd24 59.5px,#ffcd00 61.5px,#f9e500 66.5px,#f6ef00 70.5px,#f8e900 76.5px,#ffce00 88.5px,#ffbe20 96.5px,#f8b934 114.5px,#e1b944 134.5px,#d2bb4d 162px)"></i><i style="top:120px;background:linear-gradient(90deg,#b1be5c 0px,#a7bf60 12.5px,#8ebf67 19.5px,#70be6d 23.5px,#47bd74 25.5px,#1bbb7c 27.5px,#10bb82 28.5px,#00b899 32.5px,#00b5a7 34.5px,#00a3ce 38.5px,#007ddf 42.5px,#0064df 44.5px,#0056dd 46.5px,#0053dc 47.5px,#0056dd 48.5px,#006fe0 50.5px,#007fdf 51.5px,#009fd2 53.5px,#00aac1 54.5px,#00b6a5 55.5px,#57bd72 56.5px,#b3be5b 57.5px,#eeb93b 58.5px,#febd23 59.5px,#ffcd00 61.5px,#f9e600 66.5px,#f6f000 71.5px,#f9e500 78.5px,#ffcc02 89.5px,#ffbe1d 95.5px,#fab931 111.5px,#e2b943 132.5px,#d2bb4c 162px)"></i><i style="top:121px;background:linear-gradient(90deg,#b1be5c 0px,#a7bf60 12.5px,#8ebf67 19.5px,#70be6d 23.5px,#1abb7c 27.5px,#0bba88 29.5px,#00b899 32.5px,#00b5a7 34.5px,#00a2ce 38.5px,#007ddf 42.5px,#005bdd 45.5px,#0052dc 47.5px,#0055dd 48.5px,#006de0 50.5px,#008ed9 52.5px,#009ed3 53.5px,#00aac1 54.5px,#00b5a5 55.5px,#55bd72 56.5px,#b2be5b 57.5px,#eeb93b 58.5px,#febd23 59.5px,#ffce00 61.5px,#f9e600 66.5px,#f5f000 70.5px,#f7ea00 76.5px,#ffcc02 89.5px,#ffbf1d 95.5px,#fbba2f 109.5px,#f4b937 117.5px,#e0b944 135.5px,#d2bb4c 162px)"></i><i style="top:122px;background:linear-gradient(90deg,#b1be5c 0px,#a7bf60 12.5px,#92c066 18.5px,#79be6c 22.5px,#70be6e 23.5px,#46bd75 25.5px,#1abb7c 27.5px,#0bba88 29.5px,#00b899 32.5px,#00b5a7 34.5px,#00a2ce 38.5px,#007cdf 42.5px,#005add 45.5px,#0051dc 47.5px,#0054dc 48.5px,#006ce0 50.5px,#008dd9 52.5px,#009ed3 53.5px,#00aac2 54.5px,#00b5a6 55.5px,#52bd73 56.5px,#b2be5b 57.5px,#eeb93b 58.5px,#febd23 59.5px,#ffce00 61.5px,#f7eb00 67.5px,#f5f100 71.5px,#f8e900 77.5px,#ffcc01 89.5px,#ffbf1c 95.5px,#fcbb2c 106.5px,#f6b935 116.5px,#e1b944 134.5px,#d2bb4c 162px)"></i><i style="top:123px;background:linear-gradient(90deg,#b1be5c 0px,#a7bf60 12.5px,#92c066 18.5px,#79be6c 22.5px,#70be6e 23.5px,#19bb7c 27.5px,#0bba88 29.5px,#00b899 32.5px,#00b5a7 34.5px,#00a2ce 38.5px,#007ce0 42.5px,#0062de 44.5px,#0050dc 47.5px,#0053dc 48.5px,#006bdf 50.5px,#007cdf 51.5px,#009dd3 53.5px,#00a9c3 54.5px,#00b5a7 55.5px,#50bd73 56.5px,#b2be5b 57.5px,#eeb93b 58.5px,#febd23 59.5px,#ffc60e 60.5px,#ffce00 61.5px,#fae400 65.5px,#f5f200 70.5px,#f7eb00 76.5px,#ffcd01 89.5px,#ffbe1f 96.5px,#f7b934 115.5px,#e1b944 134.5px,#d3bb4c 162px)"></i><i style="top:124px;background:linear-gradient(90deg,#b1be5c 0px,#a7bf60 12.5px,#92c066 18.5px,#79be6c 22.5px,#70be6e 23.5px,#19bb7c 27.5px,#0bba88 29.5px,#00b899 32.5px,#00b5a7 34.5px,#00a2cf 38.5px,#007be0 42.5px,#0059dd 45.5px,#024fd9 47.5px,#0052dc 48.5px,#006adf 50.5px,#007be0 51.5px,#009cd3 53.5px,#00a9c4 54.5px,#00b5a8 55.5px,#4ebd73 56.5px,#b1be5c 57.5px,#efb93b 58.5px,#febd22 59.5px,#ffc60e 60.5px,#ffcf00 61.5px,#f7ec00 67.5px,#f5f200 71.5px,#f8ea00 77.5px,#ffcd00 89.5px,#ffbe1f 96.5px,#f7b934 115.5px,#e1b944 134.5px,#d3bb4c 162px)"></i><i style="top:125px;background:linear-gradient(90deg,#b1be5c 0px,#a7bf60 12.5px,#92c066 18.5px,#81bf6a 21.5px,#70be6e 23.5px,#18bb7c 27.5px,#02b994 31.5px,#00b5a7 34.5px,#00a2cf 38.5px,#007be0 42.5px,#0061de 44.5px,#0052dc 46.5px,#044dd7 47.5px,#0051dc 48.5px,#0069df 50.5px,#007be0 51.5px,#009bd4 53.5px,#00a8c4 54.5px,#00b5a9 55.5px,#4dbd74 56.5px,#b1be5c 57.5px,#efb93a 58.5px,#febd22 59.5px,#ffc60e 60.5px,#ffcf00 61.5px,#f8e900 66.5px,#f5f300 71.5px,#f8e800 78.5px,#ffcd00 89.5px,#ffbf1b 95.5px,#fcbb2a 105.5px,#f6b935 116.5px,#e1b944 134.5px,#d3bb4c 162px)"></i><i style="top:126px;background:linear-gradient(90deg,#b1be5c 0px,#a7bf60 12.5px,#92c066 18.5px,#81bf6a 21.5px,#70be6e 23.5px,#18bb7c 27.5px,#02b994 31.5px,#00b5a7 34.5px,#00a2cf 38.5px,#007be0 42.5px,#0061de 44.5px,#0051dc 46.5px,#064cd4 47.5px,#0050dc 48.5px,#0068df 50.5px,#007ae0 51.5px,#009bd4 53.5px,#00a8c5 54.5px,#00b4aa 55.5px,#4bbd74 56.5px,#b1be5c 57.5px,#efb93a 58.5px,#febd22 59.5px,#ffc60d 60.5px,#ffcf00 61.5px,#f7ed00 67.5px,#f5f300 71.5px,#f7eb00 77.5px,#ffcd00 89.5px,#ffbe1e 96.5px,#f8b934 115.5px,#e2b943 133.5px,#d3bb4c 162px)"></i><i style="top:127px;background:linear-gradient(90deg,#b1be5c 0px,#a7bf60 12.5px,#92c066 18.5px,#80bf6a 21.5px,#6fbe6e 23.5px,#18bb7c 27.5px,#0bba89 29.5px,#00b899 32.5px,#00b5a7 34.5px,#00a2cf 38.5px,#007ae0 42.5px,#0060de 44.5px,#0051dc 46.5px,#084bd1 47.5px,#024fda 48.5px,#0067df 50.5px,#0079e1 51.5px,#009ad4 53.5px,#00a7c6 54.5px,#00b4ab 55.5px,#49bd74 56.5px,#b1be5c 57.5px,#efb93a 58.5px,#febd22 59.5px,#ffc70d 60.5px,#ffcf00 61.5px,#f8ea00 66.5px,#f5f300 70.5px,#f6ee00 76.5px,#ffce00 89.5px,#ffbe1e 96.5px,#f8b934 115.5px,#e2b943 133.5px,#d3bb4c 162px)"></i><i style="top:128px;background:linear-gradient(90deg,#b1be5c 0px,#a7bf60 12.5px,#92c066 18.5px,#80bf6a 21.5px,#6fbe6e 23.5px,#17bb7c 27.5px,#06ba8e 30.5px,#00b79f 33.5px,#00adbc 36.5px,#0099d5 39.5px,#007ae0 42.5px,#0056dd 45.5px,#0050db 46.5px,#0a49cf 47.5px,#044dd7 48.5px,#0066df 50.5px,#0078e1 51.5px,#0099d4 53.5px,#00a7c6 54.5px,#00b4ac 55.5px,#48bd74 56.5px,#b1be5c 57.5px,#efb93a 58.5px,#febd22 59.5px,#ffc70d 60.5px,#ffcf00 61.5px,#f8ea00 66.5px,#f5f300 70.5px,#f6ee00 76.5px,#ffce00 89.5px,#ffbe1e 96.5px,#f8b934 115.5px,#e3b943 133.5px,#d4bb4b 162px)"></i><i style="top:129px;background:linear-gradient(90deg,#b1be5c 0px,#a7bf60 12.5px,#92c066 18.5px,#80bf6a 21.5px,#6fbe6e 23.5px,#17bb7d 27.5px,#06ba8e 30.5px,#00b79f 33.5px,#00adbc 36.5px,#00a1d0 38.5px,#007ae0 42.5px,#005fde 44.5px,#024ed9 46.5px,#0c48cc 47.5px,#064cd4 48.5px,#0058dd 49.5px,#0077e1 51.5px,#0099d5 53.5px,#00a7c7 54.5px,#00b4ad 55.5px,#46bd75 56.5px,#b1be5c 57.5px,#efb93a 58.5px,#febd22 59.5px,#ffc70c 60.5px,#ffcf00 61.5px,#f9e600 65.5px,#f5f300 69.5px,#f5f100 75.5px,#ffce00 89.5px,#ffbe20 97.5px,#f8b934 115.5px,#e3b943 133.5px,#d4bb4b 162px)"></i><i style="top:130px;background:linear-gradient(90deg,#b1be5c 0px,#a7bf60 12.5px,#92c066 18.5px,#80bf6a 21.5px,#6fbe6e 23.5px,#17bb7d 27.5px,#06ba8e 30.5px,#00b79f 33.5px,#00adbc 36.5px,#00a1d0 38.5px,#007ae0 42.5px,#005ede 44.5px,#0055dd 45.5px,#044dd6 46.5px,#0e47c9 47.5px,#084bd1 48.5px,#0057dd 49.5px,#0076e1 51.5px,#0098d5 53.5px,#00a6c8 54.5px,#00b3ae 55.5px,#44bd75 56.5px,#b1be5c 57.5px,#f0b93a 58.5px,#febd21 59.5px,#ffc70c 60.5px,#fed000 61.5px,#f6ef00 67.5px,#f6f400 72.5px,#f9e600 80.5px,#ffcc02 90.5px,#ffbe1d 96.5px,#f9b932 114.5px,#e3b943 133.5px,#d4bb4b 162px)"></i><i style="top:131px;background:linear-gradient(90deg,#b1be5c 0px,#a7bf60 12.5px,#92c066 18.5px,#78be6c 22.5px,#6fbe6e 23.5px,#16bb7d 27.5px,#02b994 31.5px,#00b5a7 34.5px,#00a1d0 38.5px,#0079e1 42.5px,#0054dd 45.5px,#1045c6 47.5px,#0a49ce 48.5px,#0056dd 49.5px,#0075e1 51.5px,#0097d5 53.5px,#00a6c8 54.5px,#00b3af 55.5px,#43bd75 56.5px,#b1be5c 57.5px,#f0b93a 58.5px,#febd21 59.5px,#ffc70c 60.5px,#fed000 61.5px,#f7eb00 66.5px,#f6f400 70.5px,#f6f000 76.5px,#ffcc02 90.5px,#ffbe1d 96.5px,#f7b934 116.5px,#e2b943 134.5px,#d4bb4b 162px)"></i><i style="top:132px;background:linear-gradient(90deg,#b1be5c 0px,#a9bf5f 11.5px,#96c065 17.5px,#80bf6a 21.5px,#6fbe6e 23.5px,#16bb7d 27.5px,#02b994 31.5px,#00b5a7 34.5px,#00a1d0 38.5px,#0079e1 42.5px,#005dde 44.5px,#0054dc 45.5px,#1144c4 47.5px,#0c48cb 48.5px,#0055dd 49.5px,#0074e1 51.5px,#0096d6 53.5px,#00a5c9 54.5px,#00b3b0 55.5px,#41bd75 56.5px,#b1be5c 57.5px,#f0b93a 58.5px,#febd21 59.5px,#ffc70c 60.5px,#fed000 61.5px,#f6f000 67.5px,#f6f500 72.5px,#f8ea00 79.5px,#ffcd01 90.5px,#ffbf1d 96.5px,#f7b934 116.5px,#e2b943 134.5px,#d5ba4b 162px)"></i><i style="top:133px;background:linear-gradient(90deg,#b1be5c 0px,#a9bf5f 11.5px,#96c065 17.5px,#80bf6a 21.5px,#6fbe6e 23.5px,#16bb7d 27.5px,#02b994 31.5px,#00b5a7 34.5px,#00a1d0 38.5px,#0079e1 42.5px,#005dde 44.5px,#0053dc 45.5px,#1342c1 47.5px,#0e46c8 48.5px,#0054dc 49.5px,#0073e0 51.5px,#0096d6 53.5px,#00a5ca 54.5px,#00b3b1 55.5px,#3fbc76 56.5px,#b1be5c 57.5px,#f0b939 58.5px,#febd21 59.5px,#ffc70b 60.5px,#fed000 61.5px,#f7ec00 66.5px,#f6f500 70.5px,#f6ef00 77.5px,#ffcd00 90.5px,#ffbf1d 96.5px,#f7b934 116.5px,#e3b943 133.5px,#d5ba4b 162px)"></i><i style="top:134px;background:linear-gradient(90deg,#b1be5c 0px,#a9bf5f 11.5px,#96c065 17.5px,#80bf6a 21.5px,#6fbe6e 23.5px,#16bb7d 27.5px,#02b994 31.5px,#00b5a7 34.5px,#00a1d1 38.5px,#0078e1 42.5px,#005cde 44.5px,#0053dc 45.5px,#1541be 47.5px,#1045c5 48.5px,#0053dc 49.5px,#005fde 50.5px,#0084dd 52.5px,#00a4cb 54.5px,#00b3b2 55.5px,#3ebc76 56.5px,#b1be5c 57.5px,#f0b939 58.5px,#febd21 59.5px,#ffc70b 60.5px,#fed000 61.5px,#f8e800 65.5px,#f6f400 69.5px,#f5f300 75.5px,#fed000 89.5px,#ffca05 91.5px,#ffbf1c 96.5px,#fbba30 112.5px,#e3b943 134.5px,#d5ba4b 162px)"></i><i style="top:135px;background:linear-gradient(90deg,#b1be5c 0px,#a9bf5f 11.5px,#96c065 17.5px,#80bf6a 21.5px,#6fbe6e 23.5px,#15bb7d 27.5px,#02b994 31.5px,#00b5a7 34.5px,#00a1d1 38.5px,#0078e1 42.5px,#005cdd 44.5px,#0052dc 45.5px,#1740bb 47.5px,#1243c3 48.5px,#0052dc 49.5px,#005ede 50.5px,#0083dd 52.5px,#00a4cb 54.5px,#00b2b3 55.5px,#3cbc76 56.5px,#b1be5c 57.5px,#f0b939 58.5px,#febd21 59.5px,#ffc80b 60.5px,#fed000 61.5px,#f7ed00 66.5px,#f6f600 70.5px,#f6ee00 78.5px,#ffcd00 90.5px,#ffbf1c 96.5px,#fbba30 112.5px,#e3b943 134.5px,#d5ba4b 162px)"></i><i style="top:136px;background:linear-gradient(90deg,#b1be5c 0px,#a9bf5f 11.5px,#96c065 17.5px,#80bf6a 21.5px,#6fbe6e 23.5px,#15bb7d 27.5px,#02b994 31.5px,#00b5a7 34.5px,#00a1d1 38.5px,#0078e1 42.5px,#005bdd 44.5px,#0051dc 45.5px,#0f46c7 46.5px,#193eb8 47.5px,#1442c0 48.5px,#0051dc 49.5px,#005dde 50.5px,#0082dd 52.5px,#00a3cc 54.5px,#00b2b4 55.5px,#3bbc77 56.5px,#b1be5c 57.5px,#f1b939 58.5px,#febd20 59.5px,#ffc80b 60.5px,#fed000 61.5px,#f8e900 65.5px,#f6f500 69.5px,#f5f100 77.5px,#ffce00 90.5px,#ffbf1c 96.5px,#fab932 114.5px,#e3b943 134.5px,#d5ba4a 162px)"></i><i style="top:137px;background:linear-gradient(90deg,#b1be5c 0px,#a9bf5f 11.5px,#96c065 17.5px,#80bf6a 21.5px,#6fbe6e 23.5px,#15bb7d 27.5px,#02b994 31.5px,#00b5a7 34.5px,#00a1d1 38.5px,#0078e1 42.5px,#005bdd 44.5px,#0051dc 45.5px,#1044c5 46.5px,#1b3db6 47.5px,#1640bd 48.5px,#0050db 49.5px,#005cde 50.5px,#0081dd 52.5px,#00a3cd 54.5px,#00b2b4 55.5px,#39bc77 56.5px,#b0be5c 57.5px,#f1b939 58.5px,#febd20 59.5px,#ffc80a 60.5px,#fed100 61.5px,#f5f200 67.5px,#f6f600 73.5px,#f7eb00 80.5px,#ffce00 90.5px,#ffbf1b 96.5px,#fbba2d 109.5px,#f5b936 118.5px,#e2b943 135.5px,#d6ba4a 162px)"></i><i style="top:138px;background:linear-gradient(90deg,#b1be5c 0px,#a9bf5f 11.5px,#96c065 17.5px,#80bf6a 21.5px,#6fbe6e 23.5px,#15bb7d 27.5px,#02b994 31.5px,#00b5a7 34.5px,#00a0d1 38.5px,#0077e1 42.5px,#005add 44.5px,#0050dc 45.5px,#1243c3 46.5px,#1d3cb3 47.5px,#183fba 48.5px,#034ed8 49.5px,#006de0 51.5px,#0092d7 53.5px,#00a3ce 54.5px,#00b1b5 55.5px,#37bc77 56.5px,#b0be5c 57.5px,#f1b939 58.5px,#febd20 59.5px,#ffc80a 60.5px,#fed100 61.5px,#f6ee00 66.5px,#f6f700 70.5px,#f6ee00 79.5px,#ffce00 90.5px,#ffbf1b 96.5px,#fcbb2c 108.5px,#f5b936 118.5px,#e3b943 134.5px,#d6ba4a 162px)"></i><i style="top:139px;background:linear-gradient(90deg,#b1be5c 0px,#a9bf5f 11.5px,#97c065 17.5px,#80bf6a 21.5px,#6fbe6e 23.5px,#14bb7d 27.5px,#00b899 32.5px,#00b5a7 34.5px,#00a0d1 38.5px,#0077e1 42.5px,#0059dd 44.5px,#024fda 45.5px,#1442c0 46.5px,#1f3ab0 47.5px,#1a3eb7 48.5px,#054cd5 49.5px,#005add 50.5px,#0080de 52.5px,#00a2cf 54.5px,#00b1b6 55.5px,#36bc77 56.5px,#b0be5c 57.5px,#f1b939 58.5px,#ffbe20 59.5px,#ffc80a 60.5px,#fed100 61.5px,#f8ea00 65.5px,#f6f600 69.5px,#f5f300 77.5px,#fed200 89.5px,#ffcc03 91.5px,#ffbe1e 97.5px,#f8b934 116.5px,#e3b943 134.5px,#d6ba4a 162px)"></i><i style="top:140px;background:linear-gradient(90deg,#b1be5c 0px,#a9bf5f 11.5px,#97c065 17.5px,#80bf6a 21.5px,#6fbe6e 23.5px,#14bb7d 27.5px,#00b899 32.5px,#00b5a7 34.5px,#00a0d2 38.5px,#0077e1 42.5px,#0059dd 44.5px,#034ed8 45.5px,#1641be 46.5px,#2139ae 47.5px,#1c3cb4 48.5px,#074bd2 49.5px,#0059dd 50.5px,#007fde 52.5px,#00a2cf 54.5px,#00b1b6 55.5px,#34bc78 56.5px,#b0be5c 57.5px,#f2b938 58.5px,#ffbe20 59.5px,#ffc80a 60.5px,#fed100 61.5px,#f6ef00 66.5px,#f7f700 70.5px,#f5f100 78.5px,#fbdf00 85.5px,#ffcc02 91.5px,#ffc01b 96.5px,#fbba2c 109.5px,#f4b937 119.5px,#e3b942 134.5px,#d6ba4a 162px)"></i><i style="top:141px;background:linear-gradient(90deg,#b1be5c 0px,#a9bf5f 11.5px,#97c065 17.5px,#80bf6a 21.5px,#6fbe6e 23.5px,#14bb7d 27.5px,#01b994 31.5px,#00b5a7 34.5px,#00a0d2 38.5px,#0076e1 42.5px,#0058dd 44.5px,#054dd6 45.5px,#1740bb 46.5px,#2338ab 47.5px,#1e3bb2 48.5px,#0a49cf 49.5px,#0058dd 50.5px,#007edf 52.5px,#00a1d0 54.5px,#00b0b7 55.5px,#33bc78 56.5px,#b0be5c 57.5px,#f2b938 58.5px,#ffbe20 59.5px,#ffc809 60.5px,#fed100 61.5px,#f6ef00 66.5px,#f7f700 70.5px,#f5f200 78.5px,#fed300 89.5px,#ffcc01 91.5px,#ffc01a 96.5px,#fcbb29 106.5px,#f7b935 117.5px,#e4b942 133.5px,#d7ba4a 162px)"></i><i style="top:142px;background:linear-gradient(90deg,#b1be5c 0px,#a9bf5f 11.5px,#97c065 17.5px,#80bf6a 21.5px,#6fbe6e 23.5px,#14bb7d 27.5px,#01b994 31.5px,#00b5a7 34.5px,#00a0d2 38.5px,#0076e1 42.5px,#0058dd 44.5px,#064cd4 45.5px,#193fb9 46.5px,#2536a9 47.5px,#2039af 48.5px,#0c48cc 49.5px,#0057dd 50.5px,#007ddf 52.5px,#00a1d1 54.5px,#00b0b7 55.5px,#31bc78 56.5px,#b0be5c 57.5px,#f2b938 58.5px,#ffbe1f 59.5px,#ffc809 60.5px,#fed100 61.5px,#f6ef00 66.5px,#f7f800 70.5px,#f5f200 78.5px,#fbe000 85.5px,#ffcd01 91.5px,#ffc01a 96.5px,#fcbb29 106.5px,#f7b934 117.5px,#e4b942 133.5px,#d7ba4a 162px)"></i><i style="top:143px;background:linear-gradient(90deg,#b1be5c 0px,#aabf5f 11.5px,#97c065 17.5px,#80bf6a 21.5px,#6fbe6e 23.5px,#14bb7d 27.5px,#01b994 31.5px,#00b5a7 34.5px,#00a0d2 38.5px,#0076e1 42.5px,#0057dd 44.5px,#074bd2 45.5px,#1b3db7 46.5px,#2735a6 47.5px,#2238ac 48.5px,#0e46c9 49.5px,#0056dd 50.5px,#007ddf 52.5px,#00a0d2 54.5px,#00b0b8 55.5px,#30bc78 56.5px,#b0be5c 57.5px,#f2b938 58.5px,#ffbe1f 59.5px,#ffc909 60.5px,#fed100 61.5px,#f7eb00 65.5px,#f7f700 69.5px,#f6f400 77.5px,#fae100 85.5px,#ffcd00 91.5px,#ffc01a 96.5px,#fcbb29 106.5px,#f7b934 117.5px,#e3b943 135.5px,#d7ba4a 162px)"></i><i style="top:144px;background:linear-gradient(90deg,#b1be5c 0px,#a8bf5f 12.5px,#92c066 18.5px,#78be6c 22.5px,#6ebe6e 23.5px,#14bb7d 27.5px,#01b994 31.5px,#00b5a7 34.5px,#00a0d2 38.5px,#0075e1 42.5px,#0057dd 44.5px,#094ad0 45.5px,#1c3cb5 46.5px,#2834a4 47.5px,#2437aa 48.5px,#0054dd 50.5px,#007ce0 52.5px,#00a0d2 54.5px,#00afb9 55.5px,#2ebc79 56.5px,#b1be5c 57.5px,#f2b938 58.5px,#ffbe1f 59.5px,#ffc909 60.5px,#fed100 61.5px,#f7eb00 65.5px,#f7f700 69.5px,#f6f600 75.5px,#f7eb00 82.5px,#ffcd00 91.5px,#ffc01a 96.5px,#fcbb2c 109.5px,#f7b934 117.5px,#e3b943 135.5px,#d7ba49 162px)"></i><i style="top:145px;background:linear-gradient(90deg,#b1be5c 0px,#a8bf5f 12.5px,#92c066 18.5px,#78be6c 22.5px,#6ebe6e 23.5px,#14bb7d 27.5px,#01b994 31.5px,#00b5a7 34.5px,#00a0d2 38.5px,#0075e1 42.5px,#0056dd 44.5px,#0a49ce 45.5px,#1e3bb2 46.5px,#2a33a1 47.5px,#2636a7 48.5px,#0053dc 50.5px,#007be0 52.5px,#009fd2 54.5px,#00afb9 55.5px,#2dbc79 56.5px,#b1be5c 57.5px,#f2b938 58.5px,#ffbe1f 59.5px,#ffc909 60.5px,#fed200 61.5px,#f6f000 66.5px,#f7f900 70.5px,#f5f200 79.5px,#fae200 85.5px,#ffcd00 91.5px,#ffc01a 96.5px,#fcbb2c 109.5px,#f6b935 118.5px,#e4b942 134.5px,#d7ba49 162px)"></i><i style="top:146px;background:linear-gradient(90deg,#b1be5c 0px,#a8bf5f 12.5px,#92c066 18.5px,#78be6c 22.5px,#6ebe6e 23.5px,#14bb7d 27.5px,#01b994 31.5px,#00b5a7 34.5px,#009fd2 38.5px,#0075e1 42.5px,#0056dd 44.5px,#0b48cc 45.5px,#1f3ab0 46.5px,#2c319f 47.5px,#2734a5 48.5px,#0053dc 50.5px,#007ae0 52.5px,#009ed3 54.5px,#00afba 55.5px,#2bbc79 56.5px,#b1be5c 57.5px,#f3b938 58.5px,#ffbe1f 59.5px,#ffc908 60.5px,#fed200 61.5px,#f5f100 66.5px,#f7f900 71.5px,#f6ef00 81.5px,#ffce00 91.5px,#ffc019 96.5px,#fdbc27 104.5px,#f6b935 118.5px,#e4b942 134.5px,#d8ba49 162px)"></i><i style="top:147px;background:linear-gradient(90deg,#b1be5c 0px,#a8bf5f 12.5px,#92c066 18.5px,#78be6c 22.5px,#6ebe6e 23.5px,#14bb7d 27.5px,#01b994 31.5px,#00b5a7 34.5px,#009fd2 38.5px,#0075e1 42.5px,#0056dd 44.5px,#0d47ca 45.5px,#2139ae 46.5px,#2d309d 47.5px,#2933a2 48.5px,#0052dc 50.5px,#0063de 51.5px,#007ae0 52.5px,#009ed3 54.5px,#00aeba 55.5px,#2abc79 56.5px,#b0be5c 57.5px,#f3b937 58.5px,#ffbe1f 59.5px,#ffc908 60.5px,#fed200 61.5px,#f5f100 66.5px,#f7f900 71.5px,#f6ef00 81.5px,#ffce00 91.5px,#ffbf1c 97.5px,#fab932 115.5px,#e4b942 134.5px,#d8ba49 162px)"></i><i style="top:148px;background:linear-gradient(90deg,#b1be5c 0px,#a8bf5f 12.5px,#92c066 18.5px,#78be6c 22.5px,#6ebe6e 23.5px,#14bb7d 27.5px,#01b994 31.5px,#00b5a7 34.5px,#009fd2 38.5px,#0074e1 42.5px,#0055dd 44.5px,#0e46c9 45.5px,#2238ac 46.5px,#2f2f9a 47.5px,#2b32a0 48.5px,#183fbb 49.5px,#0051dc 50.5px,#0079e1 52.5px,#009dd3 54.5px,#00aebb 55.5px,#29bc7a 56.5px,#b0be5c 57.5px,#f3b937 58.5px,#ffbe1f 59.5px,#ffc908 60.5px,#fed200 61.5px,#f7ec00 65.5px,#f7f800 69.5px,#f6f600 77.5px,#f8e800 84.5px,#ffce00 91.5px,#ffbf1c 97.5px,#f7b934 117.5px,#e4b942 134.5px,#d8ba49 162px)"></i><i style="top:149px;background:linear-gradient(90deg,#b1be5c 0px,#a8bf5f 12.5px,#92c066 18.5px,#78be6c 22.5px,#6ebe6e 23.5px,#14bb7e 27.5px,#01b994 31.5px,#00b5a7 34.5px,#009fd2 38.5px,#0074e1 42.5px,#0055dd 44.5px,#0f46c7 45.5px,#2337aa 46.5px,#302e98 47.5px,#2c319e 48.5px,#1a3eb8 49.5px,#0050dc 50.5px,#0078e1 52.5px,#009dd3 54.5px,#00aebb 55.5px,#27bc7a 56.5px,#b0be5c 57.5px,#f3b937 58.5px,#ffbe1e 59.5px,#ffc908 60.5px,#fed200 61.5px,#f7ec00 65.5px,#f7f800 69.5px,#f6f700 76.5px,#f8e900 84.5px,#ffce00 91.5px,#ffbf1c 97.5px,#f7b934 117.5px,#e5b941 133.5px,#d8ba49 162px)"></i><i style="top:150px;background:linear-gradient(90deg,#b1be5c 0px,#a8bf5f 12.5px,#92c066 18.5px,#78be6c 22.5px,#6ebe6e 23.5px,#14bb7e 27.5px,#01b994 31.5px,#00b5a7 34.5px,#009fd2 38.5px,#0074e0 42.5px,#0054dd 44.5px,#1045c6 45.5px,#2536a9 46.5px,#322d96 47.5px,#2e309c 48.5px,#1b3db6 49.5px,#024ed9 50.5px,#0078e1 52.5px,#009cd3 54.5px,#00adbc 55.5px,#26bc7a 56.5px,#b0be5c 57.5px,#f3b937 58.5px,#ffbe1e 59.5px,#ffc908 60.5px,#fed200 61.5px,#f5f200 66.5px,#f7fa00 71.5px,#f6ef00 82.5px,#ffce00 91.5px,#ffbf1c 97.5px,#f7b934 117.5px,#e4b942 135.5px,#d8ba49 162px)"></i><i style="top:151px;background:linear-gradient(90deg,#b1be5c 0px,#a8bf5f 12.5px,#92c066 18.5px,#77be6c 22.5px,#6ebe6e 23.5px,#14bb7e 27.5px,#01b994 31.5px,#00b5a7 34.5px,#009fd2 38.5px,#0074e0 42.5px,#0054dc 44.5px,#2635a7 46.5px,#322d95 47.5px,#2f2f9a 48.5px,#1d3cb4 49.5px,#044dd7 50.5px,#0077e1 52.5px,#009cd4 54.5px,#00adbc 55.5px,#25bc7a 56.5px,#b0be5c 57.5px,#f3b937 58.5px,#ffbe1e 59.5px,#ffc908 60.5px,#fed200 61.5px,#f5f200 66.5px,#f7fa00 71.5px,#f6ef00 82.5px,#ffcf00 91.5px,#ffbf1c 97.5px,#f7b934 117.5px,#e4b942 135.5px,#d8ba49 162px)"></i><i style="top:152px;background:linear-gradient(90deg,#b1be5c 0px,#a8bf5f 12.5px,#92c066 18.5px,#77be6c 22.5px,#6ebe6e 23.5px,#14bb7e 27.5px,#01b994 31.5px,#00b5a7 34.5px,#009fd2 38.5px,#0073e0 42.5px,#0054dc 44.5px,#2735a5 46.5px,#322d95 47.5px,#312e98 48.5px,#1e3bb2 49.5px,#064cd4 50.5px,#005fde 51.5px,#0076e1 52.5px,#009bd4 54.5px,#00adbd 55.5px,#24bc7a 56.5px,#b0be5c 57.5px,#f3b937 58.5px,#ffbe1e 59.5px,#ffc908 60.5px,#fed200 61.5px,#f5f200 66.5px,#f7fa00 71.5px,#f5f200 81.5px,#fcdd00 87.5px,#ffcb03 92.5px,#ffc118 96.5px,#fdbc25 103.5px,#f7b934 117.5px,#e4b942 135.5px,#d8ba49 162px)"></i><i style="top:153px;background:linear-gradient(90deg,#b1be5c 0px,#aabe5e 11.5px,#97c065 17.5px,#80bf6a 21.5px,#6ebe6e 23.5px,#13bb7e 27.5px,#01b994 31.5px,#00b5a7 34.5px,#009fd3 38.5px,#0073e0 42.5px,#0053dc 44.5px,#2834a4 46.5px,#322d94 47.5px,#322d96 48.5px,#203ab0 49.5px,#074bd2 50.5px,#005fde 51.5px,#0076e1 52.5px,#009bd4 54.5px,#00adbd 55.5px,#23bb7b 56.5px,#b0be5c 57.5px,#f4b937 58.5px,#ffbe1e 59.5px,#ffc908 60.5px,#fed200 61.5px,#f5f200 66.5px,#f8fa00 71.5px,#f5f200 81.5px,#fae200 86.5px,#ffcc03 92.5px,#ffc118 96.5px,#fdbc25 103.5px,#f8b934 117.5px,#e5b941 133.5px,#d9ba49 162px)"></i><i style="top:154px;background:linear-gradient(90deg,#b1be5c 0px,#aabe5e 11.5px,#97c065 17.5px,#80bf6a 21.5px,#6ebe6e 23.5px,#13bb7e 27.5px,#01b994 31.5px,#00b5a7 34.5px,#00a5c9 37.5px,#009ed3 38.5px,#0073e0 42.5px,#0053dc 44.5px,#2933a2 46.5px,#332c93 47.5px,#322d95 48.5px,#2139ae 49.5px,#084ad0 50.5px,#005ede 51.5px,#0075e1 52.5px,#009ad4 54.5px,#00acbd 55.5px,#22bb7b 56.5px,#b0be5c 57.5px,#f4b937 58.5px,#ffbe1e 59.5px,#ffc907 60.5px,#fed200 61.5px,#f7ed00 65.5px,#f7f900 69.5px,#f6f700 77.5px,#f7eb00 84.5px,#ffcf00 91.5px,#ffbf1b 97.5px,#fbba2c 110.5px,#f5b936 119.5px,#e3b943 137.5px,#d9ba49 162px)"></i><i style="top:155px;background:linear-gradient(90deg,#b1be5c 0px,#aabe5e 11.5px,#97c065 17.5px,#80bf6a 21.5px,#6ebe6e 23.5px,#13bb7e 27.5px,#01b994 31.5px,#00b5a7 34.5px,#00a5c9 37.5px,#009ed3 38.5px,#0073e0 42.5px,#0053dc 44.5px,#2a32a1 46.5px,#332c93 47.5px,#322d95 48.5px,#2238ac 49.5px,#0a49cf 50.5px,#005ede 51.5px,#0075e1 52.5px,#009ad4 54.5px,#00acbe 55.5px,#21bb7b 56.5px,#b0be5c 57.5px,#f4b937 58.5px,#ffbe1e 59.5px,#ffc907 60.5px,#fed200 61.5px,#f6ed00 65.5px,#f7f900 69.5px,#f7f800 76.5px,#f6ee00 83.5px,#ffcf00 91.5px,#ffbf1b 97.5px,#fbba2c 110.5px,#f5b936 119.5px,#e3b943 137.5px,#d9ba49 162px)"></i><i style="top:156px;background:linear-gradient(90deg,#b1be5c 0px,#aabe5e 11.5px,#97c065 17.5px,#80bf6a 21.5px,#6ebe6e 23.5px,#13bb7e 27.5px,#01b994 31.5px,#00b5a7 34.5px,#00a5c9 37.5px,#009ed3 38.5px,#0073e0 42.5px,#0052dc 44.5px,#2b329f 46.5px,#332c92 47.5px,#322d94 48.5px,#2337ab 49.5px,#0b49cd 50.5px,#005dde 51.5px,#0074e1 52.5px,#009ad4 54.5px,#00acbe 55.5px,#20bb7b 56.5px,#b0be5c 57.5px,#f4b937 58.5px,#ffbe1e 59.5px,#ffc907 60.5px,#fed200 61.5px,#f6ed00 65.5px,#f7f900 69.5px,#f7f800 76.5px,#f6ef00 83.5px,#ffcc02 92.5px,#ffc118 96.5px,#fdbc25 103.5px,#f8b934 117.5px,#e4b942 135.5px,#d9ba49 162px)"></i><i style="top:157px;background:linear-gradient(90deg,#b1be5c 0px,#aabe5e 11.5px,#97c065 17.5px,#80bf6a 21.5px,#6ebe6e 23.5px,#13bb7e 27.5px,#01b994 31.5px,#00b5a7 34.5px,#00a5c9 37.5px,#009ed3 38.5px,#0072e0 42.5px,#0052dc 44.5px,#2c319e 46.5px,#332c91 47.5px,#322d94 48.5px,#2437aa 49.5px,#0c48cc 50.5px,#005dde 51.5px,#0074e0 52.5px,#009ad4 54.5px,#00acbe 55.5px,#1fbb7b 56.5px,#b0be5c 57.5px,#f4b937 58.5px,#ffbe1e 59.5px,#ffc907 60.5px,#fed200 61.5px,#f6ee00 65.5px,#f8fb00 70.5px,#f5f100 82.5px,#fbdf00 87.5px,#ffcc02 92.5px,#ffc118 96.5px,#fdbc25 103.5px,#f8b934 117.5px,#e4b942 135.5px,#d9ba49 162px)"></i><i style="top:158px;background:linear-gradient(90deg,#b1be5c 0px,#aabe5e 11.5px,#97c065 17.5px,#80bf6a 21.5px,#6ebe6e 23.5px,#13bb7e 27.5px,#01b994 31.5px,#00b5a7 34.5px,#00a5ca 37.5px,#009ed3 38.5px,#0072e0 42.5px,#0052dc 44.5px,#2d319d 46.5px,#332c91 47.5px,#332c93 48.5px,#2536a9 49.5px,#0c47cb 50.5px,#005cde 51.5px,#0073e0 52.5px,#0099d5 54.5px,#00acbf 55.5px,#1ebb7b 56.5px,#b0be5c 57.5px,#f4b937 58.5px,#ffbe1e 59.5px,#ffc907 60.5px,#fed200 61.5px,#f6ee00 65.5px,#f8fb00 70.5px,#f5f100 82.5px,#fbdf00 87.5px,#ffcc02 92.5px,#ffc118 96.5px,#fdbc25 103.5px,#f8b934 117.5px,#e4b942 135.5px,#d9ba49 162px)"></i><i style="top:159px;background:linear-gradient(90deg,#b1be5c 0px,#aabe5e 11.5px,#97c065 17.5px,#80bf6a 21.5px,#6ebe6e 23.5px,#13bb7e 27.5px,#01b994 31.5px,#00b5a7 34.5px,#00a5ca 37.5px,#0094d7 39.5px,#0072e0 42.5px,#0052dc 44.5px,#2d309c 46.5px,#332c90 47.5px,#332c93 48.5px,#2536a8 49.5px,#0d47ca 50.5px,#005cde 51.5px,#0073e0 52.5px,#0099d5 54.5px,#00acbf 55.5px,#1dbb7b 56.5px,#b0be5c 57.5px,#f4b937 58.5px,#ffbe1e 59.5px,#ffc907 60.5px,#fed200 61.5px,#f6ee00 65.5px,#f7fa00 69.5px,#f7f800 77.5px,#f6ef00 83.5px,#ffcc02 92.5px,#ffc118 96.5px,#fdbc25 103.5px,#f8b934 117.5px,#e4b942 135.5px,#d9ba49 162px)"></i><i style="top:160px;background:linear-gradient(90deg,#b1be5c 0px,#aabe5e 11.5px,#97c065 17.5px,#80bf6a 21.5px,#6ebe6e 23.5px,#13bb7e 27.5px,#01b994 31.5px,#00b5a7 34.5px,#00a5ca 37.5px,#0094d7 39.5px,#0072e0 42.5px,#0051dc 44.5px,#2e309b 46.5px,#332c90 47.5px,#332c92 48.5px,#2635a7 49.5px,#0e46c9 50.5px,#005cdd 51.5px,#0073e0 52.5px,#0099d5 54.5px,#00abbf 55.5px,#1cbb7c 56.5px,#b0be5c 57.5px,#f4b937 58.5px,#ffbe1e 59.5px,#ffc907 60.5px,#fed200 61.5px,#f6ee00 65.5px,#f7fa00 69.5px,#f6f700 78.5px,#f7ec00 84.5px,#ffcc02 92.5px,#ffc118 96.5px,#fdbc25 103.5px,#f8b934 117.5px,#e4b942 135.5px,#d9ba49 162px)"></i><i style="top:161px;background:linear-gradient(90deg,#b1be5c 0px,#aabe5e 11.5px,#97c065 17.5px,#80bf6a 21.5px,#6ebe6e 23.5px,#13bb7e 27.5px,#01b994 31.5px,#00b5a7 34.5px,#00a5ca 37.5px,#0094d7 39.5px,#0072e0 42.5px,#0051dc 44.5px,#2f2f9a 46.5px,#332c90 47.5px,#332c92 48.5px,#2735a6 49.5px,#0e46c8 50.5px,#005bdd 51.5px,#0072e0 52.5px,#0099d5 54.5px,#00abbf 55.5px,#1cbb7c 56.5px,#b0be5c 57.5px,#f4b937 58.5px,#ffbe1e 59.5px,#ffc907 60.5px,#fed200 61.5px,#f6ee00 65.5px,#f7fa00 69.5px,#f6f700 78.5px,#f7ec00 84.5px,#ffcc02 92.5px,#ffc118 96.5px,#fdbc25 103.5px,#f8b934 117.5px,#e4b942 135.5px,#d9ba49 162px)"></i><i style="top:162px;background:linear-gradient(90deg,#b1be5c 0px,#aabe5e 11.5px,#97c065 17.5px,#80bf6a 21.5px,#6ebe6e 23.5px,#13bb7e 27.5px,#01b994 31.5px,#00b5a7 34.5px,#00a5ca 37.5px,#0094d7 39.5px,#0072e0 42.5px,#0051dc 44.5px,#302f99 46.5px,#332c8f 47.5px,#332c91 48.5px,#2834a5 49.5px,#0f46c7 50.5px,#005bdd 51.5px,#0072e0 52.5px,#0098d5 54.5px,#00abc0 55.5px,#1bbb7c 56.5px,#b0be5c 57.5px,#f4b937 58.5px,#ffbe1e 59.5px,#ffc907 60.5px,#fed200 61.5px,#f6ee00 65.5px,#f7fa00 69.5px,#f6f700 78.5px,#f7ec00 84.5px,#ffcc02 92.5px,#ffc118 96.5px,#fdbc25 103.5px,#f8b934 117.5px,#e4b942 135.5px,#d9ba49 162px)"></i><i style="top:163px;background:linear-gradient(90deg,#b1be5c 0px,#aabe5e 11.5px,#97c065 17.5px,#80bf6a 21.5px,#6ebe6e 23.5px,#13bb7e 27.5px,#01b994 31.5px,#00b5a7 34.5px,#00a5ca 37.5px,#0094d7 39.5px,#0072e0 42.5px,#0051dc 44.5px,#1a3eb7 45.5px,#302e98 46.5px,#332c8f 47.5px,#332c91 48.5px,#2834a4 49.5px,#1045c6 50.5px,#005bdd 51.5px,#0072e0 52.5px,#0098d5 54.5px,#00abc0 55.5px,#1abb7c 56.5px,#afbe5c 57.5px,#f4b937 58.5px,#ffbe1e 59.5px,#ffc907 60.5px,#fed200 61.5px,#f6ee00 65.5px,#f7fa00 69.5px,#f6f700 78.5px,#f7ed00 84.5px,#ffcc02 92.5px,#ffc118 96.5px,#fdbc25 103.5px,#f8b934 117.5px,#e4b942 135.5px,#d9ba49 162px)"></i><i style="top:164px;background:linear-gradient(90deg,#b1be5c 0px,#aabe5e 11.5px,#97c065 17.5px,#80bf6a 21.5px,#6ebe6e 23.5px,#13bb7e 27.5px,#01b994 31.5px,#00b5a7 34.5px,#00a5ca 37.5px,#0094d7 39.5px,#0071e0 42.5px,#0050dc 44.5px,#312e97 46.5px,#342b8e 47.5px,#332c91 48.5px,#2933a3 49.5px,#1045c5 50.5px,#005bdd 51.5px,#0072e0 52.5px,#0098d5 54.5px,#00abc0 55.5px,#19bb7c 56.5px,#afbe5c 57.5px,#f4b937 58.5px,#ffbe1e 59.5px,#ffc907 60.5px,#fed200 61.5px,#f6ee00 65.5px,#f7fa00 69.5px,#f6f700 78.5px,#f7ed00 84.5px,#ffcc02 92.5px,#ffc118 96.5px,#fdbc25 103.5px,#f8b934 117.5px,#e4b942 135.5px,#d9ba49 162px)"></i><i style="top:165px;background:linear-gradient(90deg,#b1be5c 0px,#aabe5e 11.5px,#97c065 17.5px,#80bf6a 21.5px,#6ebe6e 23.5px,#13bb7e 27.5px,#01b994 31.5px,#00b5a7 34.5px,#00a5ca 37.5px,#0093d7 39.5px,#0071e0 42.5px,#0050dc 44.5px,#1b3db6 45.5px,#322d97 46.5px,#342b8e 47.5px,#332c90 48.5px,#2a33a2 49.5px,#1144c5 50.5px,#005add 51.5px,#0071e0 52.5px,#0098d5 54.5px,#00abc0 55.5px,#18bb7c 56.5px,#afbe5c 57.5px,#f4b937 58.5px,#ffbe1e 59.5px,#ffc907 60.5px,#fed200 61.5px,#f6ee00 65.5px,#f7fa00 69.5px,#f6f700 78.5px,#f7ed00 84.5px,#ffcc02 92.5px,#ffc118 96.5px,#fdbc25 103.5px,#f8b934 117.5px,#e4b942 135.5px,#d9ba49 162px)"></i><i style="top:166px;background:linear-gradient(90deg,#b1be5c 0px,#aabe5e 11.5px,#97c065 17.5px,#80bf6a 21.5px,#6ebe6e 23.5px,#13bb7e 27.5px,#01b994 31.5px,#00b5a7 34.5px,#00a5ca 37.5px,#0093d7 39.5px,#0071e0 42.5px,#0050dc 44.5px,#1c3cb5 45.5px,#322d96 46.5px,#342b8d 47.5px,#332c90 48.5px,#2a32a1 49.5px,#1144c4 50.5px,#005add 51.5px,#0071e0 52.5px,#0098d5 54.5px,#00abc0 55.5px,#18bb7c 56.5px,#afbe5c 57.5px,#f4b937 58.5px,#ffbe1e 59.5px,#ffc907 60.5px,#fed200 61.5px,#f6ee00 65.5px,#f7fa00 69.5px,#f6f700 78.5px,#f7ed00 84.5px,#ffcc02 92.5px,#ffc118 96.5px,#fdbc25 103.5px,#f8b934 117.5px,#e4b942 135.5px,#d9ba49 162px)"></i><i style="top:167px;background:linear-gradient(90deg,#b1be5c 0px,#aabe5e 11.5px,#97c065 17.5px,#80bf6a 21.5px,#6ebe6e 23.5px,#13bb7e 27.5px,#01b994 31.5px,#00b5a7 34.5px,#00a5ca 37.5px,#0093d7 39.5px,#0071e0 42.5px,#014fdb 44.5px,#1d3cb4 45.5px,#322d95 46.5px,#342b8d 47.5px,#332c8f 48.5px,#2b32a0 49.5px,#1243c3 50.5px,#005add 51.5px,#0071e0 52.5px,#0097d5 54.5px,#00aac1 55.5px,#17bb7d 56.5px,#afbe5d 57.5px,#f4b937 58.5px,#ffbe1e 59.5px,#ffc907 60.5px,#fed200 61.5px,#f6ee00 65.5px,#f7fa00 69.5px,#f7f700 78.5px,#f7ed00 84.5px,#ffcc02 92.5px,#ffc118 96.5px,#fdbc25 103.5px,#f8b934 117.5px,#e4b942 135.5px,#d9ba49 162px)"></i><i style="top:168px;background:linear-gradient(90deg,#b1be5c 0px,#aabe5e 11.5px,#97c065 17.5px,#80bf6a 21.5px,#6ebe6e 23.5px,#13bb7e 27.5px,#01b994 31.5px,#00b5a7 34.5px,#00a5ca 37.5px,#0093d7 39.5px,#0071e0 42.5px,#014fda 44.5px,#1d3cb3 45.5px,#322d95 46.5px,#342b8d 47.5px,#332c8f 48.5px,#2b329f 49.5px,#1243c2 50.5px,#005add 51.5px,#0071e0 52.5px,#0097d5 54.5px,#00aac1 55.5px,#16bb7d 56.5px,#afbe5d 57.5px,#f4b937 58.5px,#ffbe1e 59.5px,#ffc907 60.5px,#fed200 61.5px,#f6ef00 65.5px,#f8fb00 70.5px,#f5f400 81.5px,#f9e500 86.5px,#ffcc02 92.5px,#ffc118 96.5px,#fdbc25 103.5px,#f8b934 117.5px,#e4b942 135.5px,#d9ba49 162px)"></i><i style="top:169px;background:linear-gradient(90deg,#b1be5c 0px,#aabe5e 11.5px,#97c065 17.5px,#80bf6a 21.5px,#6ebe6e 23.5px,#13bb7e 27.5px,#01b994 31.5px,#00b5a7 34.5px,#00a5ca 37.5px,#0093d7 39.5px,#0071e0 42.5px,#024fda 44.5px,#1e3bb3 45.5px,#322d95 46.5px,#342b8c 47.5px,#342b8e 48.5px,#2c319e 49.5px,#1343c1 50.5px,#0059dd 51.5px,#0070e0 52.5px,#0097d5 54.5px,#00aac1 55.5px,#15bb7d 56.5px,#afbe5d 57.5px,#f4b937 58.5px,#ffbe1e 59.5px,#ffc907 60.5px,#fed200 61.5px,#f6ef00 65.5px,#f8fb00 70.5px,#f6f500 80.5px,#f8e900 85.5px,#ffcc02 92.5px,#ffc118 96.5px,#fdbc25 103.5px,#f8b934 117.5px,#e4b942 135.5px,#d9ba49 162px)"></i><i style="top:170px;background:linear-gradient(90deg,#b1be5c 0px,#aabe5e 11.5px,#97c065 17.5px,#80bf6a 21.5px,#6ebe6e 23.5px,#13bb7e 27.5px,#01b994 31.5px,#00b5a7 34.5px,#00a5ca 37.5px,#0093d7 39.5px,#0071e0 42.5px,#024ed9 44.5px,#1e3bb2 45.5px,#322d94 46.5px,#342b8c 47.5px,#342b8e 48.5px,#2d319e 49.5px,#1442c1 50.5px,#0059dd 51.5px,#0070e0 52.5px,#0097d5 54.5px,#00aac1 55.5px,#15bb7d 56.5px,#afbe5d 57.5px,#f4b937 58.5px,#ffbe1e 59.5px,#ffc907 60.5px,#fed200 61.5px,#f6ef00 65.5px,#f8fb00 70.5px,#f6f500 80.5px,#f6ed00 84.5px,#ffcc02 92.5px,#ffc118 96.5px,#fdbc25 103.5px,#f8b934 117.5px,#e4b942 135.5px,#d9ba49 162px)"></i><i style="top:171px;background:linear-gradient(90deg,#b1be5c 0px,#aabe5e 11.5px,#97c065 17.5px,#80bf6a 21.5px,#6ebe6e 23.5px,#13bb7e 27.5px,#01b994 31.5px,#00b5a7 34.5px,#00abbf 36.5px,#009dd3 38.5px,#007edf 41.5px,#005fde 43.5px,#034ed8 44.5px,#1f3ab1 45.5px,#322d94 46.5px,#342b8b 47.5px,#342b8e 48.5px,#2d309d 49.5px,#1442c0 50.5px,#0059dd 51.5px,#0070e0 52.5px,#0097d5 54.5px,#00aac1 55.5px,#14bb7d 56.5px,#afbe5d 57.5px,#f4b937 58.5px,#ffbe1e 59.5px,#ffc907 60.5px,#fed200 61.5px,#f6ef00 65.5px,#f8fb00 70.5px,#f6f500 80.5px,#f6ed00 84.5px,#ffcc02 92.5px,#ffc118 96.5px,#fdbc25 103.5px,#f8b934 117.5px,#e4b942 135.5px,#d9ba49 162px)"></i><i style="top:172px;background:linear-gradient(90deg,#b1be5c 0px,#aabe5e 11.5px,#97c065 17.5px,#80bf6a 21.5px,#6ebe6e 23.5px,#13bb7e 27.5px,#01b994 31.5px,#00b5a7 34.5px,#00abbf 36.5px,#009dd3 38.5px,#007edf 41.5px,#005fde 43.5px,#034ed8 44.5px,#1f3ab0 45.5px,#322d94 46.5px,#342b8b 47.5px,#342b8d 48.5px,#2e309c 49.5px,#0059dd 51.5px,#0070e0 52.5px,#0097d6 54.5px,#00aac2 55.5px,#14bb7d 56.5px,#aebe5d 57.5px,#f4b937 58.5px,#ffbe1e 59.5px,#ffc907 60.5px,#fed200 61.5px,#f6ef00 65.5px,#f7fa00 69.5px,#f7f800 77.5px,#f6ee00 84.5px,#ffcc02 92.5px,#ffc118 96.5px,#fdbc25 103.5px,#f8b934 117.5px,#e4b942 135.5px,#d9ba49 162px)"></i><i style="top:173px;background:linear-gradient(90deg,#b1be5c 0px,#aabe5e 11.5px,#97c065 17.5px,#80bf6a 21.5px,#6ebe6e 23.5px,#13bb7e 27.5px,#01b994 31.5px,#00b5a7 34.5px,#00abbf 36.5px,#009dd3 38.5px,#0070e0 42.5px,#044ed7 44.5px,#203ab0 45.5px,#332c93 46.5px,#342b8b 47.5px,#342b8d 48.5px,#2e309b 49.5px,#1541bf 50.5px,#0059dd 51.5px,#006fe0 52.5px,#0096d6 54.5px,#00aac2 55.5px,#14bb7e 56.5px,#aebe5d 57.5px,#f4b937 58.5px,#ffbe1e 59.5px,#ffc907 60.5px,#fed200 61.5px,#f6ef00 65.5px,#f8fa00 69.5px,#f7f900 76.5px,#f6ee00 84.5px,#ffcc02 92.5px,#ffc118 96.5px,#fdbc25 103.5px,#f8b934 117.5px,#e4b942 135.5px,#d9ba49 162px)"></i><i style="top:174px;background:linear-gradient(90deg,#b1be5c 0px,#aabe5e 11.5px,#97c065 17.5px,#80bf6a 21.5px,#6ebe6e 23.5px,#13bb7e 27.5px,#01b994 31.5px,#00b5a7 34.5px,#00abbf 36.5px,#009dd3 38.5px,#0070e0 42.5px,#005fde 43.5px,#044dd6 44.5px,#2039af 45.5px,#332c93 46.5px,#342b8a 47.5px,#342b8d 48.5px,#2f2f9b 49.5px,#0058dd 51.5px,#006fe0 52.5px,#0096d6 54.5px,#00aac2 55.5px,#13bb7e 56.5px,#aebe5d 57.5px,#f4b937 58.5px,#ffbe1e 59.5px,#ffc907 60.5px,#fed300 61.5px,#f6ef00 65.5px,#f8fa00 69.5px,#f7f900 76.5px,#f6ee00 84.5px,#ffcc02 92.5px,#ffc118 96.5px,#fdbc25 103.5px,#f8b934 117.5px,#e4b942 135.5px,#d9ba49 162px)"></i><i style="top:175px;background:linear-gradient(90deg,#b1be5c 0px,#aabe5e 11.5px,#97c065 17.5px,#80bf6a 21.5px,#6ebe6e 23.5px,#13bb7e 27.5px,#01b994 31.5px,#00b5a7 34.5px,#00abbf 36.5px,#009dd3 38.5px,#0070e0 42.5px,#005fde 43.5px,#044dd6 44.5px,#2139ae 45.5px,#332c93 46.5px,#342b8a 47.5px,#342b8c 48.5px,#2f2f9a 49.5px,#0058dd 51.5px,#006fe0 52.5px,#0096d6 54.5px,#00aac2 55.5px,#13bb7e 56.5px,#aebe5d 57.5px,#f4b937 58.5px,#ffbe1e 59.5px,#ffc907 60.5px,#fed300 61.5px,#f6ef00 65.5px,#f8fa00 69.5px,#f7f900 76.5px,#f6ee00 84.5px,#ffcc01 92.5px,#ffc118 96.5px,#fdbc25 103.5px,#f8b934 117.5px,#e4b942 135.5px,#d9ba49 162px)"></i><i style="top:176px;background:linear-gradient(90deg,#b1be5c 0px,#aabe5e 11.5px,#97c065 17.5px,#80bf6a 21.5px,#6ebe6e 23.5px,#13bb7e 27.5px,#01b994 31.5px,#00b5a7 34.5px,#00abbf 36.5px,#009dd3 38.5px,#0070e0 42.5px,#005fde 43.5px,#054dd5 44.5px,#2139ae 45.5px,#332c92 46.5px,#342b8a 47.5px,#342b8c 48.5px,#302f99 49.5px,#1640bd 50.5px,#0058dd 51.5px,#006fe0 52.5px,#0096d6 54.5px,#00a9c2 55.5px,#13bb7e 56.5px,#aebe5d 57.5px,#f4b937 58.5px,#ffbe1e 59.5px,#ffc907 60.5px,#fed300 61.5px,#f6ef00 65.5px,#f8fc00 70.5px,#f5f100 83.5px,#ffcc01 92.5px,#ffc118 96.5px,#fdbc25 103.5px,#f8b934 117.5px,#e4b942 135.5px,#d9ba49 162px)"></i><i style="top:177px;background:linear-gradient(90deg,#b1be5c 0px,#aabe5e 11.5px,#97c065 17.5px,#80bf6a 21.5px,#6ebe6e 23.5px,#13bb7e 27.5px,#01b994 31.5px,#00b5a7 34.5px,#00abc0 36.5px,#009dd3 38.5px,#0070e0 42.5px,#005ede 43.5px,#054cd5 44.5px,#2239ad 45.5px,#332c92 46.5px,#352a89 47.5px,#342b8c 48.5px,#302e99 49.5px,#1740bc 50.5px,#0058dd 51.5px,#006fe0 52.5px,#0096d6 54.5px,#00a9c2 55.5px,#13bb7e 56.5px,#aebe5d 57.5px,#f4b937 58.5px,#ffbe1e 59.5px,#ffc907 60.5px,#fed300 61.5px,#f6ef00 65.5px,#f8fc00 70.5px,#f5f100 83.5px,#ffcc01 92.5px,#ffc118 96.5px,#fdbc25 103.5px,#f8b934 117.5px,#e4b942 135.5px,#d9ba49 162px)"></i><i style="top:178px;background:linear-gradient(90deg,#b1be5c 0px,#aabe5e 11.5px,#97c065 17.5px,#80bf6a 21.5px,#6ebe6e 23.5px,#13bb7e 27.5px,#01b994 31.5px,#00b5a7 34.5px,#00a4cb 37.5px,#0092d7 39.5px,#0070e0 42.5px,#005ede 43.5px,#054cd4 44.5px,#2238ad 45.5px,#332c92 46.5px,#352a89 47.5px,#342b8c 48.5px,#302e98 49.5px,#1740bc 50.5px,#0058dd 51.5px,#006fe0 52.5px,#0096d6 54.5px,#00a9c2 55.5px,#13bb7f 56.5px,#aebe5d 57.5px,#f4b937 58.5px,#ffbe1e 59.5px,#ffc907 60.5px,#fed300 61.5px,#f6ef00 65.5px,#f8fc00 70.5px,#f5f300 82.5px,#f9e500 86.5px,#ffcc01 92.5px,#ffc118 96.5px,#fdbc25 103.5px,#f8b934 117.5px,#e4b942 135.5px,#d9ba49 162px)"></i><i style="top:179px;background:linear-gradient(90deg,#b1be5c 0px,#aabe5e 11.5px,#97c065 17.5px,#80bf6a 21.5px,#6ebe6e 23.5px,#13bb7e 27.5px,#01b994 31.5px,#00b5a7 34.5px,#00a4cb 37.5px,#0092d7 39.5px,#0070e0 42.5px,#005ede 43.5px,#064cd4 44.5px,#2238ac 45.5px,#332c92 46.5px,#352a89 47.5px,#342b8b 48.5px,#312e98 49.5px,#1740bb 50.5px,#0058dd 51.5px,#006ee0 52.5px,#0096d6 54.5px,#00a9c3 55.5px,#13bb7f 56.5px,#aebe5d 57.5px,#f4b937 58.5px,#ffbe1e 59.5px,#ffc907 60.5px,#fed300 61.5px,#f6ef00 65.5px,#f8fc00 70.5px,#f5f300 82.5px,#fbe100 87.5px,#ffcc01 92.5px,#ffc118 96.5px,#fdbc25 103.5px,#f8b934 117.5px,#e4b942 135.5px,#d9ba49 162px)"></i><i style="top:180px;background:linear-gradient(90deg,#b1be5c 0px,#aabe5e 11.5px,#97c065 17.5px,#80bf6a 21.5px,#6ebe6e 23.5px,#13bb7e 27.5px,#01b994 31.5px,#00b5a7 34.5px,#00a4cb 37.5px,#0092d7 39.5px,#0070e0 42.5px,#005ede 43.5px,#064cd4 44.5px,#2338ac 45.5px,#332c91 46.5px,#352a89 47.5px,#342b8b 48.5px,#312e97 49.5px,#183fbb 50.5px,#0057dd 51.5px,#006ee0 52.5px,#0095d6 54.5px,#00a9c3 55.5px,#12bb7f 56.5px,#adbe5d 57.5px,#f4b937 58.5px,#ffbe1e 59.5px,#ffc907 60.5px,#fed300 61.5px,#f6ef00 65.5px,#f8fc00 70.5px,#f5f300 82.5px,#fbe100 87.5px,#ffcc01 92.5px,#ffc118 96.5px,#fdbc25 103.5px,#f8b934 117.5px,#e4b942 135.5px,#d9ba49 162px)"></i><i style="top:181px;background:linear-gradient(90deg,#b1be5c 0px,#aabe5e 11.5px,#97c065 17.5px,#80bf6a 21.5px,#6ebe6e 23.5px,#13bb7e 27.5px,#01b994 31.5px,#00b5a7 34.5px,#00a4cb 37.5px,#0092d7 39.5px,#0070e0 42.5px,#005ede 43.5px,#064cd3 44.5px,#2338ab 45.5px,#332c91 46.5px,#352a88 47.5px,#342b8b 48.5px,#312d97 49.5px,#183fbb 50.5px,#0057dd 51.5px,#006ee0 52.5px,#0095d6 54.5px,#00a9c3 55.5px,#12bb7f 56.5px,#adbe5d 57.5px,#f4b937 58.5px,#ffbe1e 59.5px,#ffc907 60.5px,#fed300 61.5px,#f6ef00 65.5px,#f8fc00 70.5px,#f5f300 82.5px,#fbe100 87.5px,#ffcc01 92.5px,#ffc118 96.5px,#fdbc25 103.5px,#f8b934 117.5px,#e4b942 135.5px,#d9ba49 162px)"></i><i style="top:182px;background:linear-gradient(90deg,#b1be5c 0px,#aabe5e 11.5px,#97c065 17.5px,#80bf6a 21.5px,#6ebe6e 23.5px,#13bb7e 27.5px,#01b994 31.5px,#00b5a7 34.5px,#00a4cb 37.5px,#0092d7 39.5px,#006fe0 42.5px,#005ede 43.5px,#074bd3 44.5px,#2337ab 45.5px,#332c91 46.5px,#352a88 47.5px,#342b8b 48.5px,#322d96 49.5px,#183fba 50.5px,#0057dd 51.5px,#006ee0 52.5px,#0095d6 54.5px,#00a9c3 55.5px,#12bb7f 56.5px,#adbe5d 57.5px,#f4b937 58.5px,#ffbe1e 59.5px,#ffc907 60.5px,#fed300 61.5px,#f6ef00 65.5px,#f8fc00 70.5px,#f5f300 82.5px,#fbe100 87.5px,#ffcc01 92.5px,#ffc118 96.5px,#fdbc25 103.5px,#f8b934 117.5px,#e4b942 135.5px,#d9ba49 162px)"></i><i style="top:183px;background:linear-gradient(90deg,#b1be5c 0px,#aabe5e 11.5px,#97c065 17.5px,#80bf6a 21.5px,#6ebe6e 23.5px,#13bb7e 27.5px,#01b994 31.5px,#00b5a7 34.5px,#00a4cb 37.5px,#0092d7 39.5px,#006fe0 42.5px,#005ede 43.5px,#074bd3 44.5px,#2337aa 45.5px,#332c91 46.5px,#352a88 47.5px,#342b8b 48.5px,#322d96 49.5px,#183fba 50.5px,#0057dd 51.5px,#006ee0 52.5px,#0095d6 54.5px,#00a9c3 55.5px,#12bb80 56.5px,#adbe5d 57.5px,#f4b937 58.5px,#ffbe1e 59.5px,#ffc907 60.5px,#fed300 61.5px,#f6ef00 65.5px,#f8fc00 70.5px,#f5f300 82.5px,#f9e600 86.5px,#ffcc01 92.5px,#ffc118 96.5px,#fdbc25 103.5px,#f8b934 117.5px,#e4b942 135.5px,#d9ba49 162px)"></i><i style="top:184px;background:linear-gradient(90deg,#b1be5c 0px,#aabe5e 11.5px,#97c065 17.5px,#80bf6a 21.5px,#6ebe6e 23.5px,#13bb7e 27.5px,#01b994 31.5px,#00b5a7 34.5px,#00a4cb 37.5px,#0092d7 39.5px,#006fe0 42.5px,#005ede 43.5px,#074bd2 44.5px,#2437aa 45.5px,#332c91 46.5px,#352a88 47.5px,#342b8a 48.5px,#322d96 49.5px,#193fba 50.5px,#0057dd 51.5px,#006ee0 52.5px,#0095d6 54.5px,#00a9c3 55.5px,#12bb80 56.5px,#adbe5d 57.5px,#f4b937 58.5px,#ffbe1e 59.5px,#ffc907 60.5px,#fed300 61.5px,#f6ef00 65.5px,#f8fb00 69.5px,#f6f600 80.5px,#f6ee00 84.5px,#ffcc01 92.5px,#ffc118 96.5px,#fdbc25 103.5px,#f8b934 117.5px,#e4b942 135.5px,#d9ba49 162px)"></i><i style="top:185px;background:linear-gradient(90deg,#b1be5c 0px,#aabe5e 11.5px,#97c065 17.5px,#80bf6a 21.5px,#6ebe6e 23.5px,#13bb7e 27.5px,#01b994 31.5px,#00b5a7 34.5px,#00a4cb 37.5px,#0092d7 39.5px,#006fe0 42.5px,#005ede 43.5px,#074bd2 44.5px,#2437aa 45.5px,#332c91 46.5px,#352a88 47.5px,#342b8a 48.5px,#322d96 49.5px,#193fb9 50.5px,#0057dd 51.5px,#006ee0 52.5px,#0095d6 54.5px,#00a9c3 55.5px,#12bb80 56.5px,#adbe5d 57.5px,#f4b937 58.5px,#ffbe1e 59.5px,#ffc907 60.5px,#fed300 61.5px,#f6ef00 65.5px,#f8fb00 69.5px,#f6f600 80.5px,#f6ee00 84.5px,#ffcc01 92.5px,#ffc118 96.5px,#fdbc25 103.5px,#f8b934 117.5px,#e4b942 135.5px,#d9ba49 162px)"></i><i style="top:186px;background:linear-gradient(90deg,#b1be5c 0px,#aabe5e 11.5px,#97c065 17.5px,#80bf6a 21.5px,#6ebe6e 23.5px,#13bb7e 27.5px,#01b994 31.5px,#00b5a7 34.5px,#00a4cb 37.5px,#0092d7 39.5px,#006fe0 42.5px,#005ede 43.5px,#074bd2 44.5px,#2437aa 45.5px,#332c90 46.5px,#352a88 47.5px,#342b8a 48.5px,#322d96 49.5px,#193fb9 50.5px,#0057dd 51.5px,#006ee0 52.5px,#0095d6 54.5px,#00a9c3 55.5px,#12bb80 56.5px,#adbe5d 57.5px,#f4b937 58.5px,#ffbe1e 59.5px,#ffc907 60.5px,#fed300 61.5px,#f6ef00 65.5px,#f8fb00 69.5px,#f7f800 78.5px,#f6ee00 84.5px,#ffcc01 92.5px,#ffc118 96.5px,#fdbc25 103.5px,#f8b934 117.5px,#e4b942 135.5px,#d9ba49 162px)"></i><i style="top:187px;background:linear-gradient(90deg,#b1be5c 0px,#aabe5e 11.5px,#97c065 17.5px,#80bf6a 21.5px,#6ebe6e 23.5px,#13bb7e 27.5px,#01b994 31.5px,#00b5a7 34.5px,#00a4cb 37.5px,#009cd4 38.5px,#007ddf 41.5px,#005ede 43.5px,#074bd2 44.5px,#2437a9 45.5px,#332c90 46.5px,#352a88 47.5px,#342b8a 48.5px,#322d96 49.5px,#193fb9 50.5px,#0057dd 51.5px,#006ee0 52.5px,#0095d6 54.5px,#00a9c3 55.5px,#11bb80 56.5px,#adbe5d 57.5px,#f4b937 58.5px,#ffbe1e 59.5px,#ffc907 60.5px,#fed300 61.5px,#f6ef00 65.5px,#f8fb00 69.5px,#f7f800 78.5px,#f6ee00 84.5px,#ffcc01 92.5px,#ffc118 96.5px,#fdbc25 103.5px,#f8b934 117.5px,#e4b942 135.5px,#d9ba49 162px)"></i><i style="top:188px;background:linear-gradient(90deg,#b1be5c 0px,#aabe5e 11.5px,#97c065 17.5px,#80bf6a 21.5px,#6ebe6e 23.5px,#13bb7e 27.5px,#01b994 31.5px,#00b5a7 34.5px,#00a4cc 37.5px,#0092d7 39.5px,#006fe0 42.5px,#005ede 43.5px,#074bd2 44.5px,#2437a9 45.5px,#332c90 46.5px,#352a88 47.5px,#342b8a 48.5px,#322d96 49.5px,#193fb9 50.5px,#0057dd 51.5px,#006ee0 52.5px,#0095d6 54.5px,#00a9c3 55.5px,#11bb80 56.5px,#acbe5d 57.5px,#f4b937 58.5px,#ffbe1e 59.5px,#ffc907 60.5px,#fed300 61.5px,#f6ef00 65.5px,#f8fb00 69.5px,#f7f800 78.5px,#f6ee00 84.5px,#ffcc01 92.5px,#ffc118 96.5px,#fdbc25 103.5px,#f8b934 117.5px,#e4b942 135.5px,#d9ba49 162px)"></i><i style="top:189px;background:linear-gradient(90deg,#b1be5c 0px,#aabe5e 11.5px,#97c065 17.5px,#80bf6a 21.5px,#6ebe6e 23.5px,#13bb7e 27.5px,#01b994 31.5px,#00b5a7 34.5px,#00a4cc 37.5px,#0092d7 39.5px,#006fe0 42.5px,#005ede 43.5px,#074bd2 44.5px,#2437a9 45.5px,#332c90 46.5px,#352a88 47.5px,#342b8a 48.5px,#322d96 49.5px,#193eb9 50.5px,#0057dd 51.5px,#006ee0 52.5px,#0095d6 54.5px,#00a9c3 55.5px,#11bb81 56.5px,#acbe5e 57.5px,#f4b937 58.5px,#ffbe1e 59.5px,#ffc907 60.5px,#fed300 61.5px,#f6ef00 65.5px,#f8fb00 69.5px,#f7f800 78.5px,#f6ee00 84.5px,#ffcc01 92.5px,#ffc118 96.5px,#fdbc25 103.5px,#f8b934 117.5px,#e4b942 135.5px,#d9ba49 162px)"></i></div>
<div class="cb" style="left:203.7px;top:24px;width:7.9px;height:193px;transform:translateY(0.4px) scaleY(1);transform-origin:0 0;background:linear-gradient(180deg,#f8fc00 0.00%,#f6f700 1.59%,#f5f100 3.17%,#f8e800 4.76%,#fbe000 6.35%,#fdd800 7.94%,#fed300 9.52%,#ffcd01 11.11%,#ffc70d 12.70%,#ffc119 14.29%,#febd22 15.87%,#fcbb2a 17.46%,#fab932 19.05%,#efb93a 20.63%,#e5b942 22.22%,#dbba47 23.81%,#d2bb4c 25.40%,#c9bb52 26.98%,#bfbc56 28.57%,#b5bd5a 30.16%,#aabe5e 31.75%,#9fc062 33.33%,#94c066 34.92%,#88bf68 36.51%,#7cbf6b 38.10%,#70be6d 39.68%,#57bd72 41.27%,#3bbc77 42.86%,#1ebb7b 44.44%,#0fba83 46.03%,#07ba8d 47.62%,#00b997 49.21%,#00b79f 50.79%,#00b5a7 52.38%,#00b3af 53.97%,#00b1b6 55.56%,#00aeba 57.14%,#00abbf 58.73%,#00a8c4 60.32%,#00a6c9 61.90%,#00a3cd 63.49%,#00a0d2 65.08%,#009cd4 66.67%,#0097d5 68.25%,#0093d7 69.84%,#008fd8 71.43%,#008bda 73.02%,#0086dc 74.60%,#0082dd 76.19%,#007edf 77.78%,#007ae0 79.37%,#0075e1 80.95%,#006fe0 82.54%,#0069df 84.13%,#0063de 85.71%,#005dde 87.30%,#0058dd 88.89%,#0052dc 90.48%,#094ad0 92.06%,#1641bd 93.65%,#2337ab 95.24%,#312e98 96.83%,#332c8f 98.41%,#352a87 100.00%)"></div>
<div class="cb" style="left:516.9px;top:24px;width:7.9px;height:190px;transform:translateY(0.4px) scaleY(1.00158);transform-origin:0 0;background:linear-gradient(180deg,#f8fc00 0.00%,#f6f700 1.59%,#f5f100 3.17%,#f8e800 4.76%,#fbe000 6.35%,#fdd800 7.94%,#fed300 9.52%,#ffcd01 11.11%,#ffc70d 12.70%,#ffc119 14.29%,#febd22 15.87%,#fcbb2a 17.46%,#fab932 19.05%,#efb93a 20.63%,#e5b942 22.22%,#dbba47 23.81%,#d2bb4c 25.40%,#c9bb52 26.98%,#bfbc56 28.57%,#b5bd5a 30.16%,#aabe5e 31.75%,#9fc062 33.33%,#94c066 34.92%,#88bf68 36.51%,#7cbf6b 38.10%,#70be6d 39.68%,#57bd72 41.27%,#3bbc77 42.86%,#1ebb7b 44.44%,#0fba83 46.03%,#07ba8d 47.62%,#00b997 49.21%,#00b79f 50.79%,#00b5a7 52.38%,#00b3af 53.97%,#00b1b6 55.56%,#00aeba 57.14%,#00abbf 58.73%,#00a8c4 60.32%,#00a6c9 61.90%,#00a3cd 63.49%,#00a0d2 65.08%,#009cd4 66.67%,#0097d5 68.25%,#0093d7 69.84%,#008fd8 71.43%,#008bda 73.02%,#0086dc 74.60%,#0082dd 76.19%,#007edf 77.78%,#007ae0 79.37%,#0075e1 80.95%,#006fe0 82.54%,#0069df 84.13%,#0063de 85.71%,#005dde 87.30%,#0058dd 88.89%,#0052dc 90.48%,#094ad0 92.06%,#1641bd 93.65%,#2337ab 95.24%,#312e98 96.83%,#332c8f 98.41%,#352a87 100.00%)"></div>
<div class="t r" style="right:524.8px;top:213.766px;">0</div>
<div class="t r" style="right:524.8px;top:181.599px;">10</div>
<div class="t r" style="right:524.8px;top:149.433px;">20</div>
<div class="t r" style="right:524.8px;top:117.266px;">30</div>
<div class="t r" style="right:524.8px;top:85.0995px;">40</div>
<div class="t r" style="right:524.8px;top:52.9328px;">50</div>
<div class="t r" style="right:524.8px;top:20.7661px;">60</div>
<div class="t c" style="left:28px;top:222.966px;width:100px;margin-left:-50px;">650</div>
<div class="t c" style="left:68.75px;top:222.966px;width:100px;margin-left:-50px;">700</div>
<div class="t c" style="left:109.5px;top:222.966px;width:100px;margin-left:-50px;">750</div>
<div class="t c" style="left:150.25px;top:222.966px;width:100px;margin-left:-50px;">800</div>
<div class="t c" style="left:191px;top:222.966px;width:100px;margin-left:-50px;">850</div>
<div class="t" style="left:214px;top:25.9911px;">0.5</div>
<div class="tk" style="left:210px;top:29.125px"></div>
<div class="t" style="left:214px;top:52.1161px;">0</div>
<div class="tk" style="left:210px;top:55.25px"></div>
<div class="t" style="left:214px;top:78.2412px;">-0.5</div>
<div class="tk" style="left:210px;top:81.375px"></div>
<div class="t" style="left:214px;top:104.366px;">-1</div>
<div class="tk" style="left:210px;top:107.5px"></div>
<div class="t" style="left:214px;top:130.491px;">-1.5</div>
<div class="tk" style="left:210px;top:133.625px"></div>
<div class="t" style="left:214px;top:156.616px;">-2</div>
<div class="tk" style="left:210px;top:159.75px"></div>
<div class="t" style="left:214px;top:182.741px;">-2.5</div>
<div class="tk" style="left:210px;top:185.875px"></div>
<div class="t" style="left:214px;top:208.866px;">-3</div>
<div class="tk" style="left:210px;top:212px"></div>
<div class="t r" style="right:210.4px;top:210.866px;">0</div>
<div class="t r" style="right:210.4px;top:179.149px;">10</div>
<div class="t r" style="right:210.4px;top:147.433px;">20</div>
<div class="t r" style="right:210.4px;top:115.716px;">30</div>
<div class="t r" style="right:210.4px;top:83.9995px;">40</div>
<div class="t r" style="right:210.4px;top:52.2828px;">50</div>
<div class="t r" style="right:210.4px;top:20.5662px;">60</div>
<div class="t c" style="left:342px;top:221.166px;width:100px;margin-left:-50px;">650</div>
<div class="t c" style="left:382.5px;top:221.166px;width:100px;margin-left:-50px;">700</div>
<div class="t c" style="left:423px;top:221.166px;width:100px;margin-left:-50px;">750</div>
<div class="t c" style="left:463.5px;top:221.166px;width:100px;margin-left:-50px;">800</div>
<div class="t c" style="left:504px;top:221.166px;width:100px;margin-left:-50px;">850</div>
<div class="t" style="left:527.1px;top:48.2661px;">1</div>
<div class="tk" style="left:523.2px;top:51.4px"></div>
<div class="t" style="left:527.1px;top:78.2662px;">0</div>
<div class="tk" style="left:523.2px;top:81.4px"></div>
<div class="t" style="left:527.1px;top:108.266px;">-1</div>
<div class="tk" style="left:523.2px;top:111.4px"></div>
<div class="t" style="left:527.1px;top:138.266px;">-2</div>
<div class="tk" style="left:523.2px;top:141.4px"></div>
<div class="t" style="left:527.1px;top:168.266px;">-3</div>
<div class="tk" style="left:523.2px;top:171.4px"></div>
<div class="t" style="left:527.1px;top:198.266px;">-4</div>
<div class="tk" style="left:523.2px;top:201.4px"></div>
<div class="l c" style="left:109.5px;top:235.6px;width:100px;margin-left:-50px;">wavelength(nm)</div>
<div class="l c" style="left:423px;top:234.8px;width:100px;margin-left:-50px;">wavelength(nm)</div>
<div class="l yl" style="left:10.1px;top:120.5px"><i style="color:#555">&theta;</i>(&deg;)</div>
<div class="l yl" style="left:324.3px;top:119.9px"><i style="color:#555">&theta;</i>(&deg;)</div>
<div class="ct" style="left:188.7px;top:9.8px">n<sub>2</sub> (cm<sup>2</sup>/W)</div>
<div class="ct" style="left:506.9px;top:13.2px"><i style="color:#6a6a6a">&beta;</i>(cm/W)</div>
<div class="t" style="left:212.4px;top:222.2px"><span class="x">&times;</span><span style="margin-left:1.4px">10</span><sup>-10</sup></div>
<div class="t" style="left:525.8px;top:219.8px"><span class="x">&times;</span><span style="margin-left:1.4px">10</span><sup>-5</sup></div>
<div class="cap c" style="left:120.8px;top:249.6px;width:40px;margin-left:-20px">(a)</div>
<div class="cap c" style="left:435.5px;top:249.2px;width:40px;margin-left:-20px">(b)</div>
</body></html>
